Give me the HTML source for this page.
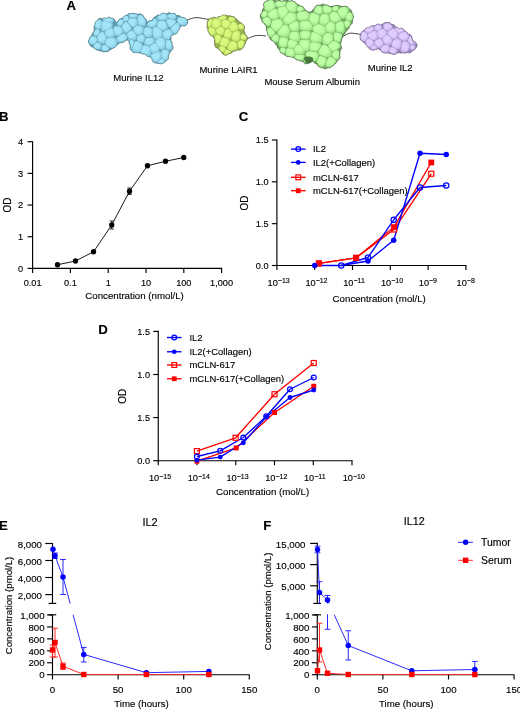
<!DOCTYPE html>
<html><head><meta charset="utf-8"><style>
html,body{margin:0;padding:0;background:#fff;}
body{width:520px;height:710px;overflow:hidden;}
svg{display:block;}
text{font-family:"Liberation Sans", Arial, Helvetica, sans-serif;fill:#000;stroke:#000;stroke-width:0.14px;}
</style></head><body>
<svg width="520" height="710" viewBox="0 0 520 710">
<defs><radialGradient id="gb" cx="0.45" cy="0.42" r="0.62"><stop offset="0" stop-color="#a2e4f8"/><stop offset="0.45" stop-color="#a2e4f8"/><stop offset="1" stop-color="#84c8de"/></radialGradient><radialGradient id="gy" cx="0.45" cy="0.42" r="0.62"><stop offset="0" stop-color="#d8fa7c"/><stop offset="0.45" stop-color="#d8fa7c"/><stop offset="1" stop-color="#bcdc64"/></radialGradient><radialGradient id="gg" cx="0.45" cy="0.42" r="0.62"><stop offset="0" stop-color="#bcffa4"/><stop offset="0.45" stop-color="#bcffa4"/><stop offset="1" stop-color="#9ce288"/></radialGradient><radialGradient id="gp" cx="0.45" cy="0.42" r="0.62"><stop offset="0" stop-color="#dfccff"/><stop offset="0.45" stop-color="#dfccff"/><stop offset="1" stop-color="#c4ade9"/></radialGradient></defs>
<path d="M185,21 C189,19.5 192,17.8 196,17.6 C200,17.4 204,19 209,19.5" fill="none" stroke="#333" stroke-width="0.9"/>
<path d="M244,39.5 C248,39 251,36.8 254,36 C257,35.2 261,35.2 266,36" fill="none" stroke="#333" stroke-width="0.9"/>
<path d="M340,37.5 C344,36.5 347,33.5 350,33.2 C353,33 357,34 362,34.5" fill="none" stroke="#333" stroke-width="0.9"/>
<path d="M107.82,17.40 106.62,18.38 104.91,17.90 103.60,18.16 102.61,18.80 100.92,18.23 99.16,18.61 98.25,19.22 97.55,20.42 96.63,20.85 95.58,21.91 95.01,23.29 94.99,24.66 94.03,26.42 94.03,27.75 94.42,28.75 93.94,29.94 93.99,31.52 92.46,33.19 91.85,34.64 91.78,35.48 91.00,36.55 89.65,37.58 89.22,39.22 88.49,40.69 88.68,42.60 89.71,43.93 89.93,45.14 90.57,46.10 91.54,46.75 93.06,46.94 93.43,47.79 94.25,48.60 95.74,49.09 97.07,50.17 98.75,50.35 100.36,51.09 101.72,51.11 103.19,51.79 107.16,51.58 108.67,50.95 110.62,49.40 112.23,48.82 113.00,48.10 114.96,47.44 116.09,46.31 116.48,45.56 117.81,44.69 118.66,43.42 120.44,42.62 121.47,42.78 122.95,42.49 124.58,41.20 125.78,40.75 126.66,39.79 126.96,39.76 128.54,40.83 129.46,41.08 129.17,41.96 129.17,43.33 130.52,46.01 129.87,47.27 130.02,48.80 130.60,49.66 131.60,50.28 132.04,51.39 132.83,52.19 134.44,52.67 135.22,52.55 136.77,52.87 138.14,52.61 138.97,52.88 140.27,52.90 142.16,53.92 144.33,53.91 144.95,54.50 146.27,54.95 146.90,55.91 147.83,56.54 148.93,56.76 149.73,56.63 150.26,57.30 152.10,58.71 152.31,60.80 153.67,62.45 155.00,63.00 156.63,62.94 160.32,63.93 164.28,62.76 165.09,61.94 165.55,60.76 167.14,60.23 168.03,59.34 168.58,57.54 168.19,56.04 168.92,54.93 169.18,53.18 170.22,52.24 170.68,50.97 171.76,50.22 172.63,48.92 172.94,47.38 172.63,45.85 171.99,44.83 172.15,42.78 171.57,41.37 170.72,40.48 171.00,37.91 170.72,36.47 172.41,35.44 173.67,34.16 175.15,34.24 176.76,33.38 177.44,32.36 177.66,30.98 178.83,30.18 179.70,28.89 180.00,27.36 179.92,26.58 182.28,25.78 184.47,25.97 185.92,25.37 186.53,24.87 187.40,23.56 187.71,22.02 187.40,20.48 187.03,19.79 185.12,18.01 184.41,17.63 182.85,17.32 181.55,17.55 180.95,16.74 179.67,15.89 178.17,15.59 176.30,15.58 175.55,14.27 174.58,13.62 172.85,13.45 171.71,13.95 170.93,13.16 169.39,12.69 168.34,12.90 167.43,13.51 165.57,13.72 164.33,13.23 162.75,13.23 161.29,13.84 160.10,15.09 159.59,15.29 158.40,14.99 157.38,15.20 156.51,15.77 156.01,16.51 155.11,16.76 153.76,17.66 152.85,19.01 152.60,19.91 151.55,20.60 150.00,20.60 148.50,21.22 147.36,22.37 146.90,23.26 146.85,21.27 146.24,19.79 144.62,17.81 143.72,17.16 143.48,16.23 142.63,14.96 140.62,13.88 139.10,13.88 137.68,14.47 136.21,13.64 134.87,13.72 132.95,13.22 130.98,13.75 130.00,13.61 128.45,13.91 127.76,14.29 126.68,15.36 125.14,15.67 124.43,16.04 123.31,17.16 122.88,18.07 119.70,19.05 118.61,20.14 118.05,21.46 116.54,22.18 115.03,20.94 114.53,19.46 113.70,18.62 112.60,18.17 110.99,18.30 110.33,17.65 109.36,17.25Z" fill="#609fb3" stroke="#3a6a78" stroke-width="0.7"/><g fill="url(#gb)"><path d="M173.1,32.9 173.2,33.1 173.4,33.2 173.5,33.4 173.7,33.5 173.9,33.6 174.1,33.7 174.3,33.7 174.5,33.8 174.8,33.8 175.0,33.8 175.2,33.7 175.4,33.7 175.6,33.6 175.8,33.5 176.1,33.4 176.2,33.3 176.4,33.2 176.6,33.0 176.7,32.8 176.8,32.7 176.9,32.6 177.0,32.4 177.1,32.2 177.2,32.0 177.2,31.8 177.3,31.0 177.3,30.9 177.4,30.9 177.4,30.8 177.4,30.8 177.4,30.8 177.4,30.8 177.4,30.7 177.5,30.7 177.5,30.7 178.2,30.2 178.4,30.1 178.6,29.9 178.7,29.8 178.8,29.6 179.1,29.1 179.3,28.9 179.3,28.7 179.4,28.5 179.5,28.3 179.6,27.7 179.6,27.5 179.6,27.2 179.6,27.0 179.6,26.6 179.6,26.6 179.6,26.6 179.6,26.5 179.6,26.5 179.6,26.5 179.6,26.4 179.7,26.3 179.7,26.3 179.7,26.2 179.8,26.0 179.9,25.8 179.9,25.6 179.9,25.4 179.9,25.2 179.9,24.9 179.9,24.7 179.8,24.5 179.7,24.3 179.6,24.1 179.5,24.0 179.3,23.8 179.2,23.6 178.8,23.3 178.6,23.2 178.4,23.1 178.2,23.0 178.0,22.9 177.8,22.8 177.6,22.8 177.4,22.8 177.2,22.8 177.0,22.8 176.8,22.9 176.6,22.9 176.4,23.0 176.2,23.1 176.0,23.2 175.9,23.4 171.4,27.5 171.2,27.7 171.1,27.8 171.0,28.0 170.9,28.2 170.8,28.4 170.7,28.6 170.7,28.8 170.7,29.0 170.7,29.3 170.7,29.5 170.7,29.7 170.8,29.9 170.9,30.1 171.0,30.3 171.1,30.5Z"/><path d="M151.0,55.0 150.9,55.2 150.9,55.4 150.8,55.6 150.8,55.8 150.8,56.1 150.8,56.3 150.8,56.5 150.9,56.7 150.9,56.9 151.0,57.1 151.2,57.3 151.3,57.5 151.4,57.7 151.6,57.8 152.3,58.4 152.4,58.4 152.4,58.4 152.4,58.5 152.5,58.5 152.5,58.5 152.5,58.6 152.5,58.6 152.5,58.7 152.5,58.7 152.7,60.0 152.7,60.2 152.7,60.4 152.8,60.6 152.9,60.8 153.0,61.0 153.1,61.1 153.5,61.6 153.7,61.7 153.8,61.9 154.0,62.0 154.2,62.1 154.4,62.2 154.6,62.3 154.8,62.4 155.0,62.4 155.3,62.4 155.5,62.4 155.7,62.3 155.9,62.3 156.1,62.2 156.3,62.1 156.5,62.0 160.4,59.2 160.5,59.0 160.7,58.9 160.8,58.7 160.9,58.5 161.0,58.3 161.1,58.1 161.2,57.9 161.2,57.7 161.3,57.5 161.3,57.3 161.1,53.4 161.1,53.2 161.0,53.0 161.0,52.8 160.9,52.6 160.8,52.4 160.7,52.2 160.5,52.1 160.4,51.9 160.2,51.8 160.1,51.6 159.9,51.5 159.7,51.5 159.5,51.4 159.3,51.3 159.1,51.3 158.9,51.3 158.6,51.3 158.4,51.4 158.2,51.4 158.0,51.5 152.1,54.0 151.9,54.1 151.7,54.2 151.6,54.3 151.4,54.5 151.3,54.6 151.1,54.8 151.0,55.0Z"/><path d="M156.6,39.6 156.4,39.7 156.3,39.8 156.1,39.9 155.9,40.1 155.8,40.2 155.7,40.4 155.6,40.6 155.5,40.8 155.4,41.0 155.4,41.2 155.4,41.4 155.3,41.7 155.4,41.9 155.4,42.1 155.5,42.3 155.5,42.5 155.6,42.7 155.8,42.9 160.0,48.9 160.2,49.0 160.3,49.2 160.5,49.3 160.6,49.4 160.8,49.5 161.0,49.6 161.2,49.7 161.4,49.7 161.6,49.8 161.8,49.8 162.1,49.8 162.3,49.7 162.5,49.7 163.5,49.4 163.7,49.3 163.9,49.2 164.1,49.1 164.3,48.9 164.5,48.8 164.6,48.6 164.7,48.5 164.8,48.3 164.9,48.1 165.0,47.9 165.0,47.6 165.1,47.4 165.5,40.9 165.5,40.7 165.5,40.5 165.5,40.3 165.4,40.1 165.4,39.9 165.3,39.7 165.1,39.5 165.0,39.4 164.9,39.2 164.7,39.1 163.2,37.9 163.0,37.7 162.8,37.6 162.6,37.5 162.4,37.5 162.2,37.4 162.0,37.4 161.8,37.4 161.6,37.4 161.3,37.5 161.1,37.5 160.9,37.6Z"/><path d="M100.9,29.0 100.9,29.2 100.9,29.4 100.9,29.6 100.9,29.8 101.0,30.1 101.1,30.3 101.2,30.4 101.3,30.6 101.5,30.8 101.6,31.0 101.8,31.1 102.0,31.2 102.2,31.3 102.4,31.4 102.7,31.5 102.9,31.5 103.1,31.6 103.4,31.6 103.6,31.5 103.8,31.5 104.0,31.5 104.2,31.4 104.4,31.3 111.7,27.2 111.9,27.1 112.0,26.9 112.2,26.8 112.3,26.6 112.4,26.5 112.6,26.3 112.6,26.1 112.7,25.9 112.8,25.7 112.8,25.5 112.8,25.2 112.8,25.0 112.7,24.8 112.7,24.6 112.7,24.5 112.6,24.3 112.5,24.1 112.4,23.9 112.2,23.8 112.1,23.6 111.9,23.5 111.7,23.3 111.5,23.2 111.3,23.1 104.8,20.8 104.6,20.7 104.3,20.7 104.1,20.6 103.9,20.6 103.7,20.7 103.5,20.7 103.3,20.8 103.1,20.8 102.9,20.9 102.7,21.1 102.5,21.2 102.4,21.3 102.3,21.5 102.1,21.7 102.0,21.9 101.9,22.1 101.9,22.3 101.8,22.5Z"/><path d="M110.4,47.8 110.6,47.9 110.8,48.0 111.0,48.1 111.3,48.2 111.5,48.2 111.7,48.2 111.9,48.2 112.1,48.1 112.3,48.1 112.5,48.0 112.7,47.9 112.8,47.8 112.9,47.8 112.9,47.8 114.3,47.3 114.5,47.2 114.7,47.2 114.8,47.0 115.0,46.9 115.1,46.8 115.6,46.4 115.7,46.2 115.9,46.0 116.0,45.8 116.2,45.4 116.2,45.4 116.2,45.4 116.2,45.3 116.3,45.3 116.3,45.3 116.5,45.1 116.6,45.0 116.8,44.8 116.9,44.6 117.0,44.4 117.0,44.2 117.1,44.0 117.1,43.7 117.1,43.5 117.1,43.3 117.1,43.1 116.3,39.3 116.2,39.1 116.1,38.9 116.0,38.7 115.9,38.5 115.8,38.3 115.7,38.2 115.5,38.0 115.3,37.9 115.2,37.8 115.0,37.7 114.8,37.6 114.6,37.6 114.4,37.6 114.1,37.5 108.7,37.5 108.5,37.5 108.3,37.5 108.1,37.5 107.9,37.6 107.7,37.7 107.5,37.8 107.3,37.9 107.2,38.1 107.0,38.2 106.9,38.4 106.8,38.6 106.7,38.8 105.2,42.3 105.1,42.5 105.0,42.7 105.0,42.9 105.0,43.1 105.0,43.3 105.0,43.6 105.1,43.8 105.1,44.0 105.2,44.2 105.3,44.4 105.5,44.6 105.6,44.7 105.8,44.9 106.0,45.0Z"/><path d="M159.5,15.6 159.3,15.7 159.1,15.7 158.9,15.7 158.7,15.8 158.5,15.9 158.3,16.0 158.1,16.1 157.9,16.2 157.8,16.4 157.7,16.5 157.5,16.7 157.4,16.9 157.4,17.1 157.3,17.3 157.3,17.5 157.2,17.7 157.2,17.9 157.2,18.1 157.3,18.3 157.3,18.5 157.4,18.7 157.6,19.1 157.7,19.3 157.8,19.5 157.9,19.6 158.1,19.8 158.3,19.9 158.4,20.1 158.6,20.2 158.8,20.3 159.1,20.3 159.3,20.4 159.5,20.4 164.5,20.5 164.7,20.5 164.9,20.5 165.1,20.4 165.3,20.4 165.5,20.3 165.7,20.2 165.9,20.1 166.1,19.9 167.2,18.9 167.3,18.7 167.4,18.6 167.6,18.4 167.6,18.2 167.7,18.0 167.8,17.8 167.8,17.6 167.8,17.4 167.8,17.2 167.8,16.2 167.8,15.9 167.7,15.7 167.7,15.5 167.6,15.3 167.5,15.2 167.4,15.0 167.2,14.8 167.1,14.7 166.9,14.5 166.8,14.4 166.6,14.3 166.4,14.2 166.2,14.2 166.0,14.1 165.8,14.1 165.6,14.1 165.5,14.1 165.5,14.1 165.4,14.1 165.4,14.1 164.6,13.8 164.5,13.7 164.3,13.6 164.0,13.6 163.8,13.6 163.3,13.6 163.0,13.6 162.8,13.6 162.6,13.7 162.4,13.8 161.9,14.0 161.7,14.1 161.5,14.2 161.3,14.3 161.2,14.5 160.4,15.3 160.4,15.3 160.3,15.4 160.3,15.4 160.2,15.4 160.2,15.4 159.8,15.6 159.7,15.6 159.7,15.6 159.6,15.6 159.6,15.7Z"/><path d="M116.9,40.7 116.9,40.9 117.0,41.1 117.1,41.3 117.2,41.5 117.3,41.7 117.5,41.8 117.7,42.0 117.8,42.1 118.0,42.2 118.2,42.3 118.4,42.4 118.6,42.4 118.8,42.4 119.1,42.4 119.3,42.4 119.5,42.4 119.7,42.3 119.9,42.3 120.2,42.1 120.2,42.1 120.3,42.1 120.3,42.1 120.4,42.1 120.4,42.1 120.5,42.1 120.6,42.1 121.1,42.2 121.3,42.2 121.5,42.2 121.6,42.2 121.8,42.1 122.2,42.1 122.4,42.0 122.6,42.0 122.8,41.9 123.0,41.8 123.1,41.6 124.2,40.8 124.2,40.8 124.3,40.7 124.4,40.7 124.4,40.7 125.0,40.5 125.2,40.4 125.3,40.3 125.5,40.2 125.7,40.0 125.8,39.9 126.2,39.4 126.3,39.4 126.3,39.4 126.4,39.3 126.6,39.2 126.7,39.0 126.9,38.8 127.0,38.7 127.1,38.5 127.2,38.3 127.3,38.1 127.3,37.8 127.3,37.6 127.3,37.4 127.3,37.2 127.3,37.0 127.2,36.8 126.5,34.9 126.4,34.7 126.4,34.5 126.2,34.3 126.1,34.2 126.0,34.0 125.8,33.9 125.6,33.8 125.5,33.7 125.3,33.6 125.1,33.5 124.9,33.5 124.7,33.4 124.4,33.4 124.2,33.4 124.0,33.4 123.8,33.4 123.6,33.5 123.3,33.6 123.1,33.7 117.6,37.0 117.4,37.1 117.3,37.2 117.1,37.4 117.0,37.5 116.8,37.7 116.7,37.9 116.7,38.1 116.6,38.3 116.5,38.5 116.5,38.7 116.5,38.9 116.5,39.1 116.6,39.3Z"/><path d="M101.4,48.0 101.4,48.2 101.3,48.5 101.3,48.7 101.3,48.9 101.3,49.1 101.4,49.3 101.4,49.5 101.5,49.7 101.6,49.9 101.7,50.1 101.9,50.3 102.0,50.4 102.2,50.6 102.4,50.7 102.6,50.8 102.8,50.9 103.0,51.0 103.2,51.0 103.4,51.1 103.6,51.1 103.9,51.1 106.6,51.0 106.9,50.9 107.1,50.9 107.4,50.8 107.7,50.7 107.9,50.6 108.1,50.4 108.3,50.3 108.4,50.2 108.6,50.0 108.7,49.8 108.8,49.6 108.9,49.4 109.0,49.2 109.0,49.0 109.1,48.8 109.1,48.6 109.1,48.4 109.0,48.2 109.0,47.9 108.9,47.7 108.8,47.5 108.7,47.4 108.5,47.2 108.4,47.0 108.2,46.9 108.0,46.8 105.4,45.1 105.2,44.9 105.0,44.9 104.8,44.8 104.6,44.7 104.3,44.7 104.1,44.7 103.9,44.7 103.7,44.8 103.5,44.8 103.3,44.9 103.1,45.0 102.9,45.1 102.7,45.3 102.6,45.4 102.4,45.6 102.3,45.8 102.2,45.9 102.1,46.2Z"/><path d="M177.2,19.1 177.1,19.3 177.1,19.5 177.0,19.7 177.0,20.0 177.0,20.2 177.1,20.4 177.3,21.2 177.3,21.4 177.4,21.6 177.5,21.8 177.6,22.0 177.7,22.1 177.8,22.3 178.0,22.4 180.8,24.8 181.0,25.0 181.1,25.1 181.4,25.2 181.6,25.3 181.8,25.3 182.0,25.4 182.2,25.4 182.3,25.4 182.3,25.4 183.9,25.5 184.1,25.5 184.3,25.5 184.5,25.5 184.7,25.4 184.9,25.3 185.4,25.1 185.6,25.0 185.8,24.9 186.0,24.8 186.0,24.8 186.1,24.6 186.3,24.5 186.4,24.3 186.8,23.8 186.9,23.6 187.0,23.4 187.0,23.2 187.1,23.0 187.2,22.5 187.2,22.2 187.2,22.0 187.2,21.8 187.2,21.6 187.1,21.0 187.0,20.7 186.9,20.5 186.8,20.3 186.7,20.1 186.6,19.9 186.4,19.8 185.1,18.6 184.9,18.4 184.8,18.3 184.6,18.2 184.6,18.2 184.4,18.1 184.2,18.0 183.9,18.0 183.3,17.8 183.0,17.8 182.8,17.8 182.6,17.8 182.4,17.8 181.7,18.0 181.6,18.0 181.6,18.0 181.5,18.0 181.5,18.0 181.4,18.0 181.4,17.9 181.4,17.9 181.3,17.9 181.3,17.9 181.3,17.9 181.2,17.8 181.2,17.8 181.1,17.7 180.9,17.5 180.7,17.4 180.6,17.3 180.4,17.2 180.2,17.1 180.0,17.1 179.7,17.0 179.5,17.0 179.3,17.0 179.1,17.1 178.9,17.1 178.7,17.2 178.5,17.3 178.3,17.4 178.1,17.5 178.0,17.7 177.8,17.8 177.7,18.0 177.6,18.2 177.5,18.4Z"/><path d="M161.4,57.1 161.5,57.3 161.5,57.5 161.6,57.7 161.6,57.9 161.7,58.1 161.8,58.3 162.0,58.4 162.1,58.6 162.3,58.7 162.4,58.8 162.6,58.9 162.8,59.0 165.0,59.9 165.2,60.0 165.4,60.0 165.6,60.1 165.8,60.1 166.0,60.1 166.2,60.0 166.4,60.0 166.6,59.9 166.8,59.8 167.0,59.7 167.2,59.6 167.3,59.4 167.5,59.3 167.6,59.1 167.7,58.9 167.8,58.7 167.9,58.5 168.0,58.1 168.1,57.9 168.1,57.7 168.1,57.5 168.1,57.3 168.1,57.1 168.0,56.9 167.8,56.2 167.8,56.1 167.8,56.1 167.8,56.0 167.8,56.0 167.8,56.0 167.8,55.9 167.9,55.9 167.9,55.8 167.9,55.8 168.3,55.2 168.4,55.0 168.5,54.8 168.6,54.6 168.6,54.3 168.8,53.2 168.8,53.1 168.8,53.1 168.8,53.0 168.9,52.9 169.0,52.7 169.0,52.5 169.1,52.3 169.1,52.1 169.1,51.9 169.1,51.6 169.0,51.4 169.0,51.2 168.9,51.0 168.8,50.8 168.6,50.6 168.5,50.5 168.3,50.3 168.2,50.2 168.0,50.1 167.8,50.0 167.6,49.9 165.7,49.3 165.5,49.2 165.3,49.2 165.1,49.2 164.9,49.2 164.6,49.2 164.4,49.3 162.8,49.8 162.6,49.9 162.4,50.0 162.2,50.1 162.0,50.2 161.8,50.4 161.7,50.5 161.6,50.7 161.5,50.9 161.4,51.1 161.3,51.3 161.2,51.5 161.2,51.8 161.2,52.0Z"/><path d="M150.6,45.5 150.5,45.6 150.3,45.7 150.2,45.9 150.1,46.1 150.0,46.3 149.9,46.5 149.8,46.7 149.8,46.9 149.8,47.1 149.8,47.3 149.8,47.5 149.8,47.7 150.7,51.6 150.8,51.8 150.9,52.0 151.0,52.2 151.1,52.4 151.2,52.6 151.3,52.7 151.5,52.9 151.7,53.0 151.9,53.1 152.1,53.2 152.3,53.3 152.5,53.3 152.7,53.3 152.9,53.3 153.1,53.3 153.3,53.3 153.5,53.2 153.7,53.2 158.3,51.2 158.5,51.1 158.7,51.0 158.8,50.9 159.0,50.7 159.1,50.6 159.3,50.4 159.4,50.2 159.5,50.0 159.5,49.8 159.6,49.6 159.6,49.4 159.6,49.1 159.6,48.9 159.6,48.7 159.5,48.5 159.4,48.3 159.3,48.1 159.2,47.9 156.4,44.0 156.3,43.8 156.1,43.6 155.9,43.5 155.8,43.4 155.6,43.3 155.4,43.2 155.1,43.1 154.9,43.1 154.7,43.0 154.5,43.0 154.3,43.1 154.1,43.1 153.9,43.2 153.6,43.2 153.5,43.4 153.3,43.5Z"/><path d="M165.0,39.0 165.2,39.1 165.4,39.2 165.6,39.3 165.8,39.4 166.1,39.4 166.3,39.4 166.5,39.4 166.7,39.4 168.4,39.2 168.6,39.1 168.9,39.1 169.1,39.0 169.3,38.9 169.4,38.8 169.6,38.6 169.8,38.5 169.9,38.3 170.0,38.1 170.1,37.9 170.2,37.7 170.3,37.5 170.3,37.3 170.3,37.0 170.3,36.8 170.3,36.6 170.3,36.6 170.3,36.6 170.3,36.5 170.3,36.4 170.3,36.4 170.3,36.4 170.3,36.3 170.3,36.3 170.3,36.2 170.4,36.2 170.4,36.2 170.4,36.1 170.5,36.1 170.5,36.1 171.6,35.4 171.8,35.3 172.0,35.1 172.1,35.0 172.3,34.8 172.4,34.6 172.5,34.4 172.6,34.2 172.6,34.0 172.7,33.8 172.7,33.6 172.7,33.4 172.7,33.1 172.6,32.9 172.5,32.7 172.5,32.5 172.4,32.3 172.2,32.2 170.6,30.0 170.4,29.8 170.3,29.7 170.1,29.6 169.9,29.4 169.7,29.4 169.5,29.3 169.3,29.2 169.1,29.2 168.9,29.2 168.6,29.2 168.4,29.2 168.2,29.3 168.0,29.3 167.8,29.4 164.0,31.4 163.9,31.5 163.7,31.6 163.5,31.7 163.4,31.9 163.3,32.1 163.1,32.2 163.0,32.4 163.0,32.6 162.9,32.8 162.9,33.0 162.5,35.6 162.5,35.8 162.5,36.0 162.5,36.2 162.5,36.4 162.6,36.6 162.7,36.8 162.8,37.0 162.9,37.2 163.0,37.3 163.2,37.5 163.3,37.6Z"/><path d="M147.0,27.1 146.8,27.1 146.6,27.1 146.3,27.1 146.1,27.1 145.9,27.2 145.7,27.3 145.5,27.4 145.3,27.5 145.1,27.6 145.0,27.8 144.8,27.9 144.7,28.1 144.6,28.3 144.5,28.5 144.4,28.7 143.5,32.4 143.4,32.6 143.4,32.8 143.4,33.0 143.4,33.2 143.4,33.4 143.5,33.6 143.6,33.8 143.7,34.0 143.8,34.2 145.3,36.4 145.5,36.6 145.6,36.8 145.8,36.9 146.0,37.0 146.2,37.1 146.4,37.2 146.6,37.3 146.8,37.3 147.0,37.4 147.3,37.3 150.3,37.2 150.5,37.1 150.7,37.1 150.9,37.0 151.1,37.0 151.3,36.9 151.5,36.7 151.7,36.6 151.8,36.5 151.9,36.3 152.1,36.1 152.2,35.9 152.2,35.7 152.3,35.5 152.4,35.3 152.4,35.1 152.4,34.9 152.2,29.9 152.2,29.7 152.1,29.5 152.1,29.3 152.0,29.1 151.9,28.9 151.8,28.7 151.7,28.6 151.5,28.4 151.4,28.3 151.2,28.2 151.0,28.0 150.8,28.0 150.6,27.9 150.4,27.8Z"/><path d="M129.1,14.3 129.0,14.3 129.0,14.3 128.9,14.4 128.9,14.4 128.8,14.4 128.8,14.5 128.7,14.5 128.7,14.6 128.7,14.6 128.7,14.7 128.6,14.7 128.6,14.8 128.6,14.8 128.6,14.9 128.6,15.0 128.6,15.0 128.6,15.1 129.4,17.4 129.4,17.4 129.4,17.5 129.5,17.6 129.5,17.6 129.5,17.6 129.6,17.7 129.6,17.7 129.7,17.7 129.8,17.8 129.8,17.8 129.9,17.8 129.9,17.8 130.0,17.8 136.5,17.4 136.6,17.4 136.6,17.4 136.7,17.4 136.7,17.4 136.8,17.4 136.8,17.3 136.9,17.3 136.9,17.3 136.9,17.2 137.0,17.2 137.8,15.8 137.9,15.8 137.9,15.7 137.9,15.7 137.9,15.6 137.9,15.6 137.9,15.5 137.9,15.5 137.9,15.4 137.9,15.3 137.9,15.3 137.9,15.2 137.8,15.2 137.8,15.1 137.7,15.1 137.7,15.1 137.7,15.0 137.6,15.0 137.6,15.0 137.5,15.0 137.5,15.0 137.5,14.9 137.4,14.9 137.4,14.9 136.2,14.2 136.2,14.2 136.1,14.2 136.1,14.2 136.0,14.2 136.0,14.2 135.9,14.2 134.9,14.2 134.9,14.2 134.9,14.2 134.8,14.2 134.8,14.2 134.8,14.2 134.7,14.2 133.1,13.8 133.0,13.8 133.0,13.8 132.9,13.8 132.9,13.8 132.8,13.8 131.1,14.2 131.1,14.2 131.1,14.2 131.0,14.3 131.0,14.3 130.9,14.3 130.9,14.3 130.9,14.3 130.1,14.1 130.0,14.1 130.0,14.1 129.9,14.1Z"/><path d="M127.5,22.8 127.3,22.7 127.2,22.5 127.0,22.4 126.8,22.3 126.6,22.2 126.4,22.1 126.2,22.1 126.0,22.1 125.8,22.1 125.5,22.1 125.3,22.1 125.1,22.2 124.9,22.3 124.7,22.4 124.6,22.5 124.4,22.6 124.2,22.8 124.1,22.9 122.3,25.3 122.2,25.5 122.1,25.7 122.0,25.9 121.9,26.1 121.9,26.3 121.9,26.5 121.8,26.7 121.9,26.9 121.9,27.1 121.9,27.3 122.0,27.5 123.8,31.7 123.9,31.9 124.0,32.1 124.1,32.3 124.2,32.4 124.4,32.6 124.6,32.7 124.8,32.8 125.0,32.9 125.2,33.0 125.3,33.0 125.5,33.0 125.7,33.1 125.9,33.1 126.1,33.1 126.4,33.0 126.6,33.0 126.8,32.9 127.0,32.8 127.2,32.7 130.7,30.2 130.9,30.1 131.1,29.9 131.2,29.8 131.3,29.6 131.4,29.4 131.5,29.2 131.6,29.0 131.7,28.8 131.7,28.6 131.7,28.4 131.7,28.1 131.6,27.9 131.6,27.7 131.5,27.5 131.4,27.3 131.3,27.1 131.1,27.0Z"/><path d="M104.0,32.8 103.9,32.6 103.7,32.5 103.6,32.3 103.4,32.2 103.2,32.1 103.0,32.0 102.8,31.9 102.6,31.8 102.4,31.8 102.1,31.8 101.9,31.8 101.7,31.8 101.5,31.9 101.3,32.0 101.1,32.1 100.9,32.2 100.7,32.3 100.6,32.5 100.4,32.6 97.7,36.1 97.6,36.3 97.5,36.5 97.4,36.7 97.3,36.9 97.3,37.1 97.2,37.4 97.2,37.6 97.3,37.8 97.7,40.6 97.8,40.8 97.8,41.0 97.9,41.2 98.0,41.4 98.1,41.5 98.3,41.7 98.4,41.8 98.6,42.0 98.8,42.1 101.5,43.7 101.7,43.8 101.9,43.9 102.1,44.0 102.4,44.0 102.6,44.0 102.8,44.0 103.0,44.0 103.2,44.0 103.4,43.9 103.6,43.8 103.8,43.7 104.0,43.6 104.2,43.4 104.3,43.3 104.5,43.1 104.6,42.9 104.7,42.7 106.5,38.5 106.6,38.3 106.7,38.1 106.7,37.9 106.7,37.7 106.7,37.5 106.7,37.2 106.6,37.0 106.6,36.8 106.5,36.6 106.4,36.4Z"/><path d="M134.1,27.6 134.0,27.7 133.8,27.9 133.6,28.0 133.5,28.2 133.4,28.4 133.3,28.6 133.2,28.8 133.2,29.0 133.2,29.2 133.1,29.4 133.1,29.6 133.2,29.8 133.2,30.0 133.3,30.2 133.4,30.4 133.5,30.6 133.6,30.8 136.3,34.2 136.4,34.4 136.6,34.5 136.8,34.6 137.0,34.8 137.2,34.9 137.4,34.9 137.6,35.0 137.8,35.0 138.0,35.0 138.2,35.0 138.4,35.0 138.7,34.9 138.9,34.9 141.8,33.7 142.0,33.6 142.2,33.5 142.4,33.3 142.5,33.2 142.7,33.0 142.8,32.8 142.9,32.6 143.0,32.4 143.1,32.2 143.8,29.4 143.9,29.2 143.9,28.9 143.9,28.7 143.9,28.5 143.9,28.3 143.8,28.1 143.7,27.9 143.6,27.7 143.5,27.5 143.4,27.4 143.2,27.2 143.1,27.1 142.9,26.9 142.7,26.8 142.5,26.7 139.1,25.4 138.9,25.3 138.7,25.3 138.5,25.3 138.3,25.3 138.1,25.3 137.9,25.3 137.7,25.4 137.5,25.4 137.3,25.5 137.1,25.6Z"/><path d="M133.4,40.1 133.6,40.2 133.8,40.2 134.0,40.2 134.2,40.2 134.4,40.2 134.6,40.2 134.9,40.1 135.0,40.0 135.2,39.9 135.4,39.8 135.6,39.7 135.7,39.6 135.9,39.4 136.0,39.2 136.1,39.0 136.2,38.8 136.3,38.6 136.8,36.8 136.8,36.6 136.8,36.4 136.9,36.2 136.8,36.0 136.8,35.8 136.8,35.6 136.7,35.4 136.6,35.2 136.5,35.0 136.4,34.9 133.6,31.3 133.4,31.2 133.3,31.0 133.1,30.9 132.9,30.8 132.7,30.7 132.5,30.6 132.3,30.5 132.1,30.5 131.9,30.5 131.6,30.5 131.4,30.5 131.2,30.6 131.0,30.7 130.8,30.8 130.6,30.9 127.9,32.7 127.8,32.9 127.6,33.0 127.5,33.2 127.3,33.4 127.2,33.6 127.1,33.8 127.1,34.0 127.0,34.2 127.0,34.4 127.0,34.6 127.0,34.9 127.1,35.1 127.1,35.3 127.8,37.3 127.9,37.5 128.0,37.7 128.1,37.8 128.3,38.0 128.4,38.2 128.6,38.3 128.8,38.4 129.0,38.5 129.2,38.6Z"/><path d="M132.1,48.9 132.0,49.1 132.0,49.4 131.9,49.6 131.9,49.8 132.0,50.0 132.0,50.3 132.1,50.5 132.2,50.7 132.3,50.9 132.4,51.1 132.5,51.3 132.7,51.5 132.8,51.6 133.0,51.7 133.2,51.8 133.4,51.9 133.6,52.0 134.0,52.1 134.2,52.2 134.4,52.2 134.6,52.2 134.8,52.2 135.0,52.2 135.1,52.2 135.2,52.2 135.2,52.2 135.2,52.2 135.3,52.2 135.3,52.2 136.3,52.4 136.6,52.4 136.8,52.4 137.0,52.4 137.2,52.4 138.0,52.2 138.1,52.2 138.1,52.2 138.2,52.2 138.2,52.2 138.4,52.2 138.6,52.2 138.8,52.2 139.0,52.2 139.2,52.1 139.4,52.0 139.6,51.9 139.8,51.8 139.9,51.7 140.1,51.5 140.2,51.4 140.3,51.2 140.4,51.0 142.7,46.4 142.7,46.2 142.8,46.0 142.8,45.8 142.9,45.5 142.9,45.3 142.9,45.1 142.8,44.9 142.8,44.7 142.7,44.5 142.6,44.3 142.5,44.2 142.4,44.0 142.2,43.8 142.1,43.7 141.9,43.6 141.7,43.5 137.5,41.2 137.3,41.1 137.1,41.0 136.9,41.0 136.7,40.9 136.5,40.9 136.3,40.9 136.1,41.0 135.9,41.0 135.7,41.1 135.5,41.2 135.3,41.3 135.1,41.4 135.0,41.5 134.8,41.7 134.7,41.8 134.6,42.0 134.5,42.2 134.4,42.4Z"/><path d="M157.4,61.7 157.4,61.7 157.3,61.7 157.3,61.8 157.3,61.8 157.2,61.9 157.2,61.9 157.2,62.0 157.2,62.1 157.2,62.1 157.2,62.2 157.2,62.2 157.2,62.3 157.2,62.3 157.2,62.4 157.3,62.5 157.3,62.5 157.3,62.5 157.4,62.6 157.4,62.6 157.5,62.7 157.5,62.7 157.6,62.7 157.6,62.7 160.1,63.4 160.2,63.4 160.3,63.4 160.3,63.4 160.4,63.4 160.4,63.4 160.5,63.4 163.9,62.4 163.9,62.4 164.0,62.3 164.1,62.3 164.1,62.3 164.1,62.2 164.6,61.8 164.7,61.7 164.7,61.7 164.7,61.6 164.7,61.6 165.0,60.8 165.0,60.8 165.1,60.7 165.1,60.7 165.1,60.6 165.1,60.5 165.1,60.5 165.0,60.4 165.0,60.4 165.0,60.3 165.0,60.3 164.9,60.2 164.9,60.2 164.8,60.1 164.8,60.1 164.7,60.1 164.7,60.1 161.8,58.8 161.7,58.8 161.7,58.8 161.6,58.8 161.5,58.8 161.5,58.8 161.4,58.8 161.4,58.8 161.3,58.9 161.2,58.9 161.2,58.9Z"/><path d="M118.2,21.9 118.1,22.0 117.9,22.2 117.7,22.3 117.6,22.5 117.5,22.7 117.4,22.8 117.3,23.0 117.2,23.2 117.2,23.4 117.2,23.7 117.2,23.9 117.2,24.1 117.2,24.3 117.3,24.5 117.4,24.7 117.5,24.9 117.6,25.1 117.7,25.2 117.9,25.4 118.0,25.5 118.2,25.6 118.4,25.7 118.6,25.8 118.8,25.9 119.0,25.9 119.2,26.0 119.9,26.0 120.1,26.0 120.3,26.0 120.6,26.0 120.8,25.9 121.0,25.8 121.2,25.7 121.3,25.6 121.5,25.5 121.7,25.3 121.8,25.2 123.2,23.3 123.3,23.1 123.4,22.9 123.5,22.7 123.6,22.5 123.6,22.3 123.6,22.1 123.6,21.9 123.6,21.7 123.6,21.5 123.5,21.3 123.4,21.1 123.3,20.9 123.2,20.7 123.1,20.5 122.7,20.0 122.5,19.9 122.4,19.8 122.2,19.6 122.0,19.5 121.8,19.5 121.6,19.4 121.4,19.3 121.2,19.3 121.0,19.3 120.8,19.3 120.6,19.4 120.4,19.4 120.2,19.5 120.0,19.6 119.8,19.7 119.6,19.8 119.5,20.0 119.3,20.1 119.2,20.3 119.0,20.4 118.9,20.6 118.8,20.8 118.5,21.6 118.5,21.6 118.4,21.7 118.4,21.7 118.4,21.8 118.4,21.8 118.3,21.8Z"/><path d="M140.8,50.4 140.7,50.6 140.6,50.8 140.6,51.0 140.6,51.3 140.6,51.5 140.6,51.7 140.6,51.9 140.7,52.1 140.7,52.3 140.8,52.5 140.9,52.6 141.1,52.8 141.2,53.0 141.4,53.1 141.5,53.2 141.7,53.3 141.7,53.4 141.9,53.5 142.1,53.5 142.4,53.6 142.6,53.6 142.8,53.6 144.3,53.6 144.3,53.6 144.4,53.6 144.4,53.6 144.4,53.6 144.4,53.6 144.5,53.6 144.5,53.7 144.5,53.7 144.6,53.7 144.8,53.9 144.9,54.1 145.1,54.2 145.3,54.3 145.6,54.4 146.3,54.7 146.4,54.7 146.4,54.7 146.4,54.7 146.5,54.7 146.5,54.7 146.5,54.8 146.5,54.8 146.5,54.8 146.9,55.3 147.0,55.5 147.2,55.7 147.3,55.8 147.5,55.9 147.6,56.0 147.8,56.1 148.0,56.2 148.2,56.3 148.4,56.3 148.4,56.3 148.6,56.4 148.8,56.4 149.0,56.4 149.2,56.3 149.4,56.3 149.6,56.2 149.8,56.1 150.0,56.0 150.2,55.9 150.4,55.8 150.5,55.6 150.6,55.4 150.7,55.2 150.9,54.9 151.0,54.7 151.1,54.5 151.1,54.3 151.2,54.1 151.2,53.8 151.2,53.6 151.1,53.4 149.8,47.6 149.7,47.4 149.7,47.2 149.6,47.0 149.4,46.8 149.3,46.7 149.1,46.5 149.0,46.4 148.8,46.2 148.6,46.1 148.4,46.1 148.2,46.0 145.2,45.3 145.0,45.3 144.7,45.2 144.5,45.2 144.3,45.3 144.1,45.3 143.9,45.4 143.7,45.5 143.5,45.6 143.4,45.7 143.2,45.8 143.0,46.0 142.9,46.1 142.8,46.3 142.7,46.5Z"/><path d="M170.2,40.7 170.2,40.6 170.1,40.5 169.9,40.3 169.8,40.2 169.6,40.0 169.4,39.9 169.2,39.8 169.1,39.8 168.9,39.7 168.6,39.7 168.4,39.6 168.2,39.6 168.0,39.7 167.7,39.7 167.5,39.7 167.3,39.8 167.1,39.9 166.9,40.0 166.8,40.1 166.6,40.2 166.4,40.4 166.3,40.5 166.2,40.7 166.1,40.9 166.0,41.1 165.9,41.3 165.9,41.5 165.8,41.7 165.5,47.1 165.5,47.3 165.5,47.5 165.5,47.7 165.6,47.9 165.6,48.1 165.7,48.3 165.8,48.5 166.0,48.7 166.1,48.8 166.3,49.0 166.4,49.1 166.6,49.2 166.8,49.3 167.0,49.4 169.3,50.1 169.5,50.2 169.7,50.2 169.9,50.2 170.1,50.2 170.3,50.2 170.5,50.1 170.8,50.0 171.0,50.0 171.1,49.8 171.3,49.7 171.5,49.6 171.6,49.4 171.8,49.2 171.9,49.1 172.0,48.9 172.1,48.7 172.1,48.5 172.2,48.3 172.3,47.8 172.3,47.6 172.3,47.4 172.3,47.2 172.3,47.0 172.2,46.5 172.1,46.3 172.1,46.1 172.0,45.9 171.9,45.7 171.5,45.1 171.5,45.1 171.5,45.0 171.5,45.0 171.5,44.9 171.4,44.9 171.4,44.8 171.4,44.8 171.6,43.4 171.6,43.2 171.5,43.0 171.5,42.8 171.5,42.6 171.4,42.4 171.3,42.1 171.2,41.9 171.1,41.7 170.9,41.5 170.8,41.4 170.3,40.9 170.3,40.9 170.3,40.8Z"/><path d="M141.4,15.0 141.2,14.9 141.0,14.9 140.8,14.8 140.6,14.8 140.4,14.8 140.1,14.8 139.9,14.8 139.7,14.9 139.5,14.9 139.3,15.0 139.1,15.2 139.0,15.3 138.8,15.4 138.7,15.6 138.5,15.8 137.7,17.0 137.6,17.2 137.5,17.4 137.5,17.6 137.4,17.9 137.4,18.1 137.4,18.3 137.4,18.5 138.1,23.3 138.2,23.5 138.2,23.7 138.3,23.9 138.4,24.1 138.5,24.2 138.7,24.4 138.8,24.6 139.0,24.7 139.1,24.8 139.3,24.9 139.5,25.0 142.9,26.3 143.1,26.4 143.3,26.4 143.5,26.5 143.7,26.5 144.0,26.5 144.2,26.4 144.4,26.4 144.6,26.3 144.8,26.2 145.0,26.1 145.1,26.0 145.3,25.8 145.4,25.6 145.6,25.5 145.7,25.3 145.7,25.1 145.8,24.9 145.9,24.7 145.9,24.5 146.1,21.8 146.1,21.6 146.1,21.4 146.1,21.2 146.0,21.0 146.0,20.8 145.8,20.4 145.7,20.2 145.6,20.0 145.5,19.9 144.4,18.5 144.2,18.4 144.1,18.2 143.9,18.1 143.4,17.7 143.3,17.7 143.3,17.6 143.2,17.6 143.2,17.5 143.2,17.5 143.1,17.4 143.1,17.3 143.1,17.3 143.0,16.8 142.9,16.6 142.8,16.4 142.7,16.2 142.5,15.9 142.4,15.7 142.2,15.6 142.1,15.4 141.9,15.3 141.7,15.2Z"/><path d="M161.0,37.4 161.2,37.3 161.4,37.1 161.6,37.0 161.7,36.8 161.9,36.7 162.0,36.5 162.1,36.3 162.2,36.1 162.3,35.9 162.3,35.7 162.7,33.0 162.7,32.8 162.7,32.6 162.7,32.4 162.6,32.1 162.6,31.9 162.5,31.7 162.4,31.5 162.2,31.4 162.1,31.2 161.9,31.0 157.2,27.0 157.0,26.9 156.8,26.8 156.6,26.7 156.4,26.6 156.2,26.6 156.0,26.5 155.8,26.5 155.6,26.5 155.4,26.6 155.2,26.6 154.9,26.7 154.7,26.8 153.6,27.4 153.4,27.5 153.2,27.6 153.1,27.8 152.9,27.9 152.8,28.1 152.7,28.3 152.6,28.5 152.5,28.7 152.5,29.0 152.4,29.2 152.4,29.4 152.7,36.4 152.7,36.6 152.8,36.8 152.8,37.1 152.9,37.3 153.0,37.5 153.2,37.7 153.3,37.8 154.3,38.9 154.4,39.0 154.6,39.1 154.8,39.2 155.0,39.3 155.2,39.4 155.4,39.5 155.6,39.5 155.8,39.5 156.0,39.5 156.2,39.5 156.4,39.5 156.6,39.4 156.8,39.3Z"/><path d="M147.4,23.6 147.3,23.8 147.2,24.0 147.1,24.2 147.1,24.4 147.0,24.6 147.0,24.8 147.0,25.1 147.1,25.3 147.1,25.5 147.2,25.7 147.3,25.9 147.4,26.1 147.5,26.2 147.7,26.4 147.8,26.5 148.0,26.7 148.2,26.8 148.4,26.9 148.6,26.9 148.8,27.0 151.5,27.5 151.7,27.6 152.0,27.6 152.2,27.6 152.4,27.5 152.6,27.5 152.8,27.4 153.0,27.3 155.1,26.2 155.2,26.1 155.4,26.0 155.6,25.9 155.7,25.7 155.8,25.6 155.9,25.4 156.0,25.2 156.1,25.0 157.5,21.2 157.5,21.0 157.6,20.8 157.6,20.6 157.6,20.4 157.6,20.2 157.5,20.0 157.5,19.8 157.4,19.6 157.4,19.5 157.3,19.4 157.2,19.2 157.0,19.0 156.9,18.8 156.7,18.7 156.5,18.6 156.4,18.5 156.2,18.4 155.9,18.3 155.7,18.3 155.5,18.2 155.3,18.2 155.1,18.3 154.9,18.3 154.7,18.4 154.5,18.4 154.3,18.5 154.1,18.6 153.9,18.8 153.8,18.9 153.6,19.1 153.5,19.3 153.4,19.4 153.3,19.6 153.2,19.9 153.2,20.0 153.2,20.1 153.1,20.2 153.1,20.2 153.1,20.3 153.0,20.3 153.0,20.4 152.9,20.4 152.9,20.4 151.9,21.1 151.9,21.1 151.8,21.1 151.7,21.2 151.7,21.2 151.6,21.2 151.6,21.2 151.5,21.2 150.6,21.2 150.3,21.2 150.1,21.2 149.9,21.3 149.7,21.4 149.2,21.6 149.1,21.7 148.9,21.8 148.7,21.9 148.5,22.0 148.1,22.5 147.9,22.7 147.8,22.8 147.7,23.0 147.4,23.5 147.4,23.5Z"/><path d="M94.0,32.4 93.9,32.6 93.8,32.8 93.6,33.0 93.6,33.2 93.5,33.4 93.5,33.6 93.4,33.8 93.4,34.1 93.5,34.3 93.5,34.5 93.6,34.7 93.7,34.9 93.8,35.1 93.9,35.3 94.0,35.4 94.2,35.6 94.4,35.7 94.6,35.8 94.8,35.9 95.0,36.0 95.2,36.1 95.4,36.1 95.6,36.2 95.8,36.2 96.1,36.2 96.3,36.1 96.5,36.1 96.7,36.0 96.9,35.9 97.1,35.8 97.3,35.7 97.4,35.5 97.6,35.3 99.5,33.0 99.6,32.8 99.7,32.6 99.8,32.4 99.8,32.2 99.9,32.0 99.9,31.7 99.9,31.5 99.9,31.3 99.9,31.1 99.8,30.9 99.7,30.7 99.6,30.5 99.5,30.3 99.3,30.1 99.2,30.0 99.0,29.8 98.8,29.7 98.6,29.6 98.4,29.5 97.5,29.2 97.3,29.2 97.1,29.1 96.9,29.1 96.7,29.1 96.5,29.1 96.3,29.2 96.1,29.2 95.9,29.3 95.7,29.4 95.5,29.5 95.4,29.7 95.2,29.8 95.1,30.0 94.9,30.2 94.8,30.3 94.8,30.5 94.7,30.7 94.7,30.9 94.6,31.2 94.6,31.4 94.6,31.5 94.6,31.5 94.6,31.6 94.6,31.7 94.6,31.7 94.6,31.8 94.6,31.8 94.5,31.9 94.5,32.0 94.4,32.0Z"/><path d="M171.5,14.2 171.3,14.1 171.2,14.0 171.0,13.9 170.8,13.8 170.6,13.8 170.4,13.8 170.1,13.7 169.9,13.8 169.7,13.8 169.5,13.8 169.3,13.9 169.1,14.0 168.9,14.1 168.8,14.2 168.6,14.3 168.4,14.5 168.3,14.7 168.2,14.8 168.1,15.0 168.0,15.2 168.0,15.4 167.9,15.6 167.9,15.9 167.9,16.1 167.9,16.4 167.9,16.6 168.0,16.8 168.1,17.0 168.1,17.2 168.2,17.4 168.3,17.6 168.5,17.8 168.6,17.9 168.8,18.0 169.0,18.2 169.1,18.3 169.3,18.3 169.5,18.4 169.8,18.5 173.8,19.1 174.0,19.2 174.2,19.2 174.4,19.2 174.6,19.1 174.8,19.1 175.0,19.0 175.2,18.9 175.4,18.8 175.6,18.7 175.7,18.5 175.9,18.4 176.0,18.2 176.1,18.0 176.2,17.8 176.3,17.6 176.3,17.4 176.3,17.2 176.3,17.0 176.3,16.8 176.3,16.6 176.3,16.3 176.2,16.1 176.1,16.0 176.0,15.8 176.0,15.8 176.0,15.7 175.6,15.0 175.4,14.8 175.3,14.7 175.2,14.5 175.0,14.4 174.8,14.3 174.7,14.2 174.5,14.1 174.3,14.0 174.1,13.9 173.9,13.9 173.5,13.9 173.3,13.9 173.0,13.9 172.8,13.9 172.6,14.0 172.4,14.1 171.9,14.3 171.9,14.3 171.8,14.3 171.8,14.3 171.7,14.3 171.7,14.3 171.7,14.3 171.6,14.3 171.6,14.3 171.6,14.3 171.5,14.3Z"/><path d="M144.4,42.1 144.3,42.3 144.2,42.5 144.2,42.7 144.2,43.0 144.2,43.2 144.2,43.4 144.3,43.6 144.3,43.8 144.4,44.0 144.5,44.2 144.6,44.3 144.8,44.5 144.9,44.7 145.1,44.8 145.3,44.9 145.5,45.0 145.7,45.1 145.9,45.1 148.4,45.7 148.6,45.8 148.8,45.8 149.1,45.8 149.3,45.8 149.5,45.7 149.7,45.7 149.9,45.6 150.1,45.5 150.2,45.3 153.9,42.6 154.1,42.4 154.3,42.3 154.4,42.1 154.5,41.9 154.6,41.7 154.7,41.5 154.8,41.3 154.8,41.1 154.8,40.9 154.8,40.7 154.8,40.4 154.7,40.2 154.7,40.0 154.6,39.8 154.5,39.6 154.4,39.5 154.2,39.3 153.3,38.3 153.1,38.2 152.9,38.0 152.8,37.9 152.6,37.8 152.4,37.7 152.2,37.7 152.0,37.6 151.8,37.6 151.5,37.6 147.5,37.9 147.3,37.9 147.1,37.9 146.9,38.0 146.7,38.1 146.5,38.2 146.3,38.3 146.1,38.5 146.0,38.6 145.8,38.8 145.7,39.0 145.6,39.2Z"/><path d="M89.6,39.4 89.6,39.4 89.2,40.2 89.1,40.4 89.0,40.6 89.0,40.8 89.0,41.0 89.0,41.2 89.0,41.4 89.0,41.8 89.0,42.0 89.1,42.2 89.2,42.4 89.2,42.6 89.3,42.8 89.5,42.9 90.0,43.7 90.0,43.7 90.0,43.7 90.2,43.9 90.3,44.0 90.5,44.2 90.6,44.3 90.8,44.4 91.0,44.5 91.2,44.6 91.4,44.6 91.6,44.7 91.8,44.7 92.0,44.7 92.2,44.7 92.4,44.6 92.6,44.6 92.8,44.5 93.0,44.4 96.3,42.4 96.5,42.3 96.6,42.2 96.8,42.0 96.9,41.8 97.1,41.7 97.2,41.5 97.2,41.3 97.3,41.1 97.3,40.8 97.4,40.6 97.3,40.4 97.3,40.2 97.0,38.4 97.0,38.2 96.9,37.9 96.8,37.7 96.7,37.6 96.6,37.4 96.4,37.2 96.3,37.1 96.1,36.9 95.9,36.8 95.7,36.7 95.5,36.6 95.3,36.6 93.4,36.2 93.2,36.1 93.0,36.1 92.8,36.1 92.6,36.1 92.3,36.2 92.1,36.3 92.0,36.3 91.8,36.4 91.6,36.6 91.4,36.7 91.3,36.8 91.2,36.9 91.2,36.9 90.6,37.4 90.5,37.5 90.3,37.6 90.2,37.8 90.1,38.0 90.0,38.2 89.9,38.4 89.8,38.6 89.6,39.3 89.6,39.3Z"/><path d="M115.8,26.1 115.6,26.1 115.4,26.1 115.2,26.1 115.0,26.2 114.8,26.3 114.6,26.4 114.4,26.5 114.2,26.6 114.1,26.8 113.9,26.9 113.8,27.1 113.7,27.3 113.6,27.5 113.5,27.7 113.5,27.9 113.4,28.1 113.4,28.3 113.4,28.5 113.5,28.7 113.5,28.9 115.2,34.7 115.2,34.9 115.3,35.1 115.4,35.2 115.6,35.4 115.7,35.6 115.8,35.7 116.0,35.8 116.2,36.0 116.4,36.1 116.6,36.1 116.8,36.2 117.0,36.2 117.2,36.3 117.4,36.2 117.6,36.2 117.8,36.2 118.0,36.1 118.2,36.0 118.4,35.9 122.0,33.8 122.2,33.7 122.4,33.6 122.5,33.4 122.6,33.2 122.8,33.1 122.9,32.9 123.0,32.7 123.0,32.5 123.1,32.3 123.1,32.1 123.1,31.9 123.1,31.7 123.1,31.5 123.0,31.3 122.9,31.1 121.6,27.7 121.5,27.5 121.3,27.4 121.2,27.2 121.1,27.0 120.9,26.9 120.7,26.7 120.5,26.6 120.3,26.5 120.1,26.5 119.9,26.4 119.7,26.4Z"/><path d="M95.1,25.3 95.0,25.4 94.9,25.6 94.8,25.8 94.8,26.1 94.8,26.3 94.8,26.5 94.8,26.7 94.9,26.9 94.9,27.1 95.0,27.3 95.1,27.5 95.2,27.7 95.4,27.8 95.5,28.0 95.7,28.1 95.9,28.2 96.1,28.3 96.3,28.4 98.2,29.0 98.4,29.1 98.6,29.1 98.8,29.1 99.0,29.1 99.2,29.1 99.4,29.1 99.6,29.0 99.8,28.9 100.0,28.8 100.2,28.7 100.4,28.6 100.5,28.4 100.6,28.3 100.8,28.1 100.9,27.9 100.9,27.7 101.0,27.5 101.0,27.3 101.8,22.2 101.8,22.0 101.8,21.8 101.8,21.6 101.7,21.4 101.7,21.1 101.6,20.9 101.5,20.8 101.4,20.6 101.2,20.4 101.1,20.3 100.9,20.1 100.7,20.0 100.5,19.9 100.3,19.8 100.1,19.8 99.9,19.7 99.7,19.7 99.5,19.7 99.3,19.7 99.1,19.8 98.9,19.8 98.7,19.9 98.5,20.0 98.3,20.1 98.1,20.3 98.0,20.4 97.8,20.6 97.8,20.6 97.8,20.7 97.8,20.7 97.7,20.7 97.7,20.7 97.7,20.7 97.2,21.0 97.0,21.1 96.8,21.2 96.7,21.3 96.6,21.4 96.2,21.8 96.0,21.9 95.9,22.1 95.8,22.3 95.7,22.5 95.5,23.0 95.4,23.2 95.4,23.4 95.3,23.6 95.3,23.8 95.3,24.6 95.3,24.7 95.3,24.7 95.3,24.7 95.3,24.8 95.3,24.8 95.3,24.8Z"/><path d="M128.8,38.9 128.8,38.9 128.7,38.9 128.7,38.9 128.6,38.9 128.5,38.9 128.5,38.9 128.4,38.9 128.4,39.0 128.3,39.0 128.3,39.0 128.2,39.1 128.2,39.1 128.1,39.1 128.1,39.2 128.1,39.3 128.1,39.3 128.0,39.4 128.0,39.4 128.0,39.5 128.0,39.5 128.0,39.6 128.1,39.7 128.1,39.7 128.1,39.8 128.1,39.8 128.2,39.9 128.2,39.9 128.2,40.0 128.3,40.0 128.7,40.3 128.7,40.3 128.8,40.3 128.9,40.3 129.6,40.5 129.6,40.6 129.6,40.6 129.7,40.6 129.7,40.6 129.8,40.6 129.8,40.7 129.9,40.7 129.9,40.7 129.9,40.8 130.0,40.8 130.0,40.9 130.0,40.9 130.0,41.0 130.0,41.0 130.0,41.1 130.0,41.1 130.0,41.2 130.0,41.2 130.0,41.2 130.0,41.3 129.8,42.0 129.7,42.0 129.7,42.1 129.7,42.1 129.7,43.1 129.7,43.1 129.7,43.2 129.8,43.2 129.8,43.3 129.8,43.3 131.0,45.8 131.0,45.8 131.0,45.8 131.0,45.8 131.1,45.9 131.1,45.9 131.1,46.0 131.1,46.0 131.1,46.1 131.1,46.1 131.0,46.2 131.0,46.2 131.0,46.2 131.0,46.3 130.5,47.2 130.5,47.3 130.5,47.3 130.5,47.4 130.5,47.4 130.5,47.5 130.5,47.6 130.5,48.5 130.6,48.5 130.6,48.6 130.6,48.6 130.6,48.7 130.6,48.7 130.7,48.8 130.7,48.9 130.8,48.9 130.8,49.0 130.9,49.0 130.9,49.0 131.0,49.1 131.0,49.1 131.1,49.1 131.1,49.1 131.2,49.1 131.3,49.1 131.3,49.1 131.4,49.1 131.4,49.1 131.5,49.0 131.5,49.0 131.6,49.0 131.6,48.9 131.7,48.9 131.7,48.9 131.7,48.8 131.8,48.8 131.8,48.7 134.3,41.5 134.3,41.5 134.4,41.4 134.4,41.4 134.4,41.3 134.4,41.2 134.3,41.2 134.3,41.1 134.3,41.1 134.3,41.0 134.2,41.0 134.2,40.9 134.2,40.9 134.1,40.8 134.1,40.8 134.0,40.8 134.0,40.8Z"/><path d="M166.7,29.5 166.9,29.4 167.1,29.2 167.2,29.1 167.4,28.9 167.5,28.8 167.6,28.6 167.7,28.4 167.8,28.2 167.8,28.0 167.9,27.7 167.9,27.5 167.9,27.3 167.8,27.1 167.8,26.9 167.7,26.7 165.8,22.2 165.7,22.0 165.6,21.8 165.5,21.7 165.3,21.5 165.2,21.4 165.0,21.2 164.8,21.1 164.6,21.0 164.4,21.0 164.2,20.9 164.0,20.9 163.8,20.9 159.9,20.7 159.7,20.8 159.5,20.8 159.3,20.8 159.0,20.9 158.9,21.0 158.7,21.1 158.5,21.2 158.3,21.3 158.2,21.5 158.0,21.6 157.9,21.8 157.8,22.0 157.7,22.2 156.9,24.5 156.9,24.7 156.8,24.9 156.8,25.2 156.8,25.4 156.8,25.6 156.9,25.8 156.9,26.0 157.0,26.2 157.1,26.4 157.3,26.6 157.4,26.8 157.6,26.9 161.8,30.5 162.0,30.6 162.2,30.7 162.4,30.8 162.6,30.9 162.8,31.0 163.0,31.0 163.2,31.0 163.4,31.0 163.6,31.0 163.8,30.9 164.0,30.9 164.2,30.8Z"/><path d="M137.1,19.8 137.0,19.6 137.0,19.4 136.9,19.2 136.8,19.0 136.6,18.8 136.5,18.7 136.4,18.5 136.2,18.4 136.0,18.3 135.8,18.2 135.6,18.1 135.4,18.0 135.2,18.0 135.0,18.0 134.8,18.0 130.5,18.2 130.3,18.2 130.1,18.3 129.9,18.3 129.7,18.4 129.5,18.5 129.3,18.6 129.2,18.8 129.0,18.9 128.9,19.1 128.1,20.1 128.0,20.2 127.9,20.4 127.8,20.6 127.7,20.8 127.7,21.0 127.7,21.3 127.7,21.5 127.7,21.7 127.7,21.9 127.8,22.1 127.9,22.3 128.0,22.5 128.1,22.7 128.2,22.8 131.5,26.6 131.6,26.7 131.8,26.9 132.0,27.0 132.1,27.1 132.3,27.2 132.5,27.2 132.7,27.3 133.0,27.3 133.2,27.3 133.4,27.3 133.6,27.3 133.8,27.2 134.0,27.2 134.2,27.1 134.4,27.0 136.6,25.5 136.8,25.3 137.0,25.2 137.1,25.0 137.2,24.9 137.3,24.7 137.4,24.5 137.5,24.3 137.6,24.1 137.6,23.9 137.6,23.7 137.6,23.5 137.6,23.3Z"/><path d="M94.6,44.0 94.4,44.1 94.2,44.2 94.1,44.4 93.9,44.6 93.8,44.7 93.7,44.9 93.6,45.1 93.6,45.3 93.5,45.5 93.5,45.7 93.5,45.9 93.5,46.2 93.5,46.4 93.6,46.6 93.7,46.8 93.8,47.0 93.9,47.2 94.0,47.4 94.1,47.5 94.3,47.7 94.4,47.8 94.6,47.9 94.7,48.1 94.9,48.1 95.1,48.2 95.9,48.5 95.9,48.5 96.0,48.5 96.1,48.5 96.1,48.6 96.2,48.6 96.8,49.1 97.0,49.3 97.2,49.4 97.4,49.5 97.6,49.5 97.8,49.6 98.0,49.6 98.3,49.7 98.5,49.7 98.7,49.7 98.9,49.6 99.1,49.6 99.3,49.5 99.5,49.4 99.7,49.3 99.9,49.2 100.1,49.1 100.2,48.9 100.3,48.8 100.4,48.6 100.5,48.4 100.6,48.2 101.3,46.3 101.4,46.1 101.4,45.9 101.4,45.7 101.4,45.5 101.4,45.3 101.4,45.0 101.3,44.8 101.2,44.6 101.1,44.4 101.0,44.3 100.9,44.1 100.7,43.9 100.6,43.8 100.4,43.7 98.8,42.8 98.6,42.7 98.4,42.6 98.2,42.5 98.0,42.5 97.8,42.5 97.6,42.5 97.4,42.5 97.2,42.5 97.0,42.6 96.8,42.7 96.6,42.8Z"/><path d="M112.7,37.4 112.9,37.4 113.2,37.4 113.4,37.3 113.6,37.3 113.8,37.2 114.0,37.1 114.1,36.9 114.3,36.8 114.4,36.6 114.6,36.5 114.7,36.3 114.8,36.1 114.9,35.9 114.9,35.7 114.9,35.5 115.0,35.3 115.0,35.0 114.9,34.8 114.9,34.6 113.4,29.5 113.3,29.3 113.2,29.1 113.1,28.9 113.0,28.7 112.8,28.5 112.7,28.4 112.5,28.2 112.3,28.1 112.1,28.0 111.9,28.0 111.7,27.9 111.5,27.9 111.3,27.9 111.0,27.9 110.8,27.9 110.6,28.0 110.4,28.1 110.2,28.2 105.7,30.7 105.6,30.8 105.4,30.9 105.2,31.1 105.1,31.2 105.0,31.4 104.9,31.6 104.8,31.8 104.7,32.0 104.7,32.2 104.6,32.4 104.6,32.6 104.6,32.8 104.7,33.0 104.7,33.2 104.8,33.4 104.9,33.6 105.0,33.8 106.6,36.4 106.8,36.5 106.9,36.7 107.1,36.9 107.2,37.0 107.4,37.1 107.6,37.2 107.8,37.3 108.0,37.3 108.2,37.4 108.5,37.4Z"/><path d="M103.1,19.0 103.0,19.0 103.0,19.0 102.9,19.1 102.9,19.1 102.9,19.2 102.9,19.2 102.8,19.3 102.8,19.3 102.8,19.4 102.8,19.4 102.8,19.5 102.8,19.6 102.8,19.6 102.8,19.7 102.9,19.7 102.9,19.8 102.9,19.8 103.0,19.9 103.0,19.9 103.0,20.0 103.1,20.0 103.1,20.0 103.2,20.0 111.8,23.1 111.8,23.2 111.9,23.2 111.9,23.2 112.0,23.2 112.1,23.2 112.1,23.2 112.2,23.1 112.2,23.1 112.3,23.1 112.3,23.1 112.4,23.0 112.4,23.0 112.4,22.9 112.5,22.9 112.5,22.8 112.5,22.8 113.7,19.7 113.7,19.6 113.7,19.5 113.7,19.5 113.7,19.4 113.7,19.4 113.7,19.3 113.7,19.3 113.7,19.2 113.6,19.2 113.6,19.1 113.6,19.1 113.5,19.0 113.5,19.0 113.4,19.0 113.4,18.9 113.3,18.9 112.7,18.6 112.6,18.6 112.6,18.6 112.5,18.6 112.4,18.6 112.4,18.6 111.0,18.7 111.0,18.7 111.0,18.7 111.0,18.7 110.9,18.7 110.9,18.7 110.9,18.7 110.8,18.6 110.8,18.6 110.8,18.6 110.7,18.6 110.7,18.6 110.7,18.6 110.2,18.1 110.1,18.0 110.1,18.0 110.1,18.0 110.0,17.9 109.4,17.7 109.4,17.7 109.3,17.7 109.3,17.7 109.2,17.7 109.2,17.7 108.2,17.8 108.1,17.8 108.0,17.8 108.0,17.8 107.9,17.8 107.9,17.9 107.8,17.9 106.9,18.7 106.9,18.7 106.9,18.7 106.8,18.7 106.8,18.7 106.8,18.7 106.7,18.8 106.7,18.8 106.6,18.8 106.6,18.8 106.6,18.8 106.5,18.8 106.5,18.8 106.5,18.7 105.0,18.3 105.0,18.3 104.9,18.3 104.9,18.3 104.8,18.3 104.8,18.3 103.9,18.5 103.8,18.5 103.8,18.5 103.7,18.6 103.7,18.6Z"/><path d="M168.1,26.1 168.2,26.3 168.3,26.5 168.5,26.7 168.6,26.8 168.8,27.0 169.0,27.1 169.1,27.2 169.3,27.3 169.6,27.4 169.8,27.4 170.0,27.4 170.2,27.4 170.4,27.4 170.7,27.4 170.9,27.3 171.1,27.2 171.3,27.1 171.4,27.0 171.6,26.9 175.4,23.4 175.6,23.2 175.7,23.1 175.8,22.9 175.9,22.7 176.0,22.5 176.1,22.3 176.1,22.1 176.1,21.9 176.1,21.7 176.1,21.4 176.1,21.2 176.0,21.0 175.9,20.8 175.8,20.6 175.7,20.5 175.6,20.3 175.4,20.1 175.3,20.0 175.1,19.9 174.9,19.8 174.7,19.7 174.5,19.6 174.3,19.6 169.1,18.7 168.9,18.7 168.7,18.7 168.5,18.7 168.2,18.7 168.0,18.8 167.8,18.9 167.6,19.0 167.4,19.1 167.3,19.3 166.9,19.6 166.7,19.8 166.6,20.0 166.5,20.2 166.4,20.4 166.3,20.6 166.2,20.8 166.2,21.0 166.2,21.2 166.2,21.4 166.2,21.7 166.3,21.9 166.4,22.1Z"/><path d="M145.1,38.8 145.2,38.6 145.2,38.4 145.3,38.2 145.3,37.9 145.3,37.7 145.2,37.5 145.2,37.3 145.1,37.1 145.0,36.9 144.9,36.7 143.8,35.2 143.7,35.0 143.6,34.9 143.4,34.8 143.2,34.6 143.1,34.5 142.9,34.4 142.7,34.4 142.5,34.3 142.2,34.3 142.0,34.3 141.8,34.3 141.6,34.3 141.4,34.4 141.2,34.4 138.5,35.6 138.3,35.6 138.1,35.8 137.9,35.9 137.8,36.0 137.6,36.2 137.5,36.4 137.4,36.6 137.3,36.8 137.2,37.0 136.8,38.4 136.8,38.6 136.7,38.8 136.7,39.0 136.7,39.3 136.8,39.5 136.8,39.7 136.9,39.9 137.0,40.1 137.1,40.2 137.2,40.4 137.4,40.6 137.5,40.7 137.7,40.8 137.9,41.0 140.9,42.6 141.1,42.7 141.3,42.7 141.5,42.8 141.7,42.8 141.9,42.8 142.1,42.8 142.3,42.8 142.5,42.7 142.7,42.7 142.9,42.6 143.1,42.5 143.3,42.3 143.5,42.2 143.6,42.0 143.7,41.9 143.9,41.7 143.9,41.5Z"/><path d="M123.2,18.2 123.1,18.4 123.0,18.6 123.0,18.8 123.0,19.0 122.9,19.3 123.0,19.5 123.0,19.7 123.1,19.9 123.1,20.1 123.2,20.3 123.4,20.5 123.5,20.7 123.7,20.9 123.9,21.1 124.1,21.2 124.2,21.3 124.4,21.4 124.6,21.5 124.8,21.6 125.1,21.6 125.3,21.7 125.5,21.7 125.7,21.6 125.9,21.6 126.1,21.6 126.3,21.5 126.5,21.4 126.6,21.3 126.8,21.2 127.0,21.1 127.1,20.9 127.3,20.8 128.4,19.3 128.5,19.1 128.6,18.9 128.7,18.7 128.8,18.5 128.8,18.3 128.8,18.1 128.8,17.9 128.8,17.7 128.8,17.5 128.7,17.3 128.7,17.1 128.6,16.9 128.4,16.7 128.3,16.5 128.2,16.4 128.0,16.2 127.8,16.1 127.7,16.0 127.5,15.9 127.3,15.8 127.1,15.8 126.8,15.8 126.6,15.8 126.4,15.8 126.2,15.8 125.6,15.9 125.4,16.0 125.2,16.1 125.0,16.1 124.9,16.2 124.7,16.3 124.6,16.4 124.4,16.5 123.9,17.1 123.7,17.3 123.6,17.5 123.4,17.7 123.2,18.2Z"/></g>
<path d="M217.69,17.04 216.39,18.20 215.36,17.41 214.35,17.21 213.33,17.41 212.50,17.97 211.00,17.96 209.62,18.53 208.21,20.25 207.41,22.10 207.10,23.69 207.36,25.10 206.94,26.10 206.94,27.15 207.34,28.12 207.94,28.74 207.86,30.56 208.45,31.98 208.96,32.60 209.22,33.73 210.57,35.38 211.89,35.93 213.04,35.96 213.27,36.97 214.09,38.16 214.78,39.77 214.41,41.27 214.87,42.94 214.47,44.57 215.09,46.62 216.11,47.63 217.89,48.23 218.76,49.52 220.28,50.64 221.02,51.84 221.67,52.32 222.67,54.01 224.02,54.91 224.79,55.14 225.60,55.22 227.18,54.91 228.96,53.48 230.89,53.24 232.13,52.41 232.99,51.05 235.10,51.05 236.55,50.45 237.32,49.76 238.98,50.11 241.07,49.48 243.67,47.20 244.11,46.14 244.13,45.10 245.40,43.42 245.74,41.45 246.61,40.56 247.15,39.25 247.35,37.42 247.12,36.24 245.98,34.85 244.76,34.38 244.77,32.41 244.48,31.43 243.57,30.13 244.27,29.04 244.57,27.52 244.49,26.75 243.90,25.32 242.81,24.23 241.68,23.73 240.57,22.30 239.51,21.86 238.41,21.85 238.17,20.74 237.27,19.45 236.41,18.88 235.49,18.65 234.78,17.38 233.90,16.79 232.85,16.58 232.12,16.69 230.28,15.76 228.06,15.97 224.30,14.90 222.70,15.22 220.42,16.78 219.24,16.57Z" fill="#98b24e" stroke="#52602a" stroke-width="0.7"/><g fill="url(#gy)"><path d="M238.2,46.7 238.2,46.9 238.3,47.1 238.4,47.3 238.5,47.5 238.6,47.7 238.7,47.9 238.9,48.0 239.0,48.2 239.2,48.3 239.4,48.4 239.6,48.5 239.8,48.5 240.0,48.6 240.2,48.6 240.4,48.6 240.6,48.6 240.8,48.5 241.1,48.5 241.2,48.4 241.4,48.3 241.6,48.2 241.8,48.0 242.8,47.2 242.9,47.1 243.0,46.9 243.2,46.7 243.3,46.6 243.4,46.4 243.4,46.2 243.5,46.0 243.5,45.8 243.5,45.6 243.5,45.1 243.5,45.1 243.5,45.0 243.5,45.0 243.6,44.9 243.6,44.9 243.6,44.8 243.6,44.7 243.7,44.7 244.2,44.0 244.3,43.8 244.4,43.6 244.5,43.4 244.6,43.2 244.6,43.0 244.7,42.8 244.7,42.6 244.6,42.4 244.6,42.2 244.6,42.0 244.5,41.8 244.4,41.6 244.3,41.4 244.1,41.2 244.0,41.1 243.8,40.9 243.7,40.8 243.5,40.7 243.3,40.6 243.1,40.5 242.9,40.5 242.7,40.5 241.0,40.3 240.8,40.3 240.6,40.3 240.4,40.3 240.2,40.4 240.0,40.5 239.8,40.6 239.6,40.7 238.6,41.4 238.4,41.5 238.2,41.7 238.1,41.9 238.0,42.0 237.9,42.2 237.8,42.4 237.7,42.7 237.7,42.9 237.6,43.1 237.6,43.3 237.7,43.5Z"/><path d="M230.4,24.3 230.5,24.1 230.6,23.9 230.6,23.7 230.6,23.5 230.6,23.3 230.6,23.1 230.6,22.8 230.5,22.6 230.5,22.4 230.4,22.3 230.2,22.1 230.1,21.9 230.0,21.8 229.8,21.6 229.6,21.5 226.8,19.8 226.6,19.7 226.4,19.6 226.2,19.5 226.0,19.5 225.8,19.4 225.5,19.4 225.3,19.5 225.1,19.5 224.9,19.6 222.8,20.4 222.6,20.5 222.4,20.6 222.2,20.7 222.0,20.9 221.9,21.0 221.8,21.2 221.6,21.4 221.5,21.6 221.5,21.8 221.4,22.0 221.4,22.2 221.4,22.4 221.3,24.4 221.3,24.6 221.3,24.8 221.4,25.0 221.4,25.2 221.5,25.4 221.6,25.6 221.7,25.8 221.8,25.9 222.0,26.1 222.1,26.2 224.9,28.3 225.1,28.5 225.3,28.6 225.5,28.6 225.6,28.7 225.9,28.8 226.1,28.8 226.3,28.8 226.5,28.8 226.7,28.7 227.4,28.6 227.6,28.5 227.8,28.5 228.0,28.4 228.2,28.2 228.4,28.1 228.6,28.0 228.7,27.8 228.8,27.6 228.9,27.4Z"/><path d="M231.5,31.2 231.6,31.3 231.8,31.4 232.0,31.6 232.2,31.6 232.4,31.7 232.6,31.8 232.9,31.8 233.1,31.8 233.3,31.8 233.5,31.7 233.7,31.7 237.1,30.5 237.3,30.4 237.5,30.3 237.7,30.2 237.9,30.0 238.0,29.9 238.2,29.7 238.3,29.5 238.4,29.4 238.5,29.2 238.5,28.9 238.6,28.7 238.6,28.5 238.6,28.3 238.6,28.1 238.6,27.9 238.5,27.7 238.4,27.5 236.3,23.0 236.2,22.9 236.1,22.7 236.0,22.5 235.8,22.4 235.7,22.2 235.5,22.1 235.3,22.0 235.1,21.9 234.9,21.9 234.7,21.8 234.5,21.8 234.3,21.8 234.1,21.8 233.9,21.8 233.7,21.9 232.4,22.3 232.2,22.3 232.0,22.4 231.8,22.6 231.6,22.7 231.5,22.9 231.3,23.0 231.2,23.2 231.1,23.4 229.3,27.0 229.3,27.2 229.2,27.4 229.1,27.6 229.1,27.9 229.1,28.1 229.1,28.3 229.2,28.5 229.2,28.7 229.3,28.9 229.4,29.1 229.5,29.3 229.7,29.4 229.8,29.6Z"/><path d="M209.3,32.3 209.3,32.4 209.3,32.4 209.4,32.4 209.4,32.5 209.4,32.5 209.5,33.0 209.6,33.2 209.6,33.4 209.7,33.6 209.8,33.8 209.9,33.9 210.5,34.6 210.6,34.8 210.8,34.9 211.0,35.0 211.1,35.1 211.3,35.2 211.6,35.3 211.8,35.4 212.0,35.5 212.2,35.5 212.4,35.5 213.0,35.5 213.1,35.5 213.1,35.5 213.1,35.5 213.2,35.5 213.4,35.5 213.7,35.5 213.9,35.5 214.1,35.4 214.3,35.3 214.5,35.2 214.7,35.0 214.8,34.9 215.4,34.3 215.5,34.2 215.6,34.0 215.7,33.8 215.8,33.6 215.9,33.4 216.0,33.2 216.0,33.0 216.0,32.7 216.0,32.5 215.9,32.3 215.5,30.3 215.4,30.1 215.4,29.9 215.3,29.7 215.2,29.6 215.0,29.4 214.9,29.2 214.8,29.1 214.6,29.0 214.4,28.9 211.8,27.4 211.6,27.3 211.4,27.2 211.2,27.2 211.0,27.1 210.8,27.1 210.6,27.1 210.4,27.1 210.2,27.2 210.0,27.2 209.8,27.3 209.6,27.4 209.4,27.5 209.2,27.6 209.1,27.7 208.9,27.9 208.8,28.0 208.7,28.2 208.6,28.4 208.5,28.6 208.4,28.8 208.4,29.0 208.3,29.3 208.3,30.0 208.3,30.2 208.3,30.5 208.4,30.7 208.5,30.9 208.7,31.4 208.8,31.6 208.9,31.8 209.0,32.0 209.3,32.3Z"/><path d="M207.5,26.6 207.5,26.7 207.6,26.7 207.6,26.8 207.6,26.9 207.6,26.9 207.6,27.0 207.7,27.0 207.7,27.0 207.8,27.1 207.8,27.1 207.9,27.2 207.9,27.2 208.0,27.2 208.0,27.2 208.1,27.2 208.2,27.2 208.2,27.2 208.3,27.2 210.5,26.7 210.5,26.7 210.6,26.6 210.7,26.6 210.7,26.6 210.7,26.5 210.8,26.5 210.8,26.5 210.9,26.4 210.9,26.4 210.9,26.3 210.9,26.3 212.9,19.3 212.9,19.3 212.9,19.2 212.9,19.2 212.9,19.1 212.9,19.0 212.9,19.0 212.9,18.9 212.8,18.9 212.8,18.8 212.8,18.8 212.7,18.7 212.7,18.7 212.6,18.7 212.6,18.6 212.5,18.6 212.5,18.6 212.4,18.6 212.4,18.6 212.3,18.6 211.2,18.6 211.2,18.6 211.1,18.6 211.1,18.6 211.0,18.6 210.1,19.0 210.1,19.0 210.0,19.0 210.0,19.1 209.9,19.1 209.9,19.2 208.8,20.5 208.7,20.5 208.7,20.6 208.7,20.6 208.0,22.2 208.0,22.3 208.0,22.3 207.7,23.6 207.7,23.6 207.7,23.7 207.7,23.7 207.7,23.8 208.0,25.0 208.0,25.0 208.0,25.0 208.0,25.1 208.0,25.1 208.0,25.2 207.9,25.3 207.9,25.3 207.9,25.3 207.9,25.3 207.6,26.1 207.6,26.2 207.6,26.2 207.5,26.3 207.5,26.3Z"/><path d="M223.7,53.4 223.7,53.5 223.7,53.5 223.7,53.6 223.7,53.6 223.7,53.7 223.7,53.8 223.7,53.8 223.7,53.9 223.7,53.9 223.7,54.0 223.7,54.0 223.8,54.1 223.8,54.1 223.8,54.2 223.9,54.2 223.9,54.2 224.2,54.4 224.2,54.4 224.3,54.5 224.3,54.5 224.8,54.6 224.9,54.6 224.9,54.7 225.5,54.7 225.5,54.7 225.6,54.7 225.7,54.7 226.8,54.5 226.9,54.5 226.9,54.4 227.0,54.4 227.0,54.4 227.1,54.3 228.6,53.1 228.7,53.1 228.7,53.1 228.7,53.1 228.7,53.0 228.8,53.0 228.8,53.0 228.9,53.0 228.9,53.0 228.9,53.0 230.5,52.8 230.6,52.8 230.6,52.8 230.7,52.7 230.7,52.7 230.8,52.7 230.8,52.6 230.9,52.6 230.9,52.6 230.9,52.5 231.0,52.5 231.0,52.4 231.0,52.3 231.0,52.3 231.0,52.2 231.0,52.2 231.0,52.1 231.0,52.1 231.0,52.0 231.0,51.9 231.0,51.9 230.9,51.8 230.9,51.8 230.8,51.8 230.8,51.7 230.8,51.7 227.0,49.3 227.0,49.3 226.9,49.3 226.9,49.3 226.8,49.2 226.8,49.2 226.7,49.2 226.6,49.2 226.6,49.2 226.5,49.3 226.5,49.3 226.4,49.3 226.4,49.3 226.3,49.4 226.3,49.4 226.2,49.5 226.2,49.5Z"/><path d="M214.7,37.9 214.7,37.9 214.7,37.9 214.7,37.9 215.4,39.5 215.4,39.5 215.4,39.6 215.4,39.7 215.4,39.7 215.4,39.8 215.4,39.8 215.4,39.9 215.4,39.9 215.2,40.7 215.2,40.9 215.2,41.2 215.2,41.4 215.2,41.6 215.2,41.8 215.3,41.9 215.3,42.1 215.4,42.3 215.5,42.5 215.6,42.7 215.8,42.9 215.9,43.0 216.1,43.1 216.3,43.3 216.5,43.3 216.7,43.4 216.9,43.5 217.1,43.5 217.3,43.6 217.5,43.6 217.7,43.5 217.9,43.5 218.1,43.4 218.3,43.4 218.5,43.3 218.7,43.1 218.8,43.0 219.0,42.9 219.1,42.7 219.3,42.5 219.4,42.3 221.2,38.7 221.3,38.5 221.3,38.3 221.4,38.0 221.4,37.8 221.4,37.6 221.4,37.4 221.3,37.2 221.3,37.0 221.2,36.8 221.1,36.6 221.0,36.4 220.8,36.2 220.7,36.1 220.5,35.9 220.3,35.8 220.1,35.7 217.8,34.6 217.6,34.5 217.4,34.5 217.2,34.4 217.0,34.4 216.8,34.4 216.6,34.4 216.4,34.4 216.2,34.5 216.0,34.6 215.8,34.7 215.6,34.8 215.5,34.9 215.3,35.1 215.0,35.3 214.9,35.5 214.8,35.7 214.7,35.9 214.6,36.1 214.5,36.3 214.5,36.5 214.4,36.7 214.4,36.9 214.4,37.1 214.5,37.3 214.5,37.5 214.6,37.7Z"/><path d="M227.5,46.4 227.4,46.6 227.3,46.8 227.2,47.0 227.2,47.2 227.2,47.5 227.2,47.7 227.2,47.9 227.2,48.1 227.3,48.3 227.4,48.5 227.5,48.7 227.6,48.9 227.7,49.0 227.9,49.2 228.0,49.3 228.2,49.5 230.1,50.7 230.3,50.8 230.5,50.9 230.7,50.9 230.9,51.0 231.1,51.0 231.3,51.0 231.5,51.0 231.8,51.0 232.0,50.9 232.2,50.8 232.4,50.7 232.5,50.6 232.7,50.5 232.7,50.5 232.8,50.5 232.8,50.5 232.9,50.4 233.0,50.4 233.0,50.4 234.5,50.4 234.8,50.4 235.0,50.4 235.2,50.3 235.4,50.3 235.9,50.1 236.1,50.0 236.3,49.8 236.5,49.7 236.9,49.3 236.9,49.3 237.1,49.2 237.2,49.0 237.3,48.8 237.4,48.6 237.5,48.4 237.6,48.2 237.6,48.0 237.7,47.8 237.7,47.5 237.6,47.3 237.0,43.6 237.0,43.4 236.9,43.2 236.8,43.0 236.7,42.8 236.6,42.6 236.5,42.4 236.3,42.3 236.1,42.1 236.0,42.0 235.8,41.9 235.6,41.9 232.9,41.0 232.7,40.9 232.4,40.9 232.2,40.9 232.0,40.9 231.8,40.9 231.6,40.9 231.4,41.0 231.2,41.1 231.0,41.2 230.9,41.3 230.7,41.4 230.5,41.6 230.4,41.7 230.3,41.9Z"/><path d="M211.6,25.1 211.6,25.4 211.5,25.6 211.5,25.8 211.5,26.0 211.6,26.2 211.6,26.4 211.7,26.6 211.8,26.8 211.9,27.0 212.0,27.1 212.2,27.3 212.3,27.4 212.5,27.6 212.7,27.7 214.2,28.5 214.4,28.6 214.6,28.7 214.8,28.8 215.0,28.8 215.3,28.8 215.5,28.8 215.7,28.8 215.9,28.7 216.1,28.7 216.3,28.6 216.5,28.5 220.1,26.2 220.3,26.1 220.4,25.9 220.6,25.8 220.7,25.6 220.8,25.4 220.9,25.2 221.0,25.0 221.0,24.8 221.1,24.6 221.1,24.4 221.2,22.0 221.2,21.8 221.1,21.6 221.1,21.4 221.0,21.2 221.0,21.0 220.9,20.8 220.7,20.6 220.6,20.5 220.5,20.3 220.3,20.2 218.6,18.9 218.4,18.7 218.2,18.6 218.0,18.6 217.8,18.5 217.6,18.4 217.4,18.4 217.1,18.4 216.9,18.4 216.7,18.5 216.5,18.5 216.5,18.5 216.5,18.6 216.4,18.6 216.4,18.6 216.4,18.6 216.3,18.5 216.3,18.5 216.2,18.5 216.2,18.5 216.0,18.4 215.8,18.4 215.6,18.3 215.4,18.3 215.2,18.3 214.9,18.3 214.7,18.3 214.5,18.4 214.3,18.5 214.1,18.6 214.0,18.7 213.8,18.8 213.6,19.0 213.5,19.1 213.4,19.3 213.3,19.5 213.2,19.7 213.1,19.9Z"/><path d="M227.0,29.1 226.8,29.1 226.6,29.2 226.4,29.3 226.2,29.4 226.1,29.6 225.9,29.7 225.8,29.9 225.6,30.0 225.5,30.2 225.4,30.4 223.9,34.3 223.8,34.5 223.7,34.8 223.7,35.0 223.7,35.2 223.7,35.4 223.7,35.6 223.8,35.8 223.9,36.0 224.0,36.2 224.1,36.4 224.2,36.5 224.3,36.7 224.5,36.9 224.7,37.0 224.8,37.1 225.0,37.2 228.3,38.6 228.5,38.7 228.7,38.7 228.9,38.8 229.1,38.8 229.3,38.8 229.6,38.8 229.8,38.7 230.0,38.7 230.2,38.6 230.3,38.5 230.5,38.4 230.7,38.2 230.8,38.1 231.0,37.9 231.1,37.7 231.2,37.6 231.3,37.4 231.3,37.2 231.4,37.0 231.9,33.4 232.0,33.2 232.0,33.0 232.0,32.8 231.9,32.6 231.9,32.4 231.8,32.2 231.7,32.0 231.6,31.8 231.4,31.6 231.3,31.5 229.3,29.6 229.1,29.4 229.0,29.3 228.8,29.2 228.6,29.1 228.4,29.1 228.2,29.0 228.0,29.0 227.8,29.0 227.6,29.0 227.4,29.0Z"/><path d="M231.5,17.0 231.3,16.9 231.1,16.9 230.9,16.8 230.7,16.8 230.5,16.8 230.2,16.8 230.0,16.8 229.8,16.9 229.6,17.0 229.4,17.1 229.2,17.2 229.1,17.3 228.9,17.5 228.8,17.6 228.7,17.8 228.5,18.0 228.5,18.2 228.4,18.4 228.3,18.6 228.3,18.8 228.3,19.0 228.3,19.3 228.4,19.5 228.4,19.7 228.5,19.9 228.6,20.1 228.7,20.3 228.9,20.4 229.0,20.6 229.2,20.7 229.3,20.9 230.6,21.7 230.8,21.8 231.0,21.8 231.2,21.9 231.4,22.0 231.6,22.0 231.8,22.0 232.0,22.0 232.2,22.0 232.4,21.9 233.4,21.6 233.6,21.5 233.8,21.4 234.0,21.3 234.2,21.2 234.4,21.1 234.5,20.9 234.6,20.7 234.7,20.5 234.8,20.3 234.9,20.1 235.0,19.9 235.0,19.7 235.0,19.5 235.0,19.3 234.9,19.0 234.9,18.8 234.8,18.6 234.7,18.4 234.7,18.3 234.5,18.1 234.4,18.0 234.2,17.8 234.1,17.7 233.9,17.5 233.7,17.4 233.5,17.3 233.3,17.3 233.1,17.2 232.8,17.2 232.6,17.2 232.4,17.2 232.2,17.3 232.2,17.3 232.1,17.3 232.1,17.3 232.0,17.2 231.9,17.2 231.9,17.2 231.8,17.2Z"/><path d="M231.7,38.1 231.7,38.3 231.7,38.5 231.7,38.7 231.7,38.9 231.8,39.2 231.9,39.4 232.0,39.6 232.1,39.7 232.3,39.9 232.4,40.1 232.6,40.2 232.8,40.3 233.0,40.4 233.2,40.5 236.0,41.4 236.2,41.5 236.5,41.5 236.7,41.6 236.9,41.5 237.1,41.5 237.4,41.5 237.6,41.4 237.8,41.3 238.0,41.2 239.0,40.4 239.2,40.3 239.3,40.2 239.5,40.0 239.6,39.8 239.7,39.7 239.8,39.5 239.9,39.3 239.9,39.1 239.9,38.9 240.0,38.7 240.1,32.9 240.1,32.7 240.1,32.5 240.0,32.3 240.0,32.1 239.9,31.9 239.8,31.7 239.6,31.5 239.5,31.4 239.4,31.2 239.2,31.1 239.0,31.0 238.8,30.9 238.6,30.8 238.4,30.7 238.2,30.7 238.0,30.7 237.8,30.7 237.6,30.7 237.4,30.7 237.2,30.8 233.9,31.9 233.7,32.0 233.5,32.1 233.3,32.2 233.1,32.3 233.0,32.5 232.8,32.7 232.7,32.8 232.6,33.0 232.5,33.2 232.5,33.4 232.4,33.6Z"/><path d="M224.7,37.5 224.4,37.4 224.2,37.4 224.0,37.3 223.8,37.3 223.6,37.3 223.3,37.4 223.1,37.4 222.9,37.5 222.7,37.6 222.5,37.7 222.4,37.8 222.2,38.0 222.0,38.2 221.9,38.3 221.8,38.5 219.9,42.5 219.8,42.7 219.7,42.9 219.7,43.1 219.6,43.3 219.6,43.5 219.6,43.7 219.7,43.9 219.7,44.1 219.8,44.3 219.9,44.5 220.0,44.7 220.1,44.8 220.3,45.0 220.4,45.1 220.6,45.3 220.8,45.4 221.0,45.5 224.4,47.0 224.6,47.0 224.8,47.1 225.0,47.1 225.2,47.1 225.4,47.1 225.7,47.1 225.9,47.1 226.1,47.0 226.3,46.9 226.4,46.8 226.6,46.7 226.8,46.6 226.9,46.4 227.1,46.3 227.2,46.1 229.5,42.3 229.6,42.1 229.7,41.9 229.7,41.7 229.8,41.5 229.8,41.3 229.8,41.1 229.8,40.8 229.7,40.6 229.7,40.4 229.6,40.2 229.5,40.0 229.3,39.8 229.2,39.7 229.0,39.5 228.9,39.4 228.7,39.3 228.5,39.2Z"/><path d="M220.5,50.3 220.5,50.4 220.6,50.4 220.6,50.5 220.6,50.5 221.1,51.2 221.2,51.4 221.3,51.6 221.5,51.7 221.6,51.8 221.6,51.8 221.8,52.0 222.0,52.1 222.2,52.1 222.4,52.2 222.6,52.2 222.8,52.3 223.0,52.3 223.2,52.3 223.4,52.2 223.7,52.2 223.9,52.1 224.0,52.0 224.2,51.9 224.4,51.7 224.5,51.6 224.7,51.4 224.8,51.2 225.4,50.4 225.5,50.2 225.5,50.0 225.6,49.8 225.7,49.6 225.7,49.4 225.7,49.2 225.7,49.0 225.6,48.7 225.6,48.5 225.5,48.3 225.4,48.2 225.3,48.0 225.2,47.8 225.1,47.6 224.9,47.5 224.7,47.4 224.6,47.3 224.4,47.2 222.3,46.3 222.1,46.2 221.9,46.2 221.7,46.1 221.5,46.1 221.3,46.1 221.1,46.2 220.9,46.2 220.6,46.3 220.5,46.4 220.3,46.5 220.1,46.6 219.9,46.7 219.8,46.9 219.7,47.0 219.5,47.2 219.4,47.4 219.4,47.6 219.3,47.8 219.3,48.0 219.2,48.2 219.3,48.5 219.3,48.7 219.3,48.9 219.4,49.1 219.5,49.3 219.6,49.5 219.7,49.6 219.8,49.8 220.0,50.0 220.1,50.1 220.5,50.3Z"/><path d="M244.3,34.7 244.2,34.6 244.0,34.5 243.8,34.4 243.6,34.3 243.4,34.2 243.2,34.1 243.0,34.1 242.8,34.1 242.6,34.1 242.4,34.1 242.1,34.1 241.9,34.2 241.7,34.3 241.6,34.4 241.4,34.5 241.2,34.7 241.1,34.8 240.9,35.0 240.8,35.2 240.7,35.4 240.6,35.6 240.6,35.8 240.5,36.0 240.5,36.2 240.5,37.6 240.5,37.8 240.5,38.1 240.6,38.3 240.6,38.5 240.7,38.7 240.8,38.9 241.0,39.0 241.1,39.2 241.3,39.4 241.5,39.5 241.6,39.6 241.8,39.7 242.1,39.8 242.3,39.8 242.5,39.9 244.3,40.0 244.5,40.0 244.7,40.0 244.9,40.0 245.2,39.9 245.4,39.9 245.5,39.8 245.7,39.7 245.9,39.5 246.1,39.4 246.2,39.2 246.3,39.1 246.4,38.9 246.5,38.7 246.6,38.5 246.7,38.3 246.7,38.1 246.7,37.8 246.7,37.6 246.7,37.3 246.7,37.1 246.7,37.0 246.6,36.8 246.6,36.6 246.5,36.4 246.4,36.2 246.2,36.1 246.0,35.8 245.8,35.6 245.7,35.5 245.5,35.3 245.3,35.2 245.1,35.1 244.6,34.9 244.5,34.9 244.5,34.9 244.4,34.8 244.4,34.8 244.3,34.7Z"/><path d="M241.5,24.1 241.3,24.0 241.1,23.9 240.9,23.9 240.7,23.8 240.5,23.8 240.2,23.8 240.0,23.9 239.8,23.9 239.6,24.0 239.4,24.0 239.2,24.2 239.1,24.3 238.9,24.4 238.7,24.6 238.6,24.7 238.5,24.9 238.4,25.1 238.3,25.3 238.3,25.5 238.2,25.7 238.2,25.9 238.2,26.1 238.2,26.3 238.3,26.6 238.3,26.8 238.4,27.0 239.1,28.5 239.2,28.7 239.3,28.9 239.5,29.0 239.6,29.2 239.8,29.3 240.0,29.4 240.2,29.5 240.4,29.6 240.6,29.7 240.8,29.7 241.0,29.8 241.2,29.8 241.4,29.7 241.6,29.7 242.4,29.5 242.6,29.5 242.8,29.4 243.0,29.3 243.2,29.2 243.3,29.0 243.5,28.9 243.6,28.7 243.7,28.6 243.9,28.4 243.9,28.2 244.0,28.0 244.1,27.8 244.1,27.6 244.1,27.4 244.1,27.1 244.1,26.9 244.0,26.7 243.9,26.5 243.7,26.0 243.6,25.8 243.5,25.6 243.4,25.4 243.2,25.3 242.8,24.9 242.7,24.7 242.5,24.6 242.4,24.5 242.2,24.4 241.5,24.1 241.5,24.1Z"/><path d="M217.0,28.6 216.8,28.7 216.6,28.8 216.5,29.0 216.3,29.2 216.2,29.4 216.1,29.6 216.0,29.8 216.0,30.0 215.9,30.2 215.9,30.4 216.0,30.7 216.0,30.9 216.3,32.3 216.4,32.5 216.4,32.7 216.5,32.9 216.7,33.1 216.8,33.3 217.0,33.4 217.1,33.6 217.3,33.7 217.5,33.8 220.4,35.2 220.6,35.3 220.8,35.3 221.0,35.4 221.3,35.4 221.5,35.4 221.7,35.4 221.9,35.3 222.1,35.3 222.3,35.2 222.5,35.1 222.7,35.0 222.8,34.9 223.0,34.7 223.1,34.6 223.2,34.4 223.3,34.2 223.4,34.0 224.8,30.7 224.8,30.5 224.9,30.3 224.9,30.1 224.9,29.9 224.9,29.6 224.9,29.4 224.8,29.2 224.7,29.0 224.6,28.8 224.5,28.6 224.4,28.4 224.2,28.3 224.0,28.1 222.3,26.8 222.1,26.7 221.9,26.6 221.7,26.5 221.5,26.4 221.3,26.4 221.1,26.4 220.9,26.4 220.6,26.4 220.4,26.5 220.2,26.5 220.0,26.6 219.8,26.7Z"/><path d="M218.2,17.3 218.2,17.3 218.1,17.3 218.1,17.3 218.0,17.4 218.0,17.4 217.9,17.5 217.9,17.5 217.9,17.6 217.9,17.6 217.8,17.7 217.8,17.7 217.8,17.8 217.8,17.8 217.8,17.9 217.8,18.0 217.8,18.0 217.9,18.1 217.9,18.1 217.9,18.2 218.0,18.2 218.0,18.3 218.1,18.3 221.0,20.6 221.1,20.6 221.1,20.6 221.2,20.7 221.2,20.7 221.3,20.7 221.4,20.7 221.4,20.7 221.5,20.7 221.5,20.7 221.6,20.6 225.6,19.1 225.6,19.1 225.7,19.1 225.7,19.0 225.8,19.0 225.8,18.9 225.8,18.9 225.9,18.8 225.9,18.8 225.9,18.7 225.9,18.7 226.4,16.5 226.4,16.4 226.4,16.3 226.4,16.3 226.4,16.2 226.4,16.2 226.4,16.1 226.3,16.1 226.3,16.0 226.3,16.0 226.2,15.9 226.2,15.9 226.1,15.8 226.1,15.8 226.0,15.8 226.0,15.8 224.4,15.3 224.4,15.3 224.3,15.3 224.3,15.3 224.2,15.3 224.1,15.3 223.0,15.5 222.9,15.6 222.9,15.6 222.8,15.6 222.7,15.6 220.6,17.1 220.6,17.1 220.6,17.1 220.6,17.1 220.5,17.1 220.5,17.1 220.5,17.1 220.4,17.1 220.4,17.1 220.4,17.1 220.4,17.1 220.3,17.1 219.4,17.0 219.3,17.0 219.3,17.0 219.2,17.0 219.2,17.0 219.1,17.0Z"/></g>
<path d="M278.45,0.35 277.01,1.15 275.73,0.58 274.13,0.67 273.50,0.15 272.02,-0.46 270.43,-0.46 268.95,0.15 268.19,0.82 266.06,1.07 264.75,1.95 263.88,3.26 263.65,4.01 263.65,5.59 264.02,6.60 263.87,7.61 262.92,8.92 262.32,10.82 262.32,12.15 261.68,12.65 260.89,13.82 260.23,16.68 260.81,18.59 261.81,19.57 261.85,20.68 262.40,22.00 263.41,23.02 264.38,23.46 264.97,24.85 266.40,26.13 266.65,27.08 266.30,28.06 266.30,29.62 267.21,31.45 268.08,35.34 268.86,36.51 269.75,37.14 269.78,38.14 270.29,39.37 271.23,40.31 272.82,40.85 273.71,41.75 274.74,42.19 275.34,44.03 276.35,45.04 277.12,45.42 277.16,46.64 277.76,48.10 278.88,49.22 279.72,49.63 279.97,51.42 280.78,52.63 282.00,53.45 283.11,53.70 283.80,54.30 285.05,54.83 285.61,55.63 286.60,56.29 287.77,56.53 288.80,56.34 289.97,56.78 291.05,56.83 292.23,57.40 293.30,57.40 294.08,57.10 294.62,58.34 295.72,59.44 297.16,60.04 298.92,59.98 299.70,60.72 300.99,61.25 302.89,61.10 304.01,62.95 305.59,63.80 307.38,63.62 308.42,62.91 309.90,62.35 310.96,61.21 311.65,61.03 313.46,61.31 313.94,62.42 314.90,63.38 316.15,63.90 317.32,63.92 317.92,65.81 318.91,66.81 320.22,67.35 321.66,67.34 324.52,68.72 326.65,68.52 327.96,67.58 329.23,67.81 330.66,67.53 332.34,66.14 333.72,65.41 334.38,64.25 335.70,63.42 336.62,61.82 337.27,61.34 337.97,60.21 339.40,59.00 339.93,57.72 339.93,56.33 339.67,55.57 340.06,54.09 339.68,52.62 340.20,51.43 340.22,50.35 341.22,48.96 341.51,47.50 341.22,46.03 340.61,45.06 340.77,44.09 340.57,42.97 341.38,41.43 341.29,39.93 342.72,36.98 342.72,35.43 344.16,34.52 345.03,33.22 345.28,32.20 346.48,31.18 346.93,30.01 347.77,29.62 348.72,28.67 349.24,27.42 349.29,26.63 350.13,25.75 350.61,24.68 351.62,24.04 352.25,23.10 352.47,21.99 352.30,21.06 353.55,16.49 352.89,14.33 351.75,13.22 351.88,11.67 351.12,10.24 350.20,9.63 349.16,9.42 348.93,8.54 348.09,7.29 346.11,6.23 344.60,6.23 343.51,6.64 342.04,6.26 340.81,6.52 339.19,5.67 336.32,5.38 334.76,5.69 333.83,6.25 332.20,6.24 331.14,6.62 329.55,6.47 328.76,5.74 327.35,5.15 325.70,5.19 324.60,4.49 323.05,4.18 321.50,4.49 320.51,5.10 319.73,5.27 318.45,5.05 316.91,5.35 316.21,5.73 315.10,6.84 314.45,8.77 313.42,9.17 312.70,9.90 312.26,11.28 311.02,11.54 309.80,12.13 307.78,11.89 306.83,10.86 305.61,10.39 304.35,8.97 303.82,7.66 302.84,6.69 300.85,6.09 299.71,5.22 298.30,5.03 297.48,4.18 296.76,3.85 296.40,3.16 295.37,2.13 293.34,1.50 292.36,0.79 290.78,0.64 289.38,1.40 288.18,0.50 286.95,0.26 285.45,0.65 284.59,0.55 282.56,0.88 281.23,1.49 280.02,0.50Z" fill="#74ae62" stroke="#3a5c30" stroke-width="0.7"/><g fill="url(#gg)"><path d="M277.8,31.5 277.7,31.7 277.6,31.9 277.5,32.0 277.4,32.2 277.3,32.4 277.3,32.6 277.3,32.8 277.3,33.1 277.3,33.3 277.3,33.5 277.4,33.7 277.5,33.9 277.6,34.0 277.7,34.2 277.8,34.4 278.8,35.6 279.0,35.7 279.1,35.8 279.3,36.0 279.5,36.1 279.7,36.2 279.9,36.2 280.0,36.3 280.3,36.3 286.5,37.0 286.8,37.0 287.0,37.0 287.2,37.0 287.4,36.9 287.6,36.8 287.8,36.8 288.0,36.6 288.1,36.5 288.3,36.4 288.4,36.2 288.6,36.1 288.7,35.9 288.8,35.7 290.1,32.6 290.2,32.4 290.3,32.2 290.3,32.0 290.3,31.8 290.3,31.6 290.3,31.4 290.3,31.2 290.2,31.0 290.1,30.8 287.9,26.1 287.8,25.9 287.6,25.7 287.5,25.5 287.4,25.4 287.2,25.2 287.0,25.1 286.8,25.0 286.7,24.9 285.6,24.6 285.4,24.5 285.2,24.4 285.0,24.4 284.8,24.4 284.5,24.4 284.3,24.5 284.1,24.6 283.9,24.6 283.7,24.8 283.5,24.9 283.3,25.0 283.2,25.2Z"/><path d="M317.0,60.7 316.9,60.9 316.8,61.1 316.8,61.4 316.8,61.6 316.8,61.8 316.8,62.0 316.9,62.2 317.0,62.4 317.0,62.6 317.2,62.8 317.3,63.0 317.4,63.2 317.6,63.3 317.6,63.4 317.7,63.4 317.8,63.5 317.8,63.5 317.9,63.6 317.9,63.6 317.9,63.7 317.9,63.8 318.3,65.0 318.4,65.2 318.5,65.3 318.6,65.5 318.7,65.7 318.9,65.9 319.0,66.0 319.1,66.1 319.3,66.2 319.5,66.3 319.7,66.4 319.9,66.5 320.1,66.6 320.3,66.7 320.6,66.7 320.8,66.7 321.6,66.7 321.7,66.7 321.7,66.7 321.8,66.7 321.9,66.8 322.1,66.8 322.3,66.8 322.6,66.8 322.8,66.8 323.0,66.8 323.2,66.7 323.4,66.6 323.6,66.6 323.8,66.4 323.9,66.3 324.1,66.2 324.2,66.0 324.3,65.8 324.5,65.7 324.5,65.5 326.7,60.2 326.7,60.0 326.8,59.8 326.8,59.6 326.8,59.4 326.8,59.2 326.8,59.0 326.7,58.7 326.6,58.5 326.6,58.3 326.4,58.2 326.3,58.0 326.2,57.8 326.0,57.7 325.8,57.6 325.6,57.5 325.4,57.4 325.2,57.3 321.1,56.1 320.9,56.0 320.7,56.0 320.5,56.0 320.3,56.0 320.1,56.0 319.9,56.1 319.7,56.2 319.5,56.3 319.3,56.4 319.2,56.5 319.0,56.6 318.9,56.8 318.7,56.9 318.6,57.1 318.5,57.3Z"/><path d="M334.9,41.1 334.7,41.0 334.4,41.0 334.2,40.9 334.0,40.9 333.8,40.9 333.6,40.9 333.3,41.0 333.1,41.0 332.9,41.1 332.7,41.2 332.5,41.4 328.9,44.1 328.7,44.3 328.6,44.4 328.4,44.6 328.3,44.8 328.2,45.0 328.1,45.2 328.1,45.4 328.0,45.6 328.0,45.8 328.0,46.0 328.1,46.3 328.1,46.5 328.2,46.7 328.3,46.9 328.4,47.1 330.8,50.8 330.9,51.0 331.1,51.1 331.2,51.3 331.4,51.4 331.6,51.5 331.8,51.6 332.0,51.7 332.2,51.8 332.4,51.8 332.6,51.8 332.8,51.8 333.1,51.8 333.3,51.7 333.5,51.6 333.7,51.5 333.9,51.4 339.4,47.7 339.6,47.5 339.8,47.4 339.9,47.2 340.0,47.0 340.1,46.9 340.2,46.7 340.3,46.5 340.4,46.2 340.4,46.0 340.4,45.8 340.4,45.6 340.3,45.4 340.3,45.3 340.3,45.3 340.3,45.1 340.3,45.0 340.3,44.9 340.2,44.7 340.2,44.5 340.1,44.3 340.0,44.1 339.9,44.0 339.7,43.8 339.6,43.7 339.4,43.5 339.3,43.4 339.1,43.3Z"/><path d="M322.5,41.9 322.5,42.1 322.5,42.3 322.5,42.5 322.6,42.7 322.7,42.9 322.7,43.1 322.9,43.2 323.0,43.4 323.1,43.6 323.3,43.7 323.5,43.8 323.6,43.9 323.8,44.0 324.0,44.1 326.1,44.7 326.3,44.8 326.5,44.8 326.7,44.8 326.9,44.8 327.1,44.8 327.3,44.7 327.5,44.7 327.7,44.6 327.9,44.5 328.1,44.3 332.4,41.1 332.5,40.9 332.7,40.8 332.8,40.6 332.9,40.4 333.0,40.2 333.1,40.0 333.2,39.8 333.2,39.6 333.2,39.4 333.2,39.1 332.9,35.2 332.9,35.0 332.9,34.8 332.8,34.6 332.7,34.4 332.6,34.2 332.5,34.0 332.4,33.9 332.2,33.7 332.0,33.6 331.9,33.5 331.7,33.4 331.5,33.3 331.3,33.2 331.1,33.2 328.0,32.7 327.8,32.7 327.6,32.7 327.4,32.7 327.2,32.7 327.0,32.8 326.8,32.9 326.6,32.9 326.4,33.1 326.3,33.2 326.1,33.3 323.3,36.1 323.2,36.2 323.1,36.4 322.9,36.6 322.9,36.8 322.8,37.0 322.7,37.2 322.7,37.4 322.7,37.6Z"/><path d="M264.3,7.6 264.2,7.8 264.2,8.0 264.3,8.2 264.3,8.4 264.4,8.6 264.4,8.8 264.5,9.0 264.6,9.1 264.8,9.3 264.9,9.5 266.7,11.2 266.9,11.4 267.1,11.5 267.3,11.6 267.5,11.7 267.7,11.8 267.9,11.8 268.1,11.8 268.4,11.8 268.6,11.8 268.8,11.8 269.0,11.7 269.2,11.6 269.4,11.5 274.5,8.3 274.7,8.2 274.9,8.1 275.0,7.9 275.1,7.8 275.3,7.6 275.4,7.4 275.4,7.2 275.5,7.0 275.5,6.8 275.6,6.6 275.6,6.4 275.6,6.2 275.5,6.0 275.5,5.7 275.4,5.6 273.4,1.2 273.3,1.0 273.2,0.9 273.1,0.7 273.0,0.5 272.8,0.4 272.6,0.3 272.4,0.2 272.2,0.1 272.0,0.0 271.8,-0.0 271.6,-0.1 271.4,-0.1 270.9,-0.1 270.7,-0.1 270.5,-0.0 270.3,0.0 270.1,0.1 269.5,0.3 269.3,0.4 269.1,0.6 268.9,0.7 268.5,1.1 268.4,1.1 268.4,1.1 268.4,1.2 268.3,1.2 268.3,1.2 268.2,1.2 268.2,1.2 266.7,1.4 266.5,1.4 266.3,1.5 266.1,1.5 265.9,1.6 265.8,1.7 265.4,2.0 265.2,2.1 265.1,2.3 264.9,2.4 264.8,2.6 264.4,3.1 264.3,3.3 264.2,3.5 264.1,3.7 264.1,3.8 264.1,4.0 264.0,4.2 264.0,4.4 264.0,5.1 264.0,5.3 264.1,5.5 264.1,5.7 264.2,5.9 264.4,6.4 264.4,6.5 264.4,6.5 264.4,6.6 264.4,6.6 264.4,6.7 264.4,6.7Z"/><path d="M343.1,7.0 342.9,7.0 342.7,6.9 342.4,6.9 342.2,7.0 342.0,7.0 341.8,7.1 341.6,7.2 341.4,7.3 341.2,7.4 341.0,7.5 338.2,10.2 338.0,10.4 337.9,10.6 337.8,10.8 337.7,10.9 337.6,11.1 337.5,11.4 337.5,11.6 337.5,11.8 337.5,12.0 337.5,12.2 337.6,12.4 337.6,12.6 337.7,12.8 337.8,13.0 337.9,13.2 341.5,17.9 341.6,18.0 341.8,18.2 342.0,18.3 342.1,18.4 342.3,18.5 342.5,18.6 342.7,18.7 342.9,18.7 343.1,18.7 343.4,18.7 343.6,18.7 343.8,18.7 344.0,18.6 344.2,18.5 344.4,18.4 344.5,18.3 344.7,18.2 344.9,18.0 345.0,17.9 345.1,17.7 345.2,17.5 348.5,10.9 348.6,10.7 348.7,10.5 348.7,10.3 348.7,10.0 348.7,9.8 348.7,9.6 348.7,9.4 348.6,9.1 348.5,8.9 348.4,8.6 348.3,8.4 348.1,8.1 347.9,7.9 347.8,7.8 347.6,7.6 347.5,7.5 347.3,7.4 346.5,7.0 346.3,6.9 346.1,6.8 345.9,6.7 345.7,6.7 345.4,6.7 345.1,6.7 344.9,6.7 344.7,6.7 344.5,6.8 344.3,6.8 343.7,7.1 343.7,7.1 343.6,7.1 343.6,7.1 343.5,7.1 343.5,7.1 343.4,7.1 343.4,7.1Z"/><path d="M325.5,5.6 325.3,5.6 325.1,5.5 324.8,5.5 324.6,5.5 324.4,5.5 324.2,5.6 324.0,5.6 323.8,5.7 323.6,5.8 323.4,5.9 323.2,6.0 323.1,6.2 322.9,6.4 322.8,6.5 322.7,6.7 322.6,6.9 322.5,7.1 322.5,7.4 322.5,7.6 322.5,7.8 322.5,8.0 322.5,8.2 323.4,11.6 323.4,11.8 323.5,12.0 323.6,12.2 323.7,12.4 323.8,12.5 324.0,12.7 324.1,12.8 324.3,12.9 324.5,13.1 324.7,13.1 324.9,13.2 325.1,13.3 327.5,13.7 327.7,13.8 327.9,13.8 328.1,13.8 328.4,13.8 328.6,13.7 328.8,13.6 329.0,13.5 329.1,13.4 329.3,13.3 331.2,11.8 331.3,11.7 331.5,11.5 331.6,11.3 331.7,11.1 331.8,10.9 331.9,10.7 332.0,10.5 332.0,10.3 332.0,10.1 332.0,9.8 331.9,8.9 331.8,8.7 331.8,8.5 331.7,8.3 331.6,8.1 331.5,7.9 331.4,7.8 331.2,7.6 331.0,7.5 330.9,7.4 330.7,7.3 330.5,7.2 330.3,7.1 330.1,7.0 329.9,7.0 329.5,7.0 329.5,7.0 329.4,7.0 329.4,7.0 329.3,6.9 329.3,6.9 329.3,6.9 329.2,6.8 329.2,6.8 328.8,6.4 328.6,6.3 328.5,6.2 328.3,6.1 328.1,6.0 327.7,5.8 327.5,5.8 327.2,5.7 327.0,5.7 326.8,5.7 325.7,5.7 325.7,5.7 325.6,5.7 325.6,5.7 325.5,5.7Z"/><path d="M325.7,64.1 325.6,64.3 325.6,64.5 325.5,64.7 325.5,64.9 325.6,65.1 325.6,65.3 325.6,65.5 325.7,65.7 325.8,65.9 325.9,66.1 326.1,66.3 326.2,66.5 326.4,66.6 326.5,66.7 326.7,66.8 326.9,66.9 327.1,67.0 327.3,67.0 327.6,67.1 327.8,67.1 327.9,67.1 328.0,67.1 328.0,67.1 328.1,67.1 328.8,67.2 329.0,67.2 329.2,67.3 329.4,67.2 329.6,67.2 329.9,67.2 330.1,67.1 330.3,67.0 330.5,66.9 330.7,66.8 330.9,66.7 332.0,65.8 332.0,65.7 332.1,65.7 332.1,65.7 332.8,65.3 333.0,65.2 333.1,65.1 333.3,65.0 333.4,64.8 333.6,64.7 333.7,64.5 333.9,64.0 333.9,64.0 334.0,63.9 334.0,63.9 334.1,63.9 334.1,63.8 334.1,63.8 334.9,63.3 335.0,63.2 335.2,63.1 335.4,62.9 335.5,62.8 335.6,62.6 335.8,62.3 335.9,62.1 335.9,61.9 336.0,61.7 336.0,61.5 336.1,61.2 336.1,61.0 336.0,60.8 336.0,60.6 335.9,60.4 335.8,60.2 335.7,60.0 335.6,59.8 335.4,59.7 335.3,59.5 332.7,57.3 332.5,57.2 332.3,57.0 332.1,56.9 331.9,56.9 331.7,56.8 331.4,56.8 331.2,56.8 331.0,56.8 330.8,56.8 330.6,56.9 330.4,57.0 329.0,57.6 328.8,57.6 328.6,57.8 328.5,57.9 328.3,58.0 328.2,58.2 328.0,58.4 327.9,58.5 327.8,58.7Z"/><path d="M263.7,18.2 263.5,18.3 263.4,18.4 263.2,18.6 263.0,18.8 262.9,18.9 262.8,19.1 262.7,19.3 262.6,19.5 262.5,19.7 262.5,20.0 262.5,20.2 262.5,20.4 262.5,20.6 262.6,20.8 262.7,21.0 262.7,21.2 262.8,21.4 263.0,21.6 263.1,21.8 263.2,22.0 263.5,22.2 263.6,22.4 263.8,22.5 264.0,22.6 264.1,22.7 264.6,22.9 264.6,22.9 264.7,22.9 264.8,23.0 264.8,23.0 264.8,23.0 264.9,23.1 264.9,23.1 264.9,23.2 265.0,23.2 265.3,24.0 265.4,24.2 265.5,24.5 265.7,24.6 265.8,24.8 266.8,25.7 266.8,25.7 267.0,25.8 267.2,26.0 267.4,26.1 267.6,26.1 267.8,26.2 268.0,26.3 268.2,26.3 268.4,26.3 268.6,26.3 268.9,26.2 269.1,26.2 269.3,26.1 269.5,26.0 269.6,25.8 269.8,25.7 270.0,25.6 270.1,25.4 270.2,25.2 270.3,25.0 270.4,24.8 270.5,24.6 271.2,21.5 271.2,21.3 271.3,21.1 271.3,20.9 271.2,20.7 271.2,20.4 271.1,20.2 271.0,20.0 270.9,19.8 270.8,19.7 270.7,19.5 268.7,17.5 268.6,17.3 268.4,17.2 268.2,17.1 268.0,17.0 267.8,16.9 267.6,16.9 267.4,16.8 267.2,16.8 267.0,16.8 266.8,16.8 266.6,16.9 266.4,16.9 266.2,17.0Z"/><path d="M310.0,59.9 310.1,60.1 310.3,60.2 310.5,60.3 310.7,60.4 310.9,60.5 311.2,60.5 311.4,60.5 311.6,60.5 311.6,60.5 311.7,60.6 311.7,60.6 313.5,60.8 313.5,60.8 313.6,60.9 313.7,60.9 313.8,60.9 313.8,61.0 314.0,61.0 314.2,61.1 314.4,61.2 314.7,61.2 314.9,61.2 315.1,61.2 315.3,61.1 315.5,61.1 315.7,61.0 315.9,60.9 316.1,60.7 316.3,60.6 316.4,60.4 316.6,60.3 316.7,60.1 316.8,59.9 318.5,56.0 318.6,55.8 318.7,55.6 318.7,55.4 318.7,55.1 318.7,54.9 318.7,54.7 318.6,54.5 318.5,54.3 318.2,53.5 318.1,53.3 318.0,53.1 317.9,52.9 317.7,52.7 317.5,52.6 317.3,52.5 317.2,52.3 316.9,52.3 316.7,52.2 316.5,52.2 309.3,51.1 309.1,51.1 308.8,51.1 308.6,51.1 308.4,51.1 308.2,51.2 308.0,51.3 307.8,51.4 307.0,51.9 306.8,52.0 306.6,52.2 306.4,52.3 306.3,52.5 306.2,52.7 306.1,52.8 305.8,53.4 305.7,53.6 305.7,53.8 305.6,54.0 305.6,54.2 305.6,54.4 305.6,54.6 305.7,55.0 305.7,55.3 305.8,55.5 305.8,55.6 305.9,55.8 306.0,56.0 306.2,56.2 306.3,56.3Z"/><path d="M280.7,18.7 280.9,18.8 281.1,18.9 281.3,18.9 281.5,19.0 281.8,19.0 282.0,18.9 282.2,18.9 282.4,18.8 282.6,18.8 282.8,18.7 283.0,18.5 283.2,18.4 283.3,18.2 288.1,13.0 288.3,12.8 288.4,12.6 288.5,12.4 288.6,12.2 288.6,12.0 288.7,11.8 288.7,11.6 288.7,11.4 288.7,11.2 288.6,11.0 288.5,10.7 288.5,10.5 288.4,10.3 286.4,7.1 286.2,7.0 286.1,6.8 285.9,6.6 285.7,6.5 285.6,6.4 285.4,6.3 285.1,6.2 284.9,6.1 284.7,6.1 284.5,6.1 284.3,6.1 284.0,6.1 279.2,7.2 279.0,7.2 278.8,7.3 278.6,7.4 278.4,7.5 278.2,7.6 278.1,7.8 277.9,7.9 277.8,8.1 277.7,8.3 277.6,8.5 277.5,8.7 277.5,8.9 277.4,9.1 277.4,9.3 277.4,9.5 277.4,9.7 277.5,9.9 279.5,17.3 279.6,17.5 279.7,17.7 279.8,17.9 279.9,18.1 280.1,18.3 280.2,18.4 280.4,18.6 280.6,18.7Z"/><path d="M284.2,47.5 284.4,47.5 284.6,47.5 284.9,47.5 285.1,47.5 285.3,47.5 285.5,47.4 285.7,47.3 285.9,47.2 286.0,47.1 286.2,46.9 286.3,46.8 286.5,46.6 286.6,46.4 286.7,46.3 286.8,46.1 286.8,45.8 288.2,40.2 288.2,39.9 288.3,39.7 288.2,39.5 288.2,39.3 288.2,39.1 288.1,38.9 288.0,38.7 287.9,38.5 287.8,38.3 287.6,38.1 287.5,38.0 287.3,37.8 287.1,37.7 286.9,37.6 286.7,37.6 286.5,37.5 286.3,37.5 281.8,37.0 281.6,37.0 281.3,37.0 281.1,37.0 280.9,37.0 280.7,37.1 280.5,37.2 280.3,37.3 280.2,37.4 280.0,37.6 279.9,37.7 279.7,37.9 279.6,38.1 279.5,38.3 279.4,38.5 279.4,38.7 279.4,38.9 278.8,44.3 278.7,44.5 278.7,44.7 278.8,44.9 278.8,45.1 278.9,45.3 279.0,45.5 279.1,45.7 279.2,45.9 279.4,46.0 279.5,46.2 279.7,46.3 279.9,46.4 280.1,46.5 280.3,46.6 280.5,46.7Z"/><path d="M331.7,21.5 331.5,21.4 331.3,21.4 331.1,21.3 330.9,21.3 330.7,21.3 330.5,21.3 330.3,21.3 330.1,21.4 329.9,21.4 329.7,21.5 329.5,21.6 329.4,21.7 329.2,21.9 325.8,25.2 325.6,25.3 325.5,25.5 325.4,25.7 325.3,25.8 325.2,26.0 325.2,26.2 325.1,26.4 325.1,26.7 325.1,26.9 325.1,27.1 325.2,27.3 325.2,27.5 326.4,30.9 326.5,31.1 326.6,31.3 326.7,31.5 326.9,31.7 327.0,31.8 327.2,32.0 327.3,32.1 327.5,32.2 327.7,32.3 327.9,32.3 328.2,32.4 332.2,33.0 332.4,33.0 332.6,33.0 332.8,33.0 333.0,33.0 333.2,32.9 333.4,32.9 333.6,32.8 333.8,32.7 334.2,32.4 334.4,32.2 334.5,32.1 334.7,31.9 334.8,31.7 334.9,31.5 335.0,31.3 335.1,31.1 335.1,30.9 335.1,30.7 335.4,24.8 335.4,24.6 335.4,24.4 335.4,24.2 335.3,24.0 335.2,23.8 335.1,23.6 335.0,23.4 334.9,23.3 334.7,23.1 334.6,23.0 334.4,22.9 334.2,22.8Z"/><path d="M299.1,22.7 299.1,22.4 299.0,22.2 298.9,22.0 298.8,21.8 298.7,21.6 298.6,21.5 298.5,21.3 298.3,21.2 298.1,21.0 297.9,20.9 297.7,20.8 297.5,20.7 297.3,20.7 297.1,20.7 296.9,20.7 296.7,20.7 296.5,20.7 296.2,20.8 296.0,20.8 295.8,20.9 289.8,24.2 289.6,24.4 289.5,24.5 289.3,24.6 289.2,24.8 289.0,25.0 288.9,25.2 288.8,25.4 288.8,25.6 288.7,25.8 288.7,26.0 288.7,26.3 288.7,26.5 288.7,26.7 288.8,26.9 288.9,27.1 290.3,30.1 290.4,30.3 290.5,30.5 290.7,30.6 290.8,30.8 291.0,30.9 291.2,31.0 291.3,31.1 291.5,31.2 291.7,31.3 292.0,31.3 292.2,31.3 292.4,31.4 297.5,31.2 297.8,31.1 298.0,31.1 298.2,31.1 298.4,31.0 298.5,30.9 298.7,30.8 298.9,30.6 299.0,30.5 299.2,30.3 299.3,30.2 299.4,30.0 299.5,29.8 299.6,29.6 299.6,29.4 299.7,29.2 299.7,29.0 299.7,28.8Z"/><path d="M267.5,31.3 267.5,31.4 267.6,31.4 268.3,34.8 268.4,35.0 268.4,35.2 268.5,35.4 268.6,35.5 268.9,35.9 269.0,36.1 269.1,36.2 269.3,36.4 269.4,36.5 269.5,36.6 269.7,36.7 269.9,36.8 270.1,36.9 270.4,36.9 270.6,37.0 270.8,37.0 271.0,37.0 271.2,36.9 271.5,36.9 271.7,36.8 271.9,36.7 272.1,36.6 272.2,36.4 274.4,34.6 274.5,34.5 274.7,34.3 274.8,34.2 274.9,34.0 275.0,33.8 275.1,33.6 275.1,33.4 275.1,33.2 275.1,33.0 275.1,32.8 275.1,32.5 275.1,32.3 275.0,32.1 274.9,31.9 274.8,31.8 274.7,31.6 274.5,31.4 274.4,31.3 270.8,28.3 270.7,28.1 270.5,28.0 270.3,27.9 270.1,27.8 269.9,27.8 269.7,27.7 269.5,27.7 269.3,27.7 269.0,27.8 268.9,27.8 268.7,27.8 268.5,27.9 268.3,28.0 268.1,28.1 268.0,28.2 267.8,28.3 267.7,28.5 267.5,28.7 267.4,28.9 267.3,29.0 267.2,29.2 267.2,29.5 267.1,29.7 267.1,29.9 267.1,30.1 267.1,30.3 267.2,30.5 267.3,30.7 267.3,30.9 267.5,31.3Z"/><path d="M318.9,54.0 319.0,54.2 319.1,54.4 319.2,54.6 319.4,54.7 319.5,54.9 319.7,55.0 319.9,55.1 320.1,55.2 320.3,55.3 327.2,57.3 327.4,57.4 327.7,57.4 327.9,57.4 328.1,57.4 328.3,57.3 328.5,57.3 328.7,57.2 330.3,56.5 330.5,56.4 330.6,56.3 330.8,56.2 331.0,56.1 331.1,55.9 331.2,55.7 331.3,55.5 331.4,55.4 331.5,55.2 331.5,55.0 331.6,54.7 331.7,53.6 331.7,53.3 331.7,53.1 331.7,52.9 331.6,52.7 331.5,52.5 331.5,52.3 331.4,52.1 327.5,46.2 327.4,46.0 327.3,45.9 327.1,45.7 326.9,45.6 326.7,45.5 326.5,45.4 326.3,45.3 324.2,44.7 324.0,44.6 323.7,44.6 323.5,44.6 323.3,44.6 323.1,44.6 322.9,44.7 322.7,44.7 322.5,44.8 322.3,44.9 322.1,45.1 322.0,45.2 321.8,45.4 321.7,45.5 321.6,45.7 318.6,51.2 318.5,51.4 318.4,51.6 318.4,51.9 318.3,52.1 318.3,52.3 318.3,52.5 318.4,52.7 318.4,52.9 318.5,53.1Z"/><path d="M299.3,41.2 299.2,41.4 299.1,41.6 299.0,41.8 298.9,42.0 298.9,42.2 298.8,42.4 298.8,42.6 298.9,42.8 298.9,43.0 299.0,43.2 299.0,43.4 299.1,43.6 299.2,43.8 299.4,44.0 304.9,50.5 305.1,50.7 305.2,50.8 305.4,51.0 305.6,51.1 305.8,51.2 306.0,51.2 306.2,51.3 306.4,51.3 306.7,51.3 306.9,51.3 307.1,51.2 307.3,51.2 307.5,51.1 307.7,51.0 307.9,50.9 308.1,50.7 308.2,50.6 308.4,50.4 308.5,50.2 308.6,50.1 308.7,49.8 308.7,49.6 310.6,42.3 310.6,42.1 310.6,41.9 310.6,41.7 310.6,41.5 310.6,41.3 310.5,41.0 310.4,40.8 310.3,40.7 310.2,40.5 310.0,40.3 309.9,40.2 309.7,40.0 309.5,39.9 309.4,39.8 309.2,39.7 308.9,39.7 308.7,39.6 308.5,39.6 308.3,39.6 301.2,40.0 301.0,40.0 300.7,40.1 300.5,40.1 300.3,40.2 300.2,40.3 300.0,40.4 299.8,40.6 299.7,40.7 299.5,40.9Z"/><path d="M296.9,54.6 296.7,54.6 296.5,54.7 296.2,54.7 296.1,54.8 295.9,54.9 295.7,55.0 295.5,55.1 295.4,55.3 295.2,55.5 295.1,55.6 295.0,55.8 294.9,56.0 294.9,56.2 294.8,56.4 294.8,56.6 294.8,56.8 294.8,57.0 294.8,57.3 294.9,57.5 294.9,57.7 295.0,57.8 295.1,58.0 295.3,58.2 295.4,58.4 295.7,58.7 295.9,58.8 296.1,58.9 296.2,59.0 296.4,59.1 296.8,59.3 297.0,59.4 297.3,59.4 297.5,59.5 297.7,59.5 298.9,59.4 298.9,59.4 299.0,59.4 299.0,59.4 299.1,59.5 299.1,59.5 299.2,59.5 299.2,59.5 299.3,59.6 299.3,59.6 299.7,60.0 299.9,60.1 300.0,60.2 300.2,60.3 300.4,60.4 300.5,60.4 300.7,60.5 300.9,60.6 301.1,60.6 301.3,60.6 301.5,60.6 301.7,60.6 301.9,60.5 302.1,60.5 302.3,60.4 302.5,60.3 302.7,60.1 302.8,60.0 303.0,59.8 303.1,59.7 303.2,59.5 304.3,57.6 304.4,57.5 304.5,57.3 304.5,57.1 304.6,56.8 304.6,56.6 304.6,56.4 304.6,56.2 304.5,56.0 304.4,55.8 304.4,55.6 304.3,55.4 304.1,55.2 304.0,55.1 303.9,54.9 303.7,54.8 303.5,54.7 303.3,54.6 303.1,54.5 302.9,54.4 302.7,54.4 302.5,54.4 302.3,54.4Z"/><path d="M309.0,19.2 308.9,19.4 308.9,19.6 308.9,19.8 308.9,20.1 309.0,20.3 309.1,20.5 309.2,20.7 309.3,20.9 309.4,21.1 312.3,24.6 312.4,24.8 312.6,24.9 312.8,25.0 312.9,25.1 313.2,25.2 313.4,25.3 313.6,25.4 313.8,25.4 314.0,25.4 314.3,25.4 314.5,25.3 314.7,25.3 314.9,25.2 317.3,24.1 317.5,24.0 317.7,23.8 317.9,23.7 318.0,23.5 318.1,23.4 318.3,23.2 318.4,23.0 318.5,22.8 318.5,22.6 319.8,17.1 319.8,16.9 319.9,16.7 319.8,16.5 319.8,16.2 319.8,16.0 319.7,15.8 319.6,15.6 319.5,15.4 319.4,15.2 319.2,15.1 319.1,14.9 318.9,14.8 318.7,14.7 318.5,14.6 318.3,14.5 312.9,12.8 312.7,12.7 312.5,12.7 312.3,12.7 312.1,12.7 311.9,12.7 311.6,12.8 311.4,12.8 311.3,12.9 311.1,13.0 310.9,13.2 310.7,13.3 310.6,13.4 310.5,13.6 310.3,13.8 310.2,14.0 310.2,14.2 310.1,14.4Z"/><path d="M277.2,1.5 277.2,1.6 277.1,1.6 277.1,1.6 277.0,1.6 276.8,1.6 276.6,1.7 276.4,1.8 276.2,1.9 276.0,2.0 275.8,2.1 275.7,2.2 275.5,2.4 275.4,2.6 275.3,2.8 275.2,3.0 275.1,3.2 275.1,3.4 275.1,3.6 275.1,3.8 275.1,4.1 275.1,4.3 275.2,4.5 275.2,4.7 275.8,5.9 275.9,6.1 276.0,6.2 276.1,6.4 276.3,6.6 276.4,6.7 276.6,6.8 276.8,6.9 277.0,7.0 277.2,7.1 277.4,7.1 277.6,7.2 277.8,7.2 278.0,7.2 278.2,7.1 284.3,5.8 284.5,5.8 284.7,5.7 284.9,5.6 285.1,5.5 285.3,5.4 285.4,5.2 285.6,5.1 285.7,4.9 285.8,4.7 285.9,4.5 286.1,4.2 286.1,4.0 286.2,3.8 286.2,3.5 286.2,3.3 286.2,3.1 286.2,2.9 286.1,2.7 286.1,2.5 286.0,2.3 285.9,2.1 285.8,2.0 285.6,1.8 285.5,1.7 285.3,1.5 285.1,1.4 284.9,1.3 284.7,1.2 284.5,1.2 284.3,1.1 284.1,1.1 283.9,1.1 283.7,1.2 283.0,1.3 282.8,1.3 282.6,1.4 282.4,1.4 281.4,1.9 281.4,1.9 281.3,1.9 281.3,1.9 281.3,1.9 281.2,1.9 281.2,1.9 281.1,1.9 281.1,1.9 281.0,1.9 281.0,1.9 280.9,1.8 280.9,1.8 280.4,1.4 280.2,1.2 280.0,1.1 279.8,1.0 279.6,1.0 279.4,0.9 279.2,0.9 279.0,0.9 278.7,0.9 278.5,0.9 278.3,1.0 278.1,1.1 277.9,1.2 277.3,1.5Z"/><path d="M309.2,21.4 309.0,21.2 308.8,21.1 308.7,20.9 308.5,20.8 308.3,20.7 308.1,20.7 307.9,20.6 307.6,20.6 307.4,20.6 307.2,20.6 301.6,21.2 301.4,21.2 301.2,21.3 301.0,21.3 300.8,21.4 300.6,21.5 300.4,21.7 300.3,21.8 300.1,22.0 300.0,22.2 299.9,22.3 299.8,22.5 299.7,22.7 299.7,22.9 299.7,23.1 299.6,23.4 299.6,23.6 300.1,28.6 300.1,28.8 300.2,29.0 300.3,29.2 300.3,29.4 300.5,29.6 300.6,29.7 300.7,29.9 300.9,30.1 301.1,30.2 301.2,30.3 301.4,30.4 301.6,30.5 301.8,30.5 302.1,30.6 302.3,30.6 310.2,30.7 310.4,30.6 310.6,30.6 310.8,30.6 311.0,30.5 311.2,30.4 311.4,30.3 311.6,30.1 311.8,30.0 311.9,29.8 312.1,29.6 312.2,29.4 312.3,29.2 312.3,29.0 312.8,27.3 312.8,27.1 312.9,26.9 312.9,26.7 312.9,26.5 312.8,26.3 312.8,26.1 312.7,25.9 312.6,25.7 312.5,25.5 312.4,25.3Z"/><path d="M273.3,20.1 273.1,20.2 272.9,20.3 272.7,20.4 272.5,20.5 272.4,20.6 272.2,20.8 272.1,21.0 272.0,21.2 271.9,21.3 271.8,21.5 271.7,21.8 270.7,26.1 270.6,26.4 270.6,26.6 270.6,26.8 270.6,27.0 270.7,27.2 270.7,27.4 270.8,27.6 270.9,27.8 271.1,28.0 271.2,28.2 271.4,28.3 274.7,31.2 274.8,31.3 275.0,31.4 275.2,31.5 275.4,31.6 275.6,31.6 275.8,31.7 276.0,31.7 276.3,31.7 276.5,31.7 276.7,31.6 276.9,31.5 277.1,31.4 277.3,31.3 277.4,31.2 277.6,31.1 277.8,30.9 283.0,24.8 283.1,24.7 283.2,24.5 283.3,24.3 283.4,24.1 283.4,23.9 283.5,23.7 283.5,23.5 283.5,23.3 283.5,23.1 283.4,22.9 283.4,22.7 283.3,22.5 282.3,20.5 282.2,20.3 282.1,20.1 282.0,19.9 281.9,19.8 281.7,19.6 281.5,19.5 281.4,19.4 280.4,18.9 280.2,18.8 280.0,18.8 279.8,18.7 279.5,18.7 279.3,18.7 279.1,18.7 278.9,18.7Z"/><path d="M288.5,48.1 288.3,48.1 288.1,48.1 287.9,48.1 287.7,48.1 287.5,48.2 287.3,48.2 287.1,48.3 286.9,48.4 286.7,48.5 286.6,48.7 286.4,48.8 286.3,49.0 286.2,49.2 286.1,49.4 286.0,49.6 285.9,49.8 285.9,50.0 285.9,50.2 285.7,53.9 285.7,54.1 285.7,54.3 285.8,54.5 285.8,54.7 285.9,54.9 286.0,55.1 286.2,55.3 286.3,55.5 286.5,55.6 286.6,55.8 286.8,55.9 287.0,56.0 287.2,56.0 287.4,56.1 287.7,56.1 287.9,56.2 288.1,56.1 288.3,56.1 288.7,56.0 288.7,56.0 288.8,56.0 288.8,56.0 288.8,56.0 288.9,56.0 288.9,56.1 288.9,56.1 289.7,56.4 289.9,56.4 290.2,56.5 290.4,56.5 291.0,56.5 291.1,56.5 291.1,56.5 291.1,56.5 291.2,56.6 291.2,56.6 291.6,56.8 291.8,56.9 292.0,56.9 292.2,57.0 292.5,57.0 292.7,57.0 292.9,57.0 293.1,56.9 293.3,56.9 293.5,56.8 293.7,56.7 293.9,56.6 294.0,56.5 294.2,56.3 294.3,56.2 294.4,56.0 294.9,55.4 295.0,55.2 295.0,55.0 295.1,54.8 295.2,54.6 295.2,54.4 295.2,54.2 295.2,54.0 295.2,53.8 295.1,53.6 295.1,53.4 293.8,50.2 293.7,50.0 293.6,49.8 293.5,49.6 293.4,49.5 293.2,49.3 293.0,49.2 292.8,49.1 292.6,49.0 292.4,48.9 292.2,48.8Z"/><path d="M335.5,29.7 335.5,29.9 335.5,30.1 335.5,30.3 335.6,30.5 335.7,30.7 335.8,30.9 335.9,31.0 336.0,31.2 336.2,31.4 336.3,31.5 336.5,31.6 336.7,31.7 336.9,31.8 337.1,31.9 337.3,31.9 342.2,32.8 342.4,32.9 342.6,32.9 342.8,32.8 343.0,32.8 343.3,32.8 343.5,32.7 343.7,32.6 343.8,32.5 344.0,32.3 344.2,32.2 344.3,32.0 344.4,31.8 344.5,31.6 344.6,31.4 344.7,31.2 344.7,31.0 344.8,30.8 344.8,30.6 344.8,30.4 343.7,22.8 343.7,22.6 343.6,22.4 343.5,22.2 343.4,22.0 343.3,21.8 343.2,21.7 343.0,21.5 342.9,21.4 342.7,21.2 342.5,21.1 342.3,21.1 342.1,21.0 341.8,21.0 341.6,20.9 341.4,20.9 341.2,21.0 341.0,21.0 340.8,21.1 340.6,21.2 336.9,23.0 336.7,23.1 336.6,23.2 336.4,23.3 336.3,23.5 336.1,23.6 336.0,23.8 335.9,24.0 335.8,24.2 335.8,24.4 335.7,24.6 335.7,24.8Z"/><path d="M298.3,12.6 298.1,12.7 297.9,12.8 297.7,12.9 297.5,13.0 297.4,13.1 297.2,13.3 297.1,13.4 296.9,13.6 296.8,13.8 296.8,14.0 296.7,14.2 296.6,14.4 296.6,14.6 296.6,14.8 296.6,15.0 296.6,15.2 297.4,18.9 297.4,19.1 297.5,19.3 297.6,19.5 297.7,19.7 297.9,19.8 298.0,20.0 298.2,20.1 298.6,20.5 298.8,20.6 299.0,20.7 299.2,20.8 299.4,20.9 299.6,21.0 299.8,21.0 300.0,21.0 300.2,21.0 306.8,20.3 307.0,20.3 307.2,20.2 307.4,20.1 307.6,20.0 307.7,19.9 307.9,19.8 308.1,19.7 308.2,19.5 308.3,19.4 308.5,19.2 308.5,19.0 308.6,18.8 308.7,18.6 309.5,15.1 309.6,14.8 309.6,14.6 309.6,14.4 309.6,14.2 309.5,14.0 309.5,13.8 309.4,13.6 309.3,13.4 309.1,13.2 309.0,13.1 308.9,12.9 308.7,12.8 308.5,12.7 308.3,12.6 308.1,12.5 307.9,12.4 307.7,12.4 307.6,12.4 307.6,12.3 307.6,12.3 307.5,12.3 307.5,12.3 307.4,12.2 307.4,12.2 306.9,11.7 306.8,11.5 306.6,11.4 306.4,11.3 306.2,11.2 306.0,11.1 305.8,11.0 305.6,11.0 305.4,11.0 305.2,11.0 305.0,11.0 304.8,11.0Z"/><path d="M316.3,51.8 316.5,51.8 316.7,51.8 316.9,51.8 317.1,51.7 317.4,51.6 317.6,51.6 317.8,51.4 317.9,51.3 318.1,51.2 318.3,51.0 318.4,50.8 318.5,50.6 320.9,46.3 321.0,46.1 321.0,45.9 321.1,45.7 321.1,45.4 321.1,45.2 321.1,45.0 321.1,44.8 321.0,44.6 321.0,44.4 320.9,44.2 320.8,44.0 320.6,43.8 320.5,43.7 320.3,43.5 320.1,43.4 320.0,43.3 319.8,43.2 319.6,43.1 319.3,43.1 313.0,41.9 312.8,41.8 312.6,41.8 312.3,41.8 312.1,41.9 311.9,41.9 311.7,42.0 311.5,42.1 311.3,42.2 311.1,42.4 311.0,42.5 310.8,42.7 310.7,42.9 310.6,43.1 310.5,43.3 310.5,43.5 309.3,48.3 309.2,48.5 309.2,48.7 309.2,49.0 309.2,49.2 309.3,49.4 309.3,49.6 309.4,49.8 309.5,50.0 309.6,50.2 309.8,50.3 309.9,50.5 310.1,50.6 310.3,50.7 310.5,50.8 310.7,50.9 310.9,51.0 311.1,51.0Z"/><path d="M314.5,32.0 314.3,31.9 314.1,31.8 313.9,31.8 313.7,31.7 313.5,31.7 313.3,31.7 313.0,31.7 312.8,31.8 312.6,31.9 312.4,31.9 312.2,32.1 312.1,32.2 311.9,32.3 311.7,32.5 311.6,32.7 311.5,32.8 311.4,33.0 311.3,33.2 311.3,33.4 310.1,38.6 310.1,38.9 310.1,39.1 310.1,39.3 310.1,39.6 310.2,39.8 310.3,40.0 310.4,40.2 310.4,40.3 310.5,40.5 310.7,40.6 310.8,40.8 311.0,40.9 311.1,41.1 311.3,41.2 311.5,41.2 311.7,41.3 311.9,41.4 319.5,42.8 319.7,42.9 319.9,42.9 320.2,42.8 320.4,42.8 320.6,42.8 320.8,42.7 321.0,42.6 321.2,42.5 321.4,42.3 321.5,42.2 321.7,42.0 321.8,41.8 321.9,41.6 322.0,41.4 322.0,41.2 322.1,41.0 322.1,40.8 322.2,38.0 322.2,37.7 322.2,37.5 322.2,37.3 322.1,37.1 322.0,36.9 321.9,36.7 321.8,36.5 321.7,36.4 321.5,36.2 321.4,36.1 321.2,36.0Z"/><path d="M347.1,20.6 346.8,20.5 346.6,20.5 346.4,20.5 346.2,20.5 346.0,20.5 345.8,20.6 345.5,20.7 345.4,20.8 345.2,20.9 345.0,21.0 344.8,21.2 344.7,21.3 344.6,21.5 344.5,21.7 344.4,21.9 344.3,22.1 344.2,22.3 344.2,22.6 344.2,22.8 344.2,23.0 344.6,25.8 344.7,26.0 344.7,26.2 344.8,26.4 344.9,26.6 345.0,26.8 345.2,26.9 345.3,27.1 345.5,27.2 345.6,27.4 345.8,27.5 346.0,27.5 346.2,27.6 346.4,27.7 346.7,27.7 346.9,27.7 347.1,27.7 347.3,27.6 347.5,27.6 347.7,27.5 347.9,27.4 348.1,27.3 348.2,27.1 348.4,27.0 348.5,26.8 348.7,26.7 348.8,26.5 348.8,26.4 348.8,26.3 348.9,26.3 348.9,26.2 349.4,25.7 349.6,25.5 349.7,25.3 349.8,25.1 350.1,24.5 350.1,24.5 350.2,24.3 350.3,24.2 350.4,23.9 350.4,23.7 350.5,23.5 350.5,23.3 350.5,23.1 350.4,22.9 350.4,22.6 350.3,22.4 350.2,22.2 350.1,22.1 350.0,21.9 349.8,21.7 349.7,21.6 349.5,21.4 349.3,21.3 349.1,21.2 348.9,21.1Z"/><path d="M324.4,13.6 324.2,13.6 324.0,13.6 323.8,13.6 323.6,13.6 323.4,13.6 323.2,13.7 323.0,13.8 322.8,13.9 321.5,14.7 321.4,14.8 321.2,14.9 321.0,15.1 320.9,15.3 320.8,15.4 320.7,15.6 320.6,15.8 320.5,16.0 319.2,21.7 319.2,21.9 319.1,22.1 319.1,22.4 319.2,22.6 319.2,22.8 319.3,23.0 319.4,23.2 319.5,23.4 319.6,23.5 319.7,23.7 319.8,23.8 320.0,24.0 320.2,24.1 320.4,24.2 320.6,24.3 323.3,25.3 323.6,25.4 323.8,25.5 324.0,25.5 324.2,25.5 324.4,25.5 324.7,25.4 324.9,25.3 325.1,25.3 325.3,25.2 325.5,25.0 325.6,24.9 329.1,21.6 329.2,21.4 329.4,21.3 329.5,21.1 329.6,20.9 329.7,20.7 329.7,20.5 329.8,20.3 329.8,20.1 329.8,19.8 329.7,19.6 329.7,19.4 328.7,15.7 328.6,15.5 328.6,15.3 328.5,15.1 328.3,14.9 328.2,14.8 328.0,14.6 327.8,14.5 327.6,14.4 327.4,14.3 327.2,14.2 327.0,14.1Z"/><path d="M312.6,28.8 312.6,29.0 312.5,29.3 312.5,29.5 312.6,29.7 312.6,29.9 312.7,30.1 312.7,30.3 312.8,30.5 313.0,30.7 313.1,30.9 313.3,31.0 313.4,31.2 313.6,31.3 321.0,35.6 321.1,35.7 321.4,35.8 321.6,35.9 321.8,35.9 322.0,35.9 322.2,35.9 322.5,35.9 322.7,35.9 322.9,35.8 323.1,35.7 323.3,35.6 323.5,35.4 323.6,35.3 325.8,33.2 325.9,33.0 326.0,32.8 326.2,32.6 326.3,32.4 326.3,32.2 326.4,32.0 326.4,31.8 326.4,31.6 326.4,31.3 326.4,31.1 326.3,30.9 325.0,27.1 324.9,26.9 324.8,26.8 324.7,26.6 324.6,26.4 324.4,26.3 324.2,26.1 324.1,26.0 323.9,25.9 323.7,25.8 319.3,24.2 319.1,24.1 318.9,24.0 318.7,24.0 318.5,24.0 318.3,24.0 318.0,24.1 317.8,24.1 317.6,24.2 314.3,25.8 314.1,25.9 313.9,26.0 313.7,26.1 313.6,26.3 313.4,26.5 313.3,26.6 313.2,26.8 313.1,27.0 313.1,27.2Z"/><path d="M289.0,36.0 288.9,36.2 288.9,36.4 288.8,36.6 288.8,36.8 288.8,37.0 288.8,37.2 288.9,37.4 288.9,37.6 289.0,37.8 289.1,38.0 289.3,38.2 289.4,38.4 289.5,38.5 289.7,38.6 289.9,38.8 290.1,38.9 290.3,38.9 297.0,41.3 297.2,41.4 297.5,41.4 297.7,41.4 297.9,41.4 298.1,41.4 298.3,41.3 298.5,41.3 298.7,41.2 298.9,41.1 299.1,41.0 299.3,40.8 299.4,40.7 299.5,40.5 299.7,40.3 299.8,40.1 299.8,39.9 299.9,39.7 299.9,39.5 300.0,39.3 300.0,39.1 299.6,33.7 299.6,33.4 299.5,33.2 299.5,33.0 299.4,32.8 299.3,32.7 299.2,32.5 299.0,32.3 298.9,32.2 298.7,32.0 298.5,31.9 298.4,31.8 298.2,31.7 298.0,31.7 297.7,31.6 297.5,31.6 297.3,31.6 292.2,31.8 292.0,31.8 291.8,31.8 291.5,31.9 291.3,32.0 291.1,32.1 291.0,32.2 290.8,32.4 290.6,32.5 290.5,32.7 290.4,32.9 290.3,33.1Z"/><path d="M289.2,1.8 289.0,1.8 288.8,1.8 288.6,1.8 288.4,1.8 288.2,1.9 288.0,2.0 287.8,2.1 287.6,2.2 287.4,2.3 287.3,2.4 287.1,2.6 287.0,2.8 286.9,3.0 286.8,3.1 286.2,4.7 286.1,4.9 286.0,5.1 286.0,5.3 286.0,5.5 286.0,5.7 286.0,5.9 286.1,6.1 286.1,6.3 286.2,6.5 286.3,6.7 288.9,10.9 289.1,11.0 289.2,11.2 289.4,11.4 289.5,11.5 289.7,11.6 289.9,11.7 290.1,11.8 290.3,11.8 293.8,12.6 294.0,12.6 294.2,12.6 294.4,12.6 294.7,12.6 294.9,12.6 295.1,12.5 295.3,12.4 295.4,12.3 295.6,12.2 295.8,12.0 295.9,11.9 296.1,11.7 296.2,11.5 296.3,11.3 296.4,11.1 296.4,10.9 296.4,10.7 297.1,6.0 297.1,5.7 297.1,5.5 297.0,5.3 297.0,5.1 296.9,4.9 296.8,4.7 296.7,4.5 296.6,4.3 296.5,4.2 296.4,4.1 296.4,4.1 296.4,4.1 296.4,4.0 296.2,3.7 296.1,3.5 296.0,3.3 295.8,3.2 295.5,2.9 295.4,2.8 295.2,2.6 295.0,2.5 294.8,2.4 294.6,2.4 293.2,1.9 293.2,1.9 293.1,1.9 293.1,1.9 293.1,1.8 292.7,1.6 292.5,1.4 292.3,1.3 292.1,1.3 291.8,1.2 291.6,1.2 291.5,1.2 291.3,1.1 291.1,1.2 290.9,1.2 290.7,1.2 290.5,1.3 290.3,1.4 289.6,1.8 289.6,1.8 289.5,1.8 289.5,1.8 289.4,1.8 289.4,1.8 289.4,1.8 289.3,1.8Z"/><path d="M336.1,32.3 335.9,32.3 335.7,32.3 335.5,32.3 335.3,32.3 335.1,32.4 334.9,32.4 334.7,32.5 334.5,32.6 334.3,32.8 334.2,32.9 334.0,33.1 333.9,33.2 333.8,33.4 333.7,33.6 333.6,33.8 333.6,34.0 333.5,34.2 333.5,34.4 333.5,34.6 333.9,39.0 333.9,39.2 333.9,39.5 334.0,39.7 334.1,39.9 334.2,40.1 334.4,40.2 334.5,40.4 334.7,40.6 334.9,40.7 335.1,40.8 337.4,42.0 337.6,42.1 337.8,42.2 338.1,42.2 338.3,42.3 338.5,42.3 338.7,42.2 338.9,42.2 339.1,42.1 339.3,42.1 339.5,42.0 339.7,41.9 339.9,41.7 340.0,41.6 340.2,41.4 340.3,41.2 340.4,41.0 340.5,40.8 340.6,40.6 340.6,40.4 340.6,40.2 340.6,40.0 340.6,40.0 340.6,39.9 340.7,39.8 340.7,39.7 340.7,39.7 340.7,39.6 341.8,37.3 341.9,37.1 342.0,36.9 342.0,36.7 342.1,36.5 342.1,36.3 342.1,35.5 342.1,35.4 342.1,35.4 342.1,35.4 342.1,35.2 342.1,35.0 342.0,34.8 342.0,34.6 341.9,34.4 341.8,34.2 341.7,34.0 341.6,33.8 341.4,33.7 341.3,33.5 341.1,33.4 340.9,33.3 340.7,33.2 340.5,33.1 340.3,33.1Z"/><path d="M296.9,9.5 296.9,9.7 296.9,9.9 297.0,10.1 297.0,10.3 297.1,10.5 297.2,10.7 297.3,10.9 297.4,11.1 297.5,11.3 297.7,11.4 297.8,11.5 298.0,11.7 298.2,11.8 298.4,11.8 298.6,11.9 298.8,11.9 299.0,12.0 299.2,12.0 299.4,11.9 299.7,11.9 302.0,11.3 302.2,11.2 302.4,11.2 302.6,11.1 302.8,11.0 303.0,10.8 303.1,10.7 303.3,10.5 303.4,10.3 303.5,10.2 303.6,10.0 303.6,9.8 303.7,9.6 303.7,9.3 303.7,9.1 303.7,8.9 303.7,8.7 303.6,8.5 303.5,8.3 303.4,8.1 303.3,7.9 303.2,7.8 303.1,7.6 303.0,7.5 302.8,7.4 302.6,7.2 302.4,7.1 302.3,7.0 302.0,7.0 300.7,6.6 300.7,6.6 300.6,6.5 300.6,6.5 300.5,6.5 300.5,6.5 300.4,6.4 300.2,6.3 300.0,6.2 299.8,6.2 299.6,6.1 299.4,6.1 299.1,6.1 298.9,6.2 298.7,6.2 298.5,6.3 298.3,6.4 298.1,6.5 298.0,6.6 297.8,6.7 297.6,6.9 297.5,7.0 297.4,7.2 297.3,7.4 297.2,7.6 297.2,7.8 297.1,8.0Z"/><path d="M283.9,22.9 284.0,23.1 284.1,23.2 284.2,23.4 284.4,23.6 284.5,23.7 284.7,23.8 284.9,23.9 285.1,24.0 286.7,24.6 286.9,24.7 287.1,24.7 287.3,24.7 287.5,24.7 287.7,24.7 287.9,24.7 288.1,24.6 288.3,24.5 288.5,24.5 295.8,20.4 296.0,20.3 296.1,20.2 296.3,20.1 296.4,19.9 296.6,19.7 296.7,19.5 296.8,19.3 296.8,19.1 296.9,18.9 296.9,18.7 296.9,18.5 296.9,18.3 296.9,18.1 296.2,14.8 296.2,14.6 296.1,14.4 296.0,14.2 295.9,14.0 295.8,13.8 295.6,13.7 295.5,13.5 295.3,13.4 295.1,13.3 294.9,13.2 294.7,13.1 294.5,13.1 290.6,12.2 290.4,12.2 290.2,12.2 290.0,12.2 289.8,12.2 289.6,12.2 289.4,12.3 289.2,12.4 289.0,12.5 288.9,12.6 288.7,12.7 288.5,12.9 283.4,18.5 283.2,18.7 283.1,18.9 283.0,19.1 282.9,19.3 282.9,19.5 282.8,19.7 282.8,19.9 282.8,20.1 282.8,20.3 282.9,20.5 282.9,20.8 283.0,21.0Z"/><path d="M351.4,13.5 351.4,13.5 351.3,13.4 351.3,13.3 351.2,13.1 351.0,13.0 350.9,12.8 350.7,12.7 350.5,12.6 350.3,12.5 350.1,12.4 349.9,12.4 349.7,12.4 349.4,12.4 349.2,12.4 349.0,12.4 348.8,12.5 348.6,12.5 348.4,12.6 348.2,12.8 348.0,12.9 347.9,13.0 347.7,13.2 347.6,13.4 347.5,13.6 345.7,17.1 345.7,17.3 345.6,17.5 345.5,17.7 345.5,17.9 345.5,18.2 345.5,18.4 345.6,18.6 345.6,18.8 345.7,19.0 345.8,19.2 345.9,19.3 346.0,19.5 346.2,19.7 346.3,19.8 346.5,19.9 346.7,20.0 346.9,20.1 347.1,20.2 349.5,20.9 349.8,21.0 350.0,21.0 350.2,21.0 350.4,21.0 350.6,21.0 350.8,20.9 351.0,20.9 351.2,20.8 351.4,20.7 351.6,20.5 351.8,20.4 351.9,20.2 352.0,20.0 352.1,19.8 352.2,19.6 352.3,19.4 352.9,17.1 353.0,16.9 353.0,16.7 353.0,16.5 353.0,16.3 353.0,16.1 352.9,15.9 352.7,15.1 352.6,14.9 352.5,14.7 352.4,14.5 352.3,14.3 352.1,14.2 351.5,13.5Z"/><path d="M272.4,36.7 272.2,36.8 272.1,37.0 271.9,37.2 271.8,37.3 271.7,37.5 271.7,37.8 271.6,38.0 271.6,38.2 271.6,38.4 271.6,38.6 271.6,38.8 271.7,39.0 271.8,39.2 271.9,39.4 272.0,39.6 272.1,39.8 272.3,40.0 272.4,40.1 272.6,40.2 272.8,40.3 272.9,40.4 272.9,40.4 273.0,40.4 273.1,40.4 273.1,40.5 273.2,40.5 273.2,40.5 273.7,41.0 273.8,41.2 274.0,41.3 274.2,41.4 274.4,41.5 274.9,41.7 274.9,41.7 275.0,41.8 275.0,41.8 275.1,41.8 275.3,42.0 275.4,42.1 275.6,42.2 275.8,42.2 276.0,42.3 276.3,42.3 276.5,42.3 276.7,42.3 276.9,42.3 277.1,42.3 277.3,42.2 277.5,42.1 277.7,42.0 277.9,41.9 278.0,41.7 278.2,41.6 278.3,41.4 278.4,41.2 278.5,41.0 278.6,40.8 278.6,40.6 278.7,40.4 279.0,37.4 279.0,37.2 279.0,36.9 279.0,36.7 278.9,36.5 278.8,36.3 278.7,36.1 278.6,35.9 278.5,35.7 277.8,34.9 277.6,34.8 277.5,34.6 277.3,34.5 277.1,34.4 276.9,34.3 276.7,34.2 276.5,34.2 276.3,34.2 276.1,34.2 275.9,34.2 275.6,34.2 275.4,34.3 275.2,34.3 275.0,34.4 274.9,34.5 274.7,34.7Z"/><path d="M291.2,39.5 291.0,39.4 290.8,39.4 290.6,39.4 290.4,39.4 290.2,39.4 290.0,39.4 289.8,39.5 289.6,39.6 289.4,39.7 289.2,39.8 289.0,39.9 288.9,40.1 288.7,40.3 288.6,40.4 288.5,40.6 288.4,40.8 288.4,41.0 287.3,45.5 287.3,45.7 287.3,45.9 287.3,46.1 287.3,46.4 287.3,46.6 287.4,46.8 287.5,47.0 287.6,47.2 287.7,47.4 287.9,47.5 288.0,47.7 288.2,47.8 288.4,47.9 288.6,48.0 288.8,48.1 289.0,48.2 292.1,48.8 292.4,48.8 292.6,48.8 292.8,48.8 293.0,48.8 293.3,48.7 293.5,48.6 293.7,48.5 293.9,48.4 294.0,48.2 294.2,48.1 297.2,44.8 297.3,44.6 297.5,44.4 297.6,44.2 297.6,44.0 297.7,43.8 297.7,43.6 297.8,43.4 297.8,43.2 297.7,43.0 297.7,42.8 297.6,42.6 297.6,42.4 297.4,42.2 297.3,42.0 297.2,41.8 297.0,41.7 296.9,41.5 296.7,41.4 296.5,41.3 296.3,41.2Z"/><path d="M332.0,54.9 332.0,55.1 332.0,55.3 332.0,55.5 332.1,55.8 332.2,56.0 332.3,56.1 332.4,56.3 332.5,56.5 332.6,56.7 332.8,56.8 335.5,59.1 335.7,59.3 335.9,59.4 336.1,59.5 336.3,59.6 336.5,59.6 336.8,59.7 337.0,59.7 337.2,59.7 337.4,59.6 337.6,59.6 337.8,59.5 338.0,59.4 338.2,59.3 338.4,59.1 338.5,59.0 338.7,58.9 338.8,58.7 339.0,58.5 339.1,58.4 339.1,58.2 339.2,58.0 339.3,57.8 339.3,57.6 339.4,57.4 339.4,57.2 339.4,56.8 339.4,56.5 339.3,56.3 339.3,56.1 339.2,55.8 339.2,55.7 339.1,55.7 339.1,55.6 339.1,55.6 339.1,55.5 339.2,55.4 339.2,55.4 339.4,54.6 339.4,54.4 339.4,54.2 339.4,54.0 339.4,53.8 339.4,53.5 339.2,52.8 339.2,52.7 339.1,52.7 339.1,52.6 339.1,52.5 339.2,52.4 339.2,52.2 339.1,52.0 339.1,51.7 339.0,51.5 338.9,51.3 338.8,51.1 338.7,51.0 338.5,50.8 338.4,50.6 338.2,50.5 338.0,50.4 337.8,50.3 337.6,50.2 337.4,50.2 337.2,50.1 337.0,50.1 336.7,50.1 336.5,50.2 336.3,50.2 336.1,50.3 335.9,50.4 335.7,50.5 333.1,52.3 332.9,52.4 332.7,52.6 332.6,52.7 332.5,52.9 332.4,53.1 332.3,53.3 332.2,53.5 332.1,53.7 332.1,53.9Z"/><path d="M314.8,9.2 314.6,9.4 314.5,9.5 314.3,9.7 314.2,9.9 314.1,10.1 314.0,10.3 314.0,10.5 314.0,10.7 313.9,10.9 313.9,11.2 314.0,11.4 314.0,11.6 314.1,11.8 314.2,12.0 314.3,12.2 314.4,12.4 314.6,12.5 314.7,12.7 314.9,12.8 315.1,12.9 315.3,13.0 315.5,13.1 319.5,14.4 319.7,14.4 319.9,14.5 320.1,14.5 320.4,14.5 320.6,14.4 320.8,14.4 321.0,14.3 321.2,14.3 321.3,14.2 321.8,13.9 322.0,13.7 322.2,13.6 322.3,13.5 322.4,13.3 322.6,13.1 322.7,12.9 322.7,12.7 322.8,12.5 322.8,12.3 322.9,12.1 322.9,11.9 322.9,11.7 322.8,11.5 321.9,7.5 321.8,7.3 321.7,7.1 321.6,6.9 321.5,6.8 321.4,6.6 321.2,6.4 321.1,6.3 320.9,6.2 320.7,6.1 320.5,6.0 320.3,5.9 320.1,5.9 319.9,5.9 319.7,5.9 319.6,5.8 319.6,5.8 318.9,5.7 318.7,5.7 318.5,5.7 318.3,5.7 318.1,5.7 317.4,5.8 317.2,5.9 317.0,6.0 316.8,6.1 316.7,6.2 316.5,6.3 316.3,6.4 316.0,6.8 315.8,6.9 315.7,7.1 315.6,7.3 315.5,7.5 315.4,7.6 315.0,8.9 315.0,9.0 315.0,9.0 314.9,9.1 314.9,9.1 314.9,9.2 314.8,9.2Z"/><path d="M330.3,19.6 330.4,19.8 330.5,20.0 330.6,20.1 330.7,20.3 330.8,20.5 331.0,20.6 331.1,20.8 331.3,20.9 331.5,21.0 334.6,22.5 334.8,22.6 335.0,22.7 335.2,22.7 335.4,22.8 335.6,22.8 335.9,22.7 336.1,22.7 336.3,22.6 336.5,22.5 339.9,20.9 340.1,20.8 340.3,20.6 340.4,20.5 340.6,20.3 340.7,20.2 340.8,20.0 340.9,19.8 341.0,19.6 341.1,19.4 341.1,19.2 341.1,19.0 341.1,18.8 341.1,18.5 341.0,18.3 341.0,18.1 340.9,17.9 340.8,17.7 340.7,17.6 336.9,12.6 336.8,12.5 336.6,12.3 336.4,12.2 336.2,12.1 336.0,12.0 335.8,11.9 335.6,11.8 335.4,11.8 333.3,11.6 333.1,11.6 332.9,11.6 332.7,11.6 332.5,11.7 332.3,11.7 332.1,11.8 331.9,11.9 331.7,12.0 330.1,13.4 329.9,13.5 329.8,13.7 329.6,13.9 329.5,14.0 329.4,14.2 329.3,14.4 329.3,14.6 329.2,14.8 329.2,15.1 329.2,15.3 329.3,15.5 329.3,15.7Z"/><path d="M277.3,10.2 277.2,10.0 277.1,9.8 277.0,9.7 276.9,9.5 276.8,9.3 276.6,9.2 276.5,9.0 276.3,8.9 276.1,8.8 275.9,8.7 275.7,8.7 275.5,8.6 275.2,8.6 275.0,8.6 274.8,8.7 274.6,8.7 274.4,8.8 274.2,8.9 274.0,9.0 269.1,12.0 268.9,12.1 268.8,12.3 268.6,12.4 268.5,12.6 268.4,12.7 268.3,12.9 268.2,13.1 268.1,13.3 268.1,13.5 268.0,13.7 268.0,14.9 268.0,15.1 268.0,15.3 268.0,15.5 268.1,15.7 268.1,15.9 268.2,16.1 268.3,16.3 268.4,16.4 268.6,16.6 271.0,19.1 271.2,19.3 271.3,19.4 271.5,19.5 271.7,19.6 271.9,19.7 272.1,19.8 272.3,19.8 272.5,19.8 272.7,19.8 272.9,19.8 273.1,19.7 277.3,18.7 277.5,18.6 277.7,18.6 277.9,18.5 278.1,18.3 278.2,18.2 278.4,18.0 278.5,17.9 278.6,17.7 278.7,17.5 278.8,17.3 278.9,17.1 278.9,16.9 278.9,16.6 278.9,16.4 278.9,16.2 278.9,16.0Z"/><path d="M302.2,31.0 302.0,31.1 301.8,31.1 301.6,31.1 301.4,31.2 301.2,31.3 301.0,31.4 300.9,31.5 300.7,31.7 300.5,31.8 300.4,32.0 300.3,32.2 300.2,32.4 300.1,32.6 300.1,32.8 300.0,33.0 300.0,33.2 300.0,33.4 300.3,37.5 300.3,37.8 300.4,38.0 300.4,38.2 300.5,38.4 300.6,38.6 300.7,38.7 300.9,38.9 301.0,39.0 301.2,39.2 301.4,39.3 301.6,39.4 301.8,39.5 302.0,39.5 302.2,39.6 302.4,39.6 302.6,39.6 307.9,39.3 308.1,39.3 308.3,39.2 308.5,39.1 308.7,39.1 308.9,38.9 309.1,38.8 309.3,38.7 309.4,38.5 309.6,38.4 309.7,38.2 309.8,38.0 309.9,37.8 309.9,37.6 310.7,33.8 310.8,33.6 310.8,33.4 310.8,33.1 310.8,32.9 310.7,32.7 310.6,32.5 310.5,32.3 310.4,32.1 310.3,32.0 310.2,31.8 310.0,31.6 309.8,31.5 309.7,31.4 309.5,31.3 309.3,31.2 309.0,31.2 308.8,31.1 308.6,31.1Z"/><path d="M333.9,6.7 333.7,6.8 333.5,6.9 333.3,7.0 333.1,7.1 333.0,7.2 332.8,7.4 332.7,7.5 332.6,7.7 332.5,7.9 332.4,8.1 332.3,8.3 332.3,8.5 332.3,8.7 332.3,8.9 332.3,9.1 332.3,9.3 332.3,9.5 332.4,9.7 332.5,9.9 332.6,10.1 332.7,10.2 332.8,10.4 332.9,10.6 333.1,10.7 333.3,10.8 333.5,10.9 333.6,11.0 333.8,11.1 334.0,11.1 334.3,11.2 335.4,11.3 335.7,11.3 335.9,11.3 336.1,11.3 336.3,11.2 336.5,11.2 336.7,11.1 336.9,11.0 337.0,10.8 337.2,10.7 338.2,9.7 338.4,9.6 338.5,9.4 338.6,9.2 338.7,9.0 338.8,8.8 338.9,8.6 338.9,8.4 338.9,8.2 338.9,7.9 338.9,7.7 338.8,7.5 338.8,7.3 338.7,7.1 338.6,6.9 338.4,6.7 338.3,6.6 338.1,6.4 338.0,6.3 337.8,6.2 337.6,6.1 337.4,6.0 337.2,6.0 336.9,5.9 336.7,5.9 336.4,5.9 336.2,5.9 336.0,5.9 335.3,6.1 335.1,6.1 334.9,6.2 334.8,6.3 334.6,6.3 334.1,6.6 334.1,6.7 334.0,6.7 334.0,6.7Z"/><path d="M282.8,47.5 282.6,47.5 282.3,47.5 282.1,47.5 281.9,47.5 281.7,47.6 281.5,47.6 281.3,47.7 281.1,47.8 281.0,47.9 280.8,48.1 280.7,48.2 280.5,48.4 280.4,48.6 280.3,48.7 280.2,48.9 280.2,49.1 280.1,49.4 280.1,49.6 280.1,49.8 280.1,50.0 280.2,50.8 280.3,51.0 280.3,51.2 280.4,51.4 280.5,51.5 280.6,51.7 280.8,52.0 280.9,52.2 281.1,52.4 281.2,52.5 281.4,52.6 281.8,52.9 282.0,53.0 282.1,53.1 282.3,53.2 282.5,53.2 283.1,53.4 283.3,53.4 283.5,53.4 283.7,53.4 284.0,53.4 284.2,53.3 284.4,53.3 284.6,53.2 284.8,53.1 284.9,53.0 285.1,52.8 285.2,52.7 285.4,52.5 285.5,52.3 285.6,52.1 285.7,51.9 285.7,51.7 285.8,51.5 285.8,51.3 285.9,50.1 285.9,49.9 285.8,49.6 285.8,49.4 285.7,49.2 285.6,49.0 285.5,48.8 285.4,48.6 285.3,48.5 285.1,48.3 284.9,48.2 284.7,48.1 284.5,48.0 284.3,47.9 284.1,47.8Z"/><path d="M261.2,14.9 261.1,15.1 261.1,15.3 261.1,15.5 261.2,15.7 261.2,15.9 261.3,16.1 261.4,16.3 261.5,16.5 261.6,16.7 261.7,16.9 261.9,17.0 262.0,17.2 262.2,17.3 262.4,17.4 262.6,17.5 262.8,17.5 263.0,17.6 263.2,17.6 263.5,17.6 263.7,17.5 263.9,17.5 264.1,17.4 264.3,17.4 266.3,16.4 266.5,16.3 266.7,16.1 266.9,16.0 267.0,15.9 267.1,15.7 267.3,15.5 267.4,15.3 267.4,15.2 267.5,15.0 267.6,14.7 267.6,14.5 267.6,13.6 267.6,13.4 267.6,13.2 267.6,13.0 267.5,12.8 267.5,12.6 267.4,12.4 267.3,12.2 267.1,12.0 267.0,11.9 266.4,11.4 266.3,11.2 266.1,11.1 265.9,11.0 265.7,10.9 265.5,10.8 265.3,10.8 265.1,10.8 264.9,10.7 264.7,10.8 264.5,10.8 264.3,10.8 264.1,10.9 263.9,11.0 263.7,11.1 263.5,11.2 263.4,11.4 263.2,11.5 263.1,11.7 263.0,11.9 262.9,12.1 262.8,12.3 262.8,12.3 262.8,12.4 262.8,12.4 262.7,12.5 262.7,12.5 262.6,12.6 262.6,12.6 262.3,12.8 262.2,12.9 262.0,13.1 261.9,13.3 261.6,13.7 261.5,13.9 261.4,14.0 261.3,14.2 261.3,14.4Z"/><path d="M303.9,59.4 303.8,59.6 303.7,59.8 303.7,60.0 303.6,60.2 303.6,60.4 303.6,60.7 303.6,60.9 303.7,61.1 303.7,61.3 303.8,61.5 303.9,61.7 304.1,62.0 304.2,62.2 304.4,62.4 304.6,62.5 304.8,62.7 305.0,62.8 305.1,62.9 305.3,63.0 305.5,63.0 305.7,63.1 305.9,63.1 306.2,63.1 306.4,63.1 306.6,63.1 306.8,63.1 307.0,63.0 307.2,62.9 307.4,62.8 307.6,62.7 308.1,62.4 308.3,62.3 308.4,62.1 308.6,62.0 308.7,61.8 308.8,61.6 308.9,61.4 308.9,61.2 309.0,61.0 309.0,60.8 309.0,60.6 309.0,60.4 309.0,60.2 308.9,60.0 308.9,59.8 308.8,59.6 308.7,59.4 308.5,59.2 308.4,59.0 307.7,58.4 307.5,58.2 307.4,58.1 307.2,58.0 307.0,57.9 306.8,57.8 306.6,57.8 306.4,57.7 306.2,57.7 306.0,57.7 305.7,57.8 305.5,57.8 305.3,57.9 305.1,58.0 305.0,58.1 304.8,58.2 304.6,58.3 304.5,58.5 304.4,58.7 304.2,58.8Z"/><path d="M303.0,54.0 303.2,53.9 303.4,53.9 303.6,53.8 303.8,53.8 304.0,53.7 304.2,53.5 304.4,53.4 304.5,53.3 304.7,53.1 304.8,52.9 304.9,52.7 305.0,52.5 305.0,52.3 305.1,52.1 305.1,51.9 305.1,51.7 305.1,51.5 305.1,51.3 305.0,51.1 304.9,50.9 304.8,50.7 304.7,50.5 304.6,50.3 300.3,45.3 300.2,45.1 300.0,45.0 299.8,44.9 299.6,44.8 299.4,44.7 299.2,44.6 299.0,44.5 298.8,44.5 298.6,44.5 298.4,44.5 298.1,44.6 297.9,44.6 297.7,44.7 297.5,44.8 297.3,44.9 297.2,45.1 297.0,45.2 294.4,48.1 294.3,48.3 294.2,48.5 294.1,48.6 294.0,48.9 293.9,49.1 293.9,49.3 293.9,49.5 293.9,49.7 293.9,49.9 293.9,50.2 294.0,50.4 295.0,52.8 295.0,53.0 295.2,53.2 295.3,53.4 295.4,53.5 295.6,53.7 295.7,53.8 295.9,53.9 296.1,54.0 296.3,54.1 296.5,54.2 296.7,54.2 296.9,54.2 297.1,54.2Z"/></g>
<path d="M304,58 C306,56 311,56 313,58 C314,61 311,64 307,63.5 C305,62.5 304,60 304,58 Z" fill="#3d6b35" opacity="0.9"/>
<path d="M379.83,24.57 378.70,24.10 377.48,24.10 376.35,24.57 375.46,25.48 374.54,25.49 373.42,26.02 372.27,25.83 370.79,26.12 369.54,26.96 368.82,28.00 367.56,27.72 366.39,27.95 365.01,29.08 364.54,30.30 362.73,30.95 361.58,32.10 361.19,32.82 360.88,34.52 360.03,36.07 360.03,37.24 360.52,39.51 361.71,40.96 363.03,41.46 363.41,42.34 364.16,43.09 365.80,43.53 366.11,45.06 366.49,45.76 369.18,48.61 371.66,49.88 372.99,50.14 374.31,49.88 375.18,49.33 375.91,49.44 377.01,49.22 377.92,48.62 379.30,49.31 380.44,49.58 380.65,50.43 381.39,51.54 382.50,52.28 384.29,52.95 386.34,53.15 387.91,52.39 389.06,53.28 390.16,53.50 391.03,53.35 392.27,54.17 393.76,54.47 395.26,54.17 396.78,53.01 397.91,53.04 399.14,52.42 400.41,53.02 401.60,53.02 402.66,52.58 404.56,53.18 405.84,52.92 406.86,52.25 408.96,52.83 410.56,52.51 411.92,51.60 412.84,50.22 413.83,50.00 414.89,49.29 416.38,47.27 416.99,45.26 416.71,43.88 415.93,42.71 414.15,41.74 413.54,40.85 412.74,40.29 412.53,39.35 411.98,38.49 411.95,37.24 411.35,35.78 410.23,34.67 408.27,34.01 407.59,33.56 407.17,32.69 406.12,31.64 404.31,31.03 403.82,29.48 403.00,28.66 401.34,28.16 400.20,28.38 399.38,28.91 397.00,27.29 395.52,26.98 395.06,25.96 394.07,24.97 392.78,24.43 391.29,24.46 390.60,23.36 389.03,22.52 387.83,22.52 387.02,22.82 385.81,22.59 384.54,22.84 383.19,23.89 381.32,24.42 380.51,25.22Z" fill="#9886bc" stroke="#5c4e74" stroke-width="0.7"/><g fill="url(#gp)"><path d="M361.2,34.7 361.2,34.7 360.7,35.7 360.6,35.9 360.5,36.1 360.5,36.3 360.4,36.5 360.4,36.7 360.4,37.0 360.4,37.2 360.5,37.4 360.8,38.8 360.8,39.0 360.9,39.2 361.0,39.4 361.1,39.6 361.2,39.7 361.6,40.2 361.7,40.3 361.9,40.5 362.1,40.6 362.3,40.7 362.5,40.8 363.1,41.1 363.2,41.1 363.2,41.1 363.4,41.2 363.6,41.2 363.8,41.3 364.0,41.3 364.2,41.3 364.4,41.3 364.6,41.3 364.8,41.2 365.0,41.2 365.2,41.1 365.4,41.0 365.5,40.8 365.7,40.7 365.8,40.5 367.5,38.6 367.6,38.4 367.7,38.2 367.8,38.0 367.9,37.8 368.0,37.6 368.0,37.4 368.0,37.2 368.0,36.9 367.9,36.7 367.4,34.4 367.4,34.2 367.3,34.0 367.2,33.8 367.0,33.6 366.9,33.4 366.7,33.2 366.6,33.1 364.9,31.9 364.7,31.8 364.5,31.7 364.3,31.7 364.1,31.6 363.9,31.6 363.7,31.5 363.5,31.6 363.3,31.6 363.0,31.6 362.8,31.7 362.6,31.8 362.4,31.9 362.3,32.0 362.1,32.2 362.0,32.4 361.8,32.5 361.7,32.7 361.6,32.9 361.5,33.1 361.5,33.4 361.3,34.6 361.3,34.6 361.3,34.6Z"/><path d="M399.7,33.7 399.5,33.8 399.3,33.9 399.2,34.1 399.0,34.2 398.9,34.4 398.8,34.6 398.7,34.8 398.6,35.0 398.6,35.2 398.3,36.5 398.3,36.7 398.3,36.9 398.3,37.2 398.4,37.4 398.4,37.6 398.5,37.8 398.6,38.0 398.7,38.1 398.9,38.3 399.0,38.5 399.2,38.6 401.6,40.5 401.8,40.6 401.9,40.7 402.1,40.8 402.3,40.8 402.5,40.9 402.7,40.9 402.9,40.9 403.1,40.9 405.7,40.7 405.9,40.6 406.2,40.6 406.4,40.5 406.5,40.4 406.7,40.3 406.9,40.2 407.1,40.1 407.2,39.9 407.3,39.7 407.5,39.6 408.7,37.3 408.8,37.1 408.9,36.9 409.0,36.7 409.0,36.5 409.0,36.3 409.0,36.1 409.0,35.8 408.9,35.6 408.8,35.4 408.8,35.2 408.6,35.0 408.5,34.9 408.4,34.7 408.2,34.6 408.0,34.4 407.3,34.0 407.3,34.0 407.3,33.9 407.2,33.9 407.2,33.8 407.2,33.8 407.1,33.7 406.9,33.3 406.8,33.1 406.7,32.9 406.5,32.7 406.2,32.4 406.1,32.3 405.9,32.2 405.7,32.1 405.6,32.0 405.4,31.9 404.9,31.7 404.6,31.7 404.4,31.6 404.2,31.6 404.0,31.6 403.8,31.6 403.5,31.7 403.3,31.8 403.1,31.9Z"/><path d="M377.0,39.0 377.1,38.9 377.3,38.7 377.4,38.6 377.6,38.4 377.7,38.2 377.8,38.1 377.8,37.9 377.9,37.7 377.9,37.5 377.9,37.3 377.9,37.0 377.9,36.8 377.9,36.6 376.8,32.5 376.7,32.3 376.6,32.1 376.5,31.9 376.4,31.7 376.2,31.6 376.1,31.4 375.9,31.3 375.7,31.2 375.6,31.1 375.4,31.0 375.2,30.9 375.0,30.8 374.8,30.8 374.6,30.8 374.3,30.8 374.1,30.8 373.9,30.8 373.7,30.9 373.5,31.0 369.2,32.9 369.0,33.0 368.8,33.1 368.7,33.3 368.5,33.4 368.4,33.6 368.2,33.7 368.1,33.9 368.0,34.1 368.0,34.3 367.9,34.5 367.9,34.8 367.9,35.0 367.9,35.2 367.9,35.4 368.2,36.8 368.3,37.0 368.4,37.2 368.5,37.4 368.6,37.6 368.7,37.7 368.9,37.9 369.1,38.0 369.2,38.2 372.8,40.3 372.9,40.4 373.1,40.5 373.3,40.6 373.5,40.6 373.8,40.6 374.0,40.6 374.2,40.6 374.4,40.6 374.6,40.5 374.8,40.5 375.0,40.4 375.2,40.3Z"/><path d="M410.9,36.4 410.9,36.3 410.9,36.3 410.8,36.2 410.8,36.2 410.8,36.1 410.7,36.1 410.7,36.1 410.6,36.1 410.6,36.0 410.5,36.0 410.4,36.0 410.4,36.0 410.3,36.0 410.3,36.0 410.2,36.0 410.2,36.0 410.1,36.1 410.1,36.1 410.0,36.1 410.0,36.2 409.9,36.2 409.9,36.3 409.9,36.3 407.5,40.4 407.5,40.4 407.5,40.5 407.5,40.5 407.5,40.6 407.5,40.7 407.5,40.7 407.5,40.8 407.5,40.8 407.5,40.9 407.5,40.9 407.6,41.0 407.6,41.0 410.2,44.6 410.3,44.7 410.3,44.7 410.4,44.8 410.4,44.8 410.5,44.8 410.5,44.9 410.6,44.9 410.6,44.9 410.7,44.9 410.7,44.9 410.8,44.9 415.2,44.3 415.3,44.2 415.3,44.2 415.4,44.2 415.4,44.2 415.5,44.1 415.5,44.1 415.5,44.1 415.6,44.0 415.6,44.0 415.6,43.9 415.7,43.9 415.7,43.8 415.7,43.8 415.7,43.7 415.7,43.7 415.7,43.6 415.7,43.5 415.7,43.5 415.7,43.4 415.6,43.4 415.6,43.3 415.6,43.3 415.6,43.2 415.5,43.2 415.5,43.2 415.4,43.1 415.4,43.1 413.9,42.3 413.8,42.3 413.8,42.3 413.8,42.2 413.7,42.2 413.7,42.2 413.7,42.1 413.7,42.1 413.6,42.1 413.2,41.4 413.1,41.3 413.1,41.3 413.1,41.3 413.0,41.2 412.4,40.8 412.4,40.8 412.4,40.8 412.3,40.7 412.3,40.7 412.2,40.6 412.2,40.6 412.2,40.5 412.2,40.5 412.2,40.4 412.1,40.4 412.0,39.7 412.0,39.6 411.9,39.6 411.9,39.5 411.9,39.5 411.5,38.8 411.5,38.8 411.5,38.8 411.4,38.7 411.4,38.7 411.4,38.6 411.4,38.6 411.4,38.5 411.4,38.5 411.4,38.5 411.3,37.5 411.3,37.4 411.3,37.4 411.3,37.3 411.3,37.3Z"/><path d="M400.6,49.3 400.5,49.5 400.5,49.7 400.5,49.9 400.5,50.1 400.6,50.4 400.6,50.6 400.7,50.8 400.8,51.0 401.0,51.1 401.1,51.3 401.3,51.5 401.4,51.6 401.6,51.7 401.8,51.8 402.0,51.9 402.2,51.9 402.5,52.0 402.7,52.0 402.7,52.0 402.7,52.0 402.8,52.0 402.9,52.0 404.1,52.4 404.3,52.5 404.5,52.5 404.7,52.5 404.9,52.5 405.1,52.5 405.2,52.4 405.4,52.4 405.6,52.3 405.8,52.2 406.0,52.1 406.5,51.8 406.5,51.8 406.6,51.7 406.7,51.7 406.7,51.7 406.9,51.6 406.9,51.6 407.0,51.6 407.2,51.5 407.4,51.5 407.6,51.3 407.8,51.2 408.0,51.1 408.1,50.9 408.3,50.7 408.4,50.5 408.5,50.3 408.5,50.1 409.7,46.4 409.7,46.2 409.8,45.9 409.8,45.7 409.8,45.5 409.7,45.3 409.7,45.0 409.6,44.8 409.5,44.6 409.3,44.4 407.6,42.0 407.4,41.9 407.3,41.7 407.1,41.6 406.9,41.4 406.7,41.3 406.5,41.3 406.3,41.2 406.1,41.2 405.8,41.2 405.6,41.2 404.0,41.3 403.8,41.3 403.6,41.4 403.4,41.5 403.2,41.5 403.0,41.6 402.9,41.8 402.7,41.9 402.6,42.1 402.4,42.2 402.3,42.4 402.2,42.6 402.1,42.8 402.1,43.0Z"/><path d="M384.2,23.8 384.0,24.0 383.9,24.1 383.8,24.3 383.6,24.5 383.5,24.7 383.5,24.9 383.4,25.1 383.4,25.3 383.4,25.5 383.4,25.7 383.5,27.4 383.5,27.6 383.6,27.8 383.7,28.0 383.8,28.2 383.9,28.4 384.0,28.5 384.1,28.7 384.3,28.9 385.9,30.2 386.1,30.4 386.3,30.5 386.5,30.6 386.7,30.7 386.9,30.7 387.1,30.8 387.4,30.8 387.6,30.8 387.8,30.7 388.0,30.7 388.2,30.6 388.4,30.5 391.2,28.9 391.4,28.8 391.6,28.6 391.7,28.5 391.9,28.3 392.0,28.2 392.1,28.0 392.2,27.8 392.3,27.6 392.3,27.4 392.3,27.2 392.4,26.9 392.3,26.7 392.3,26.5 392.3,26.3 392.2,26.1 392.1,25.9 392.0,25.7 391.8,25.6 391.7,25.4 391.5,25.3 391.4,25.1 391.2,25.0 391.1,25.0 391.0,24.9 391.0,24.9 390.9,24.9 390.9,24.8 390.8,24.8 390.8,24.7 390.5,24.3 390.4,24.1 390.2,23.9 390.1,23.8 389.9,23.6 389.7,23.5 389.4,23.3 389.2,23.3 389.0,23.2 388.8,23.1 388.5,23.1 388.3,23.1 388.3,23.1 388.1,23.1 387.9,23.1 387.7,23.2 387.6,23.2 387.2,23.3 387.2,23.4 387.1,23.4 387.1,23.4 387.0,23.4 387.0,23.4 386.9,23.4 386.9,23.4 386.2,23.2 386.0,23.2 385.8,23.2 385.6,23.2 385.4,23.2 385.3,23.3 385.1,23.3 384.9,23.4 384.7,23.5 384.5,23.6 384.4,23.7Z"/><path d="M374.3,43.2 374.3,43.4 374.4,43.6 374.4,43.8 374.5,44.0 374.6,44.2 374.7,44.4 374.8,44.6 375.0,44.7 375.1,44.9 378.0,47.3 378.1,47.4 378.3,47.6 378.5,47.7 378.7,47.7 379.0,47.8 379.2,47.8 379.4,47.8 379.6,47.8 379.8,47.8 380.1,47.7 380.3,47.7 380.5,47.6 380.7,47.4 380.8,47.3 382.9,45.5 383.1,45.3 383.2,45.2 383.3,45.0 383.5,44.8 383.5,44.6 383.6,44.4 383.7,44.2 383.7,44.0 383.7,43.8 383.7,43.6 383.6,43.4 383.6,43.2 383.5,43.0 383.4,42.8 381.9,40.1 381.8,39.9 381.7,39.7 381.6,39.5 381.4,39.4 381.2,39.3 381.1,39.2 380.9,39.1 380.7,39.0 380.5,38.9 379.5,38.7 379.3,38.7 379.0,38.7 378.8,38.7 378.6,38.7 378.4,38.8 378.2,38.9 378.0,39.0 377.8,39.1 375.3,40.8 375.1,40.9 374.9,41.1 374.8,41.2 374.7,41.4 374.6,41.6 374.5,41.8 374.4,42.0 374.4,42.2 374.3,42.4 374.3,42.6Z"/><path d="M391.5,43.8 391.4,44.0 391.4,44.2 391.3,44.4 391.3,44.6 391.3,44.8 391.3,45.0 391.4,45.3 391.4,45.5 391.5,45.7 391.6,45.9 391.7,46.1 391.9,46.2 392.0,46.4 392.2,46.5 392.4,46.6 397.1,49.3 397.3,49.4 397.4,49.5 397.7,49.5 397.9,49.6 398.1,49.6 398.3,49.6 398.5,49.6 398.7,49.5 398.9,49.4 399.1,49.4 399.3,49.3 399.5,49.1 399.6,49.0 399.8,48.8 399.9,48.7 400.0,48.5 400.1,48.3 400.2,48.1 400.3,47.9 401.6,42.7 401.6,42.5 401.6,42.3 401.6,42.0 401.6,41.8 401.6,41.6 401.5,41.4 401.4,41.2 401.3,41.0 401.2,40.9 401.1,40.7 400.9,40.6 400.8,40.4 398.9,39.0 398.7,38.9 398.5,38.8 398.4,38.7 398.2,38.6 397.9,38.6 397.7,38.5 397.5,38.5 397.3,38.6 397.1,38.6 396.9,38.6 396.7,38.7 394.0,39.8 393.8,39.9 393.6,40.0 393.5,40.2 393.3,40.3 393.2,40.5 393.0,40.7 392.9,40.9Z"/><path d="M392.2,41.3 392.3,41.1 392.4,40.9 392.4,40.7 392.4,40.5 392.4,40.2 392.4,40.0 392.4,39.8 392.3,39.6 392.2,39.4 392.1,39.2 392.0,39.0 391.8,38.8 388.6,35.4 388.4,35.3 388.3,35.1 388.1,35.0 387.9,34.9 387.7,34.8 387.5,34.8 387.2,34.8 387.0,34.7 386.8,34.7 386.6,34.8 386.4,34.8 386.2,34.9 386.0,35.0 385.8,35.1 385.6,35.2 385.4,35.4 383.0,37.8 382.9,37.9 382.8,38.1 382.7,38.3 382.6,38.5 382.5,38.7 382.4,38.9 382.4,39.1 382.4,39.3 382.4,39.5 382.4,39.8 382.5,40.0 382.6,40.2 382.7,40.4 384.3,43.4 384.4,43.5 384.5,43.7 384.7,43.9 384.8,44.0 385.0,44.1 385.2,44.2 385.4,44.3 385.6,44.4 385.8,44.5 388.6,45.0 388.8,45.1 389.0,45.1 389.2,45.1 389.4,45.0 389.7,45.0 389.9,44.9 390.1,44.8 390.3,44.7 390.4,44.5 390.6,44.4 390.7,44.2 390.9,44.0 391.0,43.8Z"/><path d="M380.8,49.5 380.8,49.5 380.9,49.9 381.0,50.1 381.1,50.4 381.2,50.6 381.4,50.9 381.6,51.1 381.7,51.2 381.9,51.4 382.0,51.5 382.5,51.8 382.7,51.9 382.9,52.0 384.1,52.4 384.3,52.5 384.5,52.6 384.7,52.6 385.7,52.7 385.9,52.7 386.1,52.7 386.3,52.7 386.5,52.6 386.6,52.5 386.8,52.5 387.6,52.1 387.8,52.0 388.0,51.8 388.2,51.7 388.3,51.5 388.5,51.4 388.6,51.2 388.7,51.0 388.8,50.8 389.7,48.0 389.7,47.8 389.7,47.6 389.8,47.4 389.7,47.1 389.7,46.9 389.7,46.7 389.6,46.5 389.5,46.3 389.4,46.1 389.3,46.0 389.1,45.8 389.0,45.6 388.8,45.5 388.6,45.4 388.4,45.3 388.2,45.2 388.0,45.2 385.7,44.7 385.5,44.7 385.3,44.7 385.1,44.7 384.9,44.7 384.6,44.8 384.4,44.9 384.2,45.0 384.0,45.1 383.9,45.2 381.5,47.3 381.4,47.4 381.2,47.6 381.1,47.7 381.0,47.9 380.9,48.1 380.8,48.3 380.8,48.5 380.8,48.7 380.8,48.9 380.8,49.1 380.8,49.3Z"/><path d="M365.0,29.9 365.0,30.1 364.9,30.3 364.9,30.5 364.9,30.7 364.9,31.0 365.0,31.2 365.0,31.4 365.1,31.6 365.2,31.8 365.3,32.0 365.5,32.2 365.7,32.3 365.8,32.5 366.3,32.8 366.5,32.9 366.7,33.0 366.9,33.1 367.1,33.1 367.3,33.2 367.5,33.2 367.7,33.2 367.9,33.2 368.1,33.1 368.3,33.1 368.5,33.0 369.6,32.5 369.7,32.4 369.9,32.3 370.1,32.2 370.3,32.0 370.4,31.9 370.5,31.7 370.6,31.7 370.8,31.8 371.1,31.7 371.3,31.7 371.5,31.6 371.7,31.6 373.0,31.0 373.2,30.9 373.3,30.8 373.5,30.6 373.7,30.5 373.8,30.3 373.9,30.2 374.0,30.0 374.1,29.8 374.2,29.6 374.2,29.4 374.3,29.2 374.3,29.0 374.3,28.7 374.2,28.2 374.2,28.0 374.1,27.8 374.0,27.6 373.9,27.4 373.8,27.2 373.7,27.0 373.6,26.9 373.4,26.7 373.2,26.6 373.0,26.5 372.8,26.4 372.6,26.3 372.4,26.3 372.2,26.3 372.0,26.2 371.8,26.3 371.6,26.3 371.3,26.3 371.1,26.4 370.9,26.5 370.7,26.6 370.6,26.7 370.1,27.0 369.9,27.1 369.8,27.2 369.7,27.4 369.5,27.5 369.1,28.2 369.1,28.2 369.1,28.2 369.1,28.2 369.0,28.3 369.0,28.3 368.9,28.3 368.9,28.3 368.7,28.3 368.7,28.3 368.0,28.1 367.8,28.1 367.6,28.1 367.3,28.1 367.1,28.1 367.1,28.1 366.9,28.2 366.7,28.3 366.5,28.4 366.3,28.5 366.1,28.6 365.7,28.9 365.6,29.1 365.4,29.2 365.3,29.4 365.2,29.6 365.1,29.8Z"/><path d="M377.3,48.4 377.3,48.4 377.4,48.3 377.4,48.3 377.4,48.3 377.5,48.2 377.5,48.2 377.5,48.1 377.5,48.0 377.5,48.0 377.6,47.9 377.5,47.9 377.5,47.8 377.5,47.8 377.5,47.7 377.5,47.6 377.5,47.6 377.4,47.5 377.4,47.5 377.3,47.5 374.4,45.0 374.4,45.0 374.3,44.9 374.3,44.9 374.2,44.9 374.2,44.9 374.1,44.9 374.1,44.8 374.0,44.8 374.0,44.9 373.9,44.9 373.8,44.9 373.8,44.9 373.7,44.9 373.7,45.0 373.7,45.0 370.5,47.8 370.4,47.8 370.4,47.9 370.4,47.9 370.3,48.0 370.3,48.0 370.3,48.1 370.3,48.1 370.3,48.2 370.3,48.2 370.3,48.3 370.3,48.4 370.3,48.4 370.3,48.5 370.4,48.5 370.4,48.6 370.4,48.6 370.5,48.7 370.5,48.7 370.6,48.7 370.6,48.8 371.8,49.3 371.8,49.4 371.9,49.4 371.9,49.4 372.9,49.6 372.9,49.6 373.0,49.6 373.0,49.6 373.1,49.6 374.0,49.4 374.1,49.4 374.1,49.4 374.2,49.4 374.2,49.3 374.9,48.9 374.9,48.9 374.9,48.9 375.0,48.9 375.0,48.8 375.1,48.8 375.1,48.8 375.2,48.8 375.2,48.8 375.2,48.8 375.3,48.8 375.8,48.9 375.9,48.9 375.9,48.9 376.0,48.9 376.7,48.8 376.8,48.7 376.8,48.7 376.9,48.7 376.9,48.7Z"/><path d="M388.5,30.9 388.3,31.0 388.1,31.2 388.0,31.3 387.8,31.5 387.7,31.7 387.6,31.9 387.5,32.1 387.5,32.3 387.4,32.5 387.4,32.7 387.4,32.9 387.4,33.2 387.5,33.4 387.5,33.6 387.6,33.8 387.7,34.0 387.8,34.2 388.0,34.3 392.1,38.6 392.2,38.8 392.4,38.9 392.6,39.0 392.8,39.1 393.0,39.2 393.2,39.3 393.4,39.3 393.6,39.3 393.9,39.3 394.1,39.3 394.3,39.2 394.5,39.2 396.7,38.2 396.9,38.2 397.1,38.0 397.2,37.9 397.4,37.8 397.6,37.6 397.7,37.4 397.8,37.2 397.9,37.0 398.0,36.8 398.0,36.6 398.3,35.0 398.3,34.7 398.3,34.5 398.3,34.3 398.3,34.1 398.2,33.9 398.1,33.7 398.0,33.5 397.9,33.4 395.3,29.4 395.1,29.2 395.0,29.1 394.8,28.9 394.6,28.8 394.4,28.7 394.2,28.6 394.0,28.5 393.8,28.5 393.6,28.5 393.4,28.5 393.2,28.5 393.0,28.5 392.7,28.6 392.5,28.6 392.4,28.7Z"/><path d="M410.0,47.0 409.9,47.2 409.9,47.4 409.9,47.7 409.9,47.9 409.9,48.1 410.0,48.3 410.1,48.5 410.2,48.7 410.3,48.9 410.4,49.1 410.6,49.2 410.7,49.4 410.9,49.5 411.1,49.6 411.3,49.7 411.5,49.8 411.7,49.8 411.9,49.8 412.1,49.8 412.3,49.8 412.6,49.8 412.7,49.8 412.7,49.8 412.7,49.8 412.8,49.7 413.2,49.6 413.4,49.6 413.6,49.5 413.8,49.4 414.0,49.3 414.2,49.1 414.4,49.0 414.5,48.9 414.7,48.8 414.8,48.6 414.8,48.6 414.9,48.4 415.0,48.2 415.1,48.0 415.2,47.8 415.2,47.6 415.2,47.4 415.2,47.2 415.2,47.0 415.2,46.7 415.1,46.5 415.0,46.3 414.9,46.2 414.8,46.0 414.7,45.8 414.5,45.7 414.3,45.5 414.2,45.4 414.0,45.3 413.8,45.2 413.6,45.2 413.4,45.1 413.1,45.1 412.9,45.1 412.7,45.1 411.8,45.2 411.6,45.3 411.4,45.3 411.2,45.4 411.1,45.5 410.9,45.6 410.7,45.7 410.6,45.9 410.4,46.0 410.3,46.2 410.2,46.4 410.1,46.6 410.1,46.8Z"/><path d="M389.2,50.1 389.1,50.3 389.1,50.5 389.1,50.7 389.1,50.9 389.1,51.2 389.2,51.4 389.2,51.6 389.3,51.8 389.4,52.0 389.6,52.1 389.7,52.3 389.9,52.4 390.0,52.6 390.2,52.7 390.4,52.8 390.6,52.9 390.8,52.9 391.0,53.0 391.1,53.0 391.1,53.0 391.2,53.0 391.2,53.0 391.2,53.0 391.3,53.0 392.1,53.6 392.2,53.7 392.4,53.8 392.6,53.8 392.9,53.9 393.3,54.0 393.5,54.0 393.8,54.0 394.0,54.0 394.2,54.0 394.6,53.9 394.8,53.9 395.0,53.8 395.2,53.7 395.3,53.6 395.5,53.5 396.3,52.8 396.5,52.7 396.7,52.6 396.8,52.4 396.9,52.2 397.0,52.0 397.1,51.8 397.1,51.6 397.2,51.4 397.2,51.2 397.2,51.0 397.2,50.7 397.1,50.5 397.1,50.3 397.0,50.1 396.9,49.9 396.7,49.8 396.6,49.6 396.5,49.4 396.3,49.3 396.1,49.2 392.9,47.3 392.7,47.2 392.5,47.2 392.3,47.1 392.0,47.1 391.8,47.0 391.6,47.1 391.4,47.1 391.2,47.1 391.0,47.2 390.8,47.3 390.6,47.4 390.4,47.5 390.2,47.7 390.1,47.8 390.0,48.0 389.8,48.2 389.8,48.4 389.7,48.6Z"/><path d="M375.6,25.8 375.4,25.9 375.2,26.0 375.0,26.1 374.9,26.3 374.7,26.4 374.6,26.6 374.5,26.8 374.4,27.0 374.3,27.2 374.3,27.4 374.2,27.6 374.2,27.8 374.2,28.1 374.4,29.1 374.4,29.3 374.4,29.5 374.5,29.7 374.6,29.9 374.8,30.1 374.9,30.3 375.1,30.5 375.2,30.6 375.4,30.7 375.6,30.8 375.8,30.9 375.9,31.0 376.1,31.0 376.4,31.1 376.6,31.1 376.8,31.1 377.0,31.1 377.2,31.0 377.4,31.0 377.6,30.9 380.5,29.6 380.7,29.5 380.9,29.4 381.1,29.3 381.2,29.1 381.4,29.0 381.5,28.8 381.6,28.6 381.7,28.4 381.8,28.2 381.8,28.0 381.8,27.8 381.8,27.6 381.8,27.3 381.8,27.1 381.7,26.9 381.6,26.7 381.6,26.5 381.4,26.3 381.3,26.2 381.2,26.0 381.0,25.9 380.8,25.7 380.6,25.6 380.4,25.5 380.4,25.5 380.3,25.5 380.3,25.5 380.3,25.5 380.3,25.4 379.9,25.1 379.8,25.0 379.6,24.9 379.4,24.8 379.3,24.7 379.0,24.6 378.8,24.5 378.6,24.5 378.4,24.5 378.2,24.4 378.0,24.4 377.8,24.5 377.6,24.5 377.3,24.5 377.1,24.6 377.0,24.7 376.8,24.8 376.6,24.9 376.4,25.0 376.2,25.2 375.7,25.7 375.7,25.7 375.7,25.7 375.6,25.8 375.6,25.8Z"/><path d="M395.4,27.4 395.4,27.4 395.3,27.4 395.3,27.4 395.2,27.4 395.1,27.4 395.1,27.4 395.0,27.4 395.0,27.5 394.9,27.5 394.9,27.5 394.8,27.6 394.8,27.6 394.8,27.7 394.8,27.7 394.7,27.8 394.7,27.8 394.7,27.9 394.7,28.0 394.7,28.0 394.7,28.1 394.7,28.1 394.7,28.2 394.8,28.3 394.8,28.3 398.3,33.5 398.3,33.5 398.4,33.6 398.4,33.6 398.5,33.6 398.5,33.7 398.6,33.7 398.6,33.7 398.7,33.7 398.7,33.7 398.8,33.7 398.9,33.7 398.9,33.7 399.0,33.7 399.0,33.7 399.1,33.7 403.5,31.3 403.5,31.3 403.6,31.3 403.6,31.2 403.7,31.2 403.7,31.1 403.7,31.1 403.7,31.0 403.8,31.0 403.8,30.9 403.8,30.9 403.8,30.8 403.8,30.7 403.8,30.7 403.8,30.6 403.5,29.8 403.5,29.8 403.5,29.7 403.4,29.7 403.4,29.6 403.4,29.6 402.9,29.1 402.8,29.1 402.8,29.0 402.7,29.0 402.7,29.0 402.6,29.0 401.5,28.6 401.4,28.6 401.4,28.6 401.3,28.6 401.2,28.6 401.2,28.6 400.5,28.7 400.4,28.8 400.4,28.8 400.3,28.8 400.3,28.8 399.6,29.3 399.6,29.3 399.6,29.3 399.5,29.3 399.5,29.3 399.5,29.3 399.4,29.3 399.4,29.3 399.4,29.3 399.3,29.3 399.3,29.3 399.2,29.3 399.2,29.3 399.2,29.3 399.2,29.3 399.1,29.2 396.9,27.7 396.9,27.7 396.8,27.7 396.8,27.7 396.7,27.6 395.4,27.4Z"/><path d="M384.4,29.3 384.2,29.2 384.0,29.1 383.8,29.0 383.6,28.9 383.4,28.8 383.2,28.8 383.0,28.8 382.7,28.8 382.5,28.8 382.3,28.9 382.1,29.0 378.4,30.6 378.2,30.7 378.0,30.8 377.8,31.0 377.7,31.1 377.5,31.3 377.4,31.5 377.3,31.7 377.2,31.9 377.1,32.1 377.1,32.3 377.1,32.5 377.1,32.7 377.1,33.0 377.2,33.2 378.1,36.9 378.2,37.1 378.3,37.3 378.4,37.5 378.5,37.7 378.7,37.9 378.8,38.0 379.0,38.1 379.2,38.3 379.4,38.4 379.6,38.4 379.8,38.5 380.5,38.6 380.7,38.7 380.9,38.7 381.2,38.7 381.4,38.6 381.6,38.6 381.8,38.5 382.0,38.4 382.2,38.3 382.3,38.2 382.5,38.0 386.4,34.2 386.5,34.0 386.7,33.9 386.8,33.7 386.9,33.5 386.9,33.3 387.0,33.1 387.0,32.9 387.0,32.6 387.0,32.6 387.0,32.4 387.0,32.2 387.0,32.0 386.9,31.8 386.8,31.6 386.7,31.4 386.6,31.2 386.4,31.0 386.3,30.9Z"/><path d="M366.1,43.3 366.1,43.3 366.1,43.4 366.1,43.4 366.2,43.5 366.2,43.5 366.4,44.6 366.4,44.8 366.5,45.0 366.6,45.2 366.6,45.3 366.7,45.5 366.9,45.6 367.0,45.8 368.0,46.8 368.1,46.9 368.3,47.1 368.5,47.2 368.6,47.3 368.8,47.4 369.0,47.4 369.2,47.5 369.5,47.5 369.7,47.5 369.9,47.5 370.1,47.4 370.3,47.4 370.5,47.3 370.7,47.2 370.8,47.1 371.0,46.9 373.2,45.0 373.4,44.9 373.5,44.7 373.6,44.5 373.7,44.3 373.8,44.2 373.9,43.9 373.9,43.7 374.0,43.5 374.0,43.3 373.9,42.5 373.9,42.3 373.9,42.1 373.8,41.9 373.8,41.7 373.7,41.5 373.5,41.3 373.4,41.1 373.2,41.0 373.1,40.8 372.9,40.7 369.9,38.9 369.7,38.8 369.5,38.7 369.3,38.6 369.1,38.6 368.8,38.5 368.6,38.5 368.4,38.6 368.2,38.6 368.0,38.7 367.8,38.8 367.6,38.9 367.4,39.0 367.2,39.2 367.1,39.3 366.1,40.5 366.0,40.6 365.8,40.8 365.8,41.0 365.7,41.2 365.6,41.5 365.6,41.7 365.6,41.9 365.6,42.1 365.6,42.3 365.7,42.5 365.8,42.8 365.8,43.0 366.0,43.1Z"/></g>
<text x="66.50" y="10.30" font-size="13.2" text-anchor="start" font-weight="bold" >A</text>
<text x="-1.00" y="121.20" font-size="13.2" text-anchor="start" font-weight="bold" >B</text>
<text x="238.80" y="121.20" font-size="13.2" text-anchor="start" font-weight="bold" >C</text>
<text x="98.20" y="334.30" font-size="13.2" text-anchor="start" font-weight="bold" >D</text>
<text x="-1.00" y="529.80" font-size="13.2" text-anchor="start" font-weight="bold" >E</text>
<text x="263.20" y="529.80" font-size="13.2" text-anchor="start" font-weight="bold" >F</text>
<line x1="32.60" y1="141.13" x2="32.60" y2="268.95" stroke="#000" stroke-width="1.15" />
<line x1="32.05" y1="268.40" x2="222.15" y2="268.40" stroke="#000" stroke-width="1.15" />
<line x1="27.60" y1="268.40" x2="32.60" y2="268.40" stroke="#000" stroke-width="1.15" />
<text x="23.20" y="271.60" font-size="9.2" text-anchor="end" font-weight="normal" >0</text>
<line x1="27.60" y1="236.72" x2="32.60" y2="236.72" stroke="#000" stroke-width="1.15" />
<text x="23.20" y="239.92" font-size="9.2" text-anchor="end" font-weight="normal" >1</text>
<line x1="27.60" y1="205.04" x2="32.60" y2="205.04" stroke="#000" stroke-width="1.15" />
<text x="23.20" y="208.24" font-size="9.2" text-anchor="end" font-weight="normal" >2</text>
<line x1="27.60" y1="173.36" x2="32.60" y2="173.36" stroke="#000" stroke-width="1.15" />
<text x="23.20" y="176.56" font-size="9.2" text-anchor="end" font-weight="normal" >3</text>
<line x1="27.60" y1="141.68" x2="32.60" y2="141.68" stroke="#000" stroke-width="1.15" />
<text x="23.20" y="144.88" font-size="9.2" text-anchor="end" font-weight="normal" >4</text>
<line x1="32.60" y1="268.40" x2="32.60" y2="272.90" stroke="#000" stroke-width="1.15" />
<text x="32.60" y="285.60" font-size="9.2" text-anchor="middle" font-weight="normal" >0.01</text>
<line x1="70.40" y1="268.40" x2="70.40" y2="272.90" stroke="#000" stroke-width="1.15" />
<text x="70.40" y="285.60" font-size="9.2" text-anchor="middle" font-weight="normal" >0.1</text>
<line x1="108.20" y1="268.40" x2="108.20" y2="272.90" stroke="#000" stroke-width="1.15" />
<text x="108.20" y="285.60" font-size="9.2" text-anchor="middle" font-weight="normal" >1</text>
<line x1="146.00" y1="268.40" x2="146.00" y2="272.90" stroke="#000" stroke-width="1.15" />
<text x="146.00" y="285.60" font-size="9.2" text-anchor="middle" font-weight="normal" >10</text>
<line x1="183.80" y1="268.40" x2="183.80" y2="272.90" stroke="#000" stroke-width="1.15" />
<text x="183.80" y="285.60" font-size="9.2" text-anchor="middle" font-weight="normal" >100</text>
<line x1="221.60" y1="268.40" x2="221.60" y2="272.90" stroke="#000" stroke-width="1.15" />
<text x="221.60" y="285.60" font-size="9.2" text-anchor="middle" font-weight="normal" >1,000</text>
<text x="134.60" y="299.40" font-size="9.7" text-anchor="middle" font-weight="normal" >Concentration (nmol/L)</text>
<text x="10.60" y="205.00" font-size="10" text-anchor="middle" font-weight="normal" transform="rotate(-90 10.6 205)">OD</text>
<polyline points="57.50,264.75 75.50,261.00 93.50,251.75 111.75,225.00 129.50,191.25 147.50,165.75 165.50,161.25 183.75,157.50" fill="none" stroke="#000" stroke-width="0.9" stroke-linejoin="round" />
<line x1="111.75" y1="221.00" x2="111.75" y2="229.00" stroke="#000" stroke-width="0.8" />
<line x1="109.55" y1="221.00" x2="113.95" y2="221.00" stroke="#000" stroke-width="0.8" />
<line x1="109.55" y1="229.00" x2="113.95" y2="229.00" stroke="#000" stroke-width="0.8" />
<line x1="129.50" y1="188.00" x2="129.50" y2="194.50" stroke="#000" stroke-width="0.8" />
<line x1="127.30" y1="188.00" x2="131.70" y2="188.00" stroke="#000" stroke-width="0.8" />
<line x1="127.30" y1="194.50" x2="131.70" y2="194.50" stroke="#000" stroke-width="0.8" />
<circle cx="57.50" cy="264.75" r="2.65" fill="#000"/>
<circle cx="75.50" cy="261.00" r="2.65" fill="#000"/>
<circle cx="93.50" cy="251.75" r="2.65" fill="#000"/>
<circle cx="111.75" cy="225.00" r="2.65" fill="#000"/>
<circle cx="129.50" cy="191.25" r="2.65" fill="#000"/>
<circle cx="147.50" cy="165.75" r="2.65" fill="#000"/>
<circle cx="165.50" cy="161.25" r="2.65" fill="#000"/>
<circle cx="183.75" cy="157.50" r="2.65" fill="#000"/>
<line x1="276.90" y1="139.44" x2="276.90" y2="266.05" stroke="#000" stroke-width="1.15" />
<line x1="276.35" y1="265.50" x2="466.45" y2="265.50" stroke="#000" stroke-width="1.15" />
<line x1="271.90" y1="265.50" x2="276.90" y2="265.50" stroke="#000" stroke-width="1.15" />
<text x="268.60" y="268.80" font-size="9.2" text-anchor="end" font-weight="normal" >0.0</text>
<line x1="271.90" y1="223.66" x2="276.90" y2="223.66" stroke="#000" stroke-width="1.15" />
<text x="268.60" y="226.97" font-size="9.2" text-anchor="end" font-weight="normal" >1.5</text>
<line x1="271.90" y1="181.83" x2="276.90" y2="181.83" stroke="#000" stroke-width="1.15" />
<text x="268.60" y="185.13" font-size="9.2" text-anchor="end" font-weight="normal" >1.0</text>
<line x1="271.90" y1="140.00" x2="276.90" y2="140.00" stroke="#000" stroke-width="1.15" />
<text x="268.60" y="143.30" font-size="9.2" text-anchor="end" font-weight="normal" >1.5</text>
<line x1="276.90" y1="265.50" x2="276.90" y2="270.00" stroke="#000" stroke-width="1.15" />
<text x="267.60" y="285.50" font-size="9.2" text-anchor="start">10<tspan dy="-2.3" font-size="7.0">−13</tspan></text>
<line x1="314.70" y1="265.50" x2="314.70" y2="270.00" stroke="#000" stroke-width="1.15" />
<text x="305.40" y="285.50" font-size="9.2" text-anchor="start">10<tspan dy="-2.3" font-size="7.0">−12</tspan></text>
<line x1="352.50" y1="265.50" x2="352.50" y2="270.00" stroke="#000" stroke-width="1.15" />
<text x="343.20" y="285.50" font-size="9.2" text-anchor="start">10<tspan dy="-2.3" font-size="7.0">−11</tspan></text>
<line x1="390.30" y1="265.50" x2="390.30" y2="270.00" stroke="#000" stroke-width="1.15" />
<text x="381.00" y="285.50" font-size="9.2" text-anchor="start">10<tspan dy="-2.3" font-size="7.0">−10</tspan></text>
<line x1="428.10" y1="265.50" x2="428.10" y2="270.00" stroke="#000" stroke-width="1.15" />
<text x="418.80" y="285.50" font-size="9.2" text-anchor="start">10<tspan dy="-2.3" font-size="7.0">−9</tspan></text>
<line x1="465.90" y1="265.50" x2="465.90" y2="270.00" stroke="#000" stroke-width="1.15" />
<text x="456.60" y="285.50" font-size="9.2" text-anchor="start">10<tspan dy="-2.3" font-size="7.0">−8</tspan></text>
<text x="379.20" y="302.20" font-size="9.7" text-anchor="middle" font-weight="normal" >Concentration (mol/L)</text>
<text x="247.90" y="203.00" font-size="10" text-anchor="middle" font-weight="normal" transform="rotate(-90 247.9 203)">OD</text>
<polyline points="318.90,263.40 356.10,257.80 394.00,229.50 431.25,173.75" fill="none" stroke="#ff0000" stroke-width="1.35" stroke-linejoin="round" />
<polyline points="318.90,263.40 356.10,257.80 394.00,227.10 431.25,162.50" fill="none" stroke="#ff0000" stroke-width="1.35" stroke-linejoin="round" />
<polyline points="341.25,265.50 368.00,257.50 393.70,219.80 420.00,187.50 446.25,185.50" fill="none" stroke="#0000ff" stroke-width="1.35" stroke-linejoin="round" />
<polyline points="314.70,265.50 341.25,265.50 368.00,261.00 393.70,240.20 420.00,153.25 446.25,154.50" fill="none" stroke="#0000ff" stroke-width="1.35" stroke-linejoin="round" />
<rect x="316.40" y="260.90" width="5.0" height="5.0" fill="none" stroke="#ff0000" stroke-width="1.2"/>
<rect x="353.60" y="255.30" width="5.0" height="5.0" fill="none" stroke="#ff0000" stroke-width="1.2"/>
<rect x="391.50" y="227.00" width="5.0" height="5.0" fill="none" stroke="#ff0000" stroke-width="1.2"/>
<rect x="428.75" y="171.25" width="5.0" height="5.0" fill="none" stroke="#ff0000" stroke-width="1.2"/>
<rect x="316.00" y="260.50" width="5.8" height="5.8" fill="#ff0000"/>
<rect x="353.20" y="254.90" width="5.8" height="5.8" fill="#ff0000"/>
<rect x="391.10" y="224.20" width="5.8" height="5.8" fill="#ff0000"/>
<rect x="428.35" y="159.60" width="5.8" height="5.8" fill="#ff0000"/>
<circle cx="314.70" cy="265.50" r="2.75" fill="#0000ff"/>
<circle cx="368.00" cy="261.00" r="2.75" fill="#0000ff"/>
<circle cx="393.70" cy="240.20" r="2.75" fill="#0000ff"/>
<circle cx="420.00" cy="153.25" r="2.75" fill="#0000ff"/>
<circle cx="446.25" cy="154.50" r="2.75" fill="#0000ff"/>
<circle cx="341.25" cy="265.50" r="2.6500000000000004" fill="none" stroke="#0000ff" stroke-width="1.2"/>
<circle cx="368.00" cy="257.50" r="2.6500000000000004" fill="none" stroke="#0000ff" stroke-width="1.2"/>
<circle cx="393.70" cy="219.80" r="2.6500000000000004" fill="none" stroke="#0000ff" stroke-width="1.2"/>
<circle cx="420.00" cy="187.50" r="2.6500000000000004" fill="none" stroke="#0000ff" stroke-width="1.2"/>
<circle cx="446.25" cy="185.50" r="2.6500000000000004" fill="none" stroke="#0000ff" stroke-width="1.2"/>
<line x1="291.00" y1="149.10" x2="305.60" y2="149.10" stroke="#0000ff" stroke-width="1.35" />
<circle cx="298.25" cy="149.10" r="2.4" fill="none" stroke="#0000ff" stroke-width="1.2"/>
<text x="313.00" y="152.30" font-size="9.45" text-anchor="start" font-weight="normal" >IL2</text>
<line x1="291.00" y1="162.40" x2="305.60" y2="162.40" stroke="#0000ff" stroke-width="1.35" />
<circle cx="298.25" cy="162.40" r="2.35" fill="#0000ff"/>
<text x="313.00" y="165.60" font-size="9.45" text-anchor="start" font-weight="normal" >IL2(+Collagen)</text>
<line x1="291.00" y1="177.30" x2="305.60" y2="177.30" stroke="#ff0000" stroke-width="1.35" />
<rect x="295.85" y="174.90" width="4.8" height="4.8" fill="none" stroke="#ff0000" stroke-width="1.2"/>
<text x="313.00" y="180.50" font-size="9.45" text-anchor="start" font-weight="normal" >mCLN-617</text>
<line x1="291.00" y1="190.70" x2="305.60" y2="190.70" stroke="#ff0000" stroke-width="1.35" />
<rect x="295.85" y="188.30" width="4.8" height="4.8" fill="#ff0000"/>
<text x="313.00" y="193.90" font-size="9.45" text-anchor="start" font-weight="normal" >mCLN-617(+Collagen)</text>
<line x1="158.25" y1="330.85" x2="158.25" y2="461.25" stroke="#000" stroke-width="1.15" />
<line x1="157.70" y1="460.70" x2="352.55" y2="460.70" stroke="#000" stroke-width="1.15" />
<line x1="153.25" y1="460.70" x2="158.25" y2="460.70" stroke="#000" stroke-width="1.15" />
<text x="150.00" y="464.00" font-size="9.2" text-anchor="end" font-weight="normal" >0.0</text>
<line x1="153.25" y1="417.60" x2="158.25" y2="417.60" stroke="#000" stroke-width="1.15" />
<text x="150.00" y="420.90" font-size="9.2" text-anchor="end" font-weight="normal" >1.5</text>
<line x1="153.25" y1="374.50" x2="158.25" y2="374.50" stroke="#000" stroke-width="1.15" />
<text x="150.00" y="377.80" font-size="9.2" text-anchor="end" font-weight="normal" >1.0</text>
<line x1="153.25" y1="331.40" x2="158.25" y2="331.40" stroke="#000" stroke-width="1.15" />
<text x="150.00" y="334.70" font-size="9.2" text-anchor="end" font-weight="normal" >1.5</text>
<line x1="158.25" y1="460.70" x2="158.25" y2="465.20" stroke="#000" stroke-width="1.15" />
<text x="148.95" y="480.80" font-size="9.2" text-anchor="start">10<tspan dy="-2.3" font-size="7.0">−15</tspan></text>
<line x1="197.00" y1="460.70" x2="197.00" y2="465.20" stroke="#000" stroke-width="1.15" />
<text x="187.70" y="480.80" font-size="9.2" text-anchor="start">10<tspan dy="-2.3" font-size="7.0">−14</tspan></text>
<line x1="235.75" y1="460.70" x2="235.75" y2="465.20" stroke="#000" stroke-width="1.15" />
<text x="226.45" y="480.80" font-size="9.2" text-anchor="start">10<tspan dy="-2.3" font-size="7.0">−13</tspan></text>
<line x1="274.50" y1="460.70" x2="274.50" y2="465.20" stroke="#000" stroke-width="1.15" />
<text x="265.20" y="480.80" font-size="9.2" text-anchor="start">10<tspan dy="-2.3" font-size="7.0">−12</tspan></text>
<line x1="313.25" y1="460.70" x2="313.25" y2="465.20" stroke="#000" stroke-width="1.15" />
<text x="303.95" y="480.80" font-size="9.2" text-anchor="start">10<tspan dy="-2.3" font-size="7.0">−11</tspan></text>
<line x1="352.00" y1="460.70" x2="352.00" y2="465.20" stroke="#000" stroke-width="1.15" />
<text x="342.70" y="480.80" font-size="9.2" text-anchor="start">10<tspan dy="-2.3" font-size="7.0">−10</tspan></text>
<text x="262.60" y="495.00" font-size="9.7" text-anchor="middle" font-weight="normal" >Concentration (mol/L)</text>
<text x="126.20" y="396.35" font-size="10" text-anchor="middle" font-weight="normal" transform="rotate(-90 126.2 396.35)">OD</text>
<polyline points="196.90,451.10 235.60,437.80 274.50,394.25 313.75,363.00" fill="none" stroke="#ff0000" stroke-width="1.35" stroke-linejoin="round" />
<polyline points="196.90,461.20 236.20,447.90 274.50,412.50 313.75,386.25" fill="none" stroke="#ff0000" stroke-width="1.35" stroke-linejoin="round" />
<polyline points="196.90,456.50 220.20,450.80 243.30,437.50 266.25,416.25 290.00,389.25 313.75,377.50" fill="none" stroke="#0000ff" stroke-width="1.35" stroke-linejoin="round" />
<polyline points="196.90,460.20 220.20,457.10 243.30,442.70 266.25,417.00 290.00,397.50 313.75,390.00" fill="none" stroke="#0000ff" stroke-width="1.35" stroke-linejoin="round" />
<rect x="194.40" y="448.60" width="5.0" height="5.0" fill="none" stroke="#ff0000" stroke-width="1.2"/>
<rect x="233.10" y="435.30" width="5.0" height="5.0" fill="none" stroke="#ff0000" stroke-width="1.2"/>
<rect x="272.00" y="391.75" width="5.0" height="5.0" fill="none" stroke="#ff0000" stroke-width="1.2"/>
<rect x="311.25" y="360.50" width="5.0" height="5.0" fill="none" stroke="#ff0000" stroke-width="1.2"/>
<rect x="194.40" y="458.70" width="5.0" height="5.0" fill="#ff0000"/>
<rect x="233.70" y="445.40" width="5.0" height="5.0" fill="#ff0000"/>
<rect x="272.00" y="410.00" width="5.0" height="5.0" fill="#ff0000"/>
<rect x="311.25" y="383.75" width="5.0" height="5.0" fill="#ff0000"/>
<circle cx="196.90" cy="460.20" r="2.45" fill="#0000ff"/>
<circle cx="220.20" cy="457.10" r="2.45" fill="#0000ff"/>
<circle cx="243.30" cy="442.70" r="2.45" fill="#0000ff"/>
<circle cx="266.25" cy="417.00" r="2.45" fill="#0000ff"/>
<circle cx="290.00" cy="397.50" r="2.45" fill="#0000ff"/>
<circle cx="313.75" cy="390.00" r="2.45" fill="#0000ff"/>
<circle cx="196.90" cy="456.50" r="2.45" fill="none" stroke="#0000ff" stroke-width="1.2"/>
<circle cx="220.20" cy="450.80" r="2.45" fill="none" stroke="#0000ff" stroke-width="1.2"/>
<circle cx="243.30" cy="437.50" r="2.45" fill="none" stroke="#0000ff" stroke-width="1.2"/>
<circle cx="266.25" cy="416.25" r="2.45" fill="none" stroke="#0000ff" stroke-width="1.2"/>
<circle cx="290.00" cy="389.25" r="2.45" fill="none" stroke="#0000ff" stroke-width="1.2"/>
<circle cx="313.75" cy="377.50" r="2.45" fill="none" stroke="#0000ff" stroke-width="1.2"/>
<line x1="167.00" y1="337.50" x2="181.50" y2="337.50" stroke="#0000ff" stroke-width="1.35" />
<circle cx="174.25" cy="337.50" r="2.4" fill="none" stroke="#0000ff" stroke-width="1.2"/>
<text x="189.50" y="340.70" font-size="9.45" text-anchor="start" font-weight="normal" >IL2</text>
<line x1="167.00" y1="351.75" x2="181.50" y2="351.75" stroke="#0000ff" stroke-width="1.35" />
<circle cx="174.25" cy="351.75" r="2.35" fill="#0000ff"/>
<text x="189.50" y="354.95" font-size="9.45" text-anchor="start" font-weight="normal" >IL2(+Collagen)</text>
<line x1="167.00" y1="365.00" x2="181.50" y2="365.00" stroke="#ff0000" stroke-width="1.35" />
<rect x="171.85" y="362.60" width="4.8" height="4.8" fill="none" stroke="#ff0000" stroke-width="1.2"/>
<text x="189.50" y="368.20" font-size="9.45" text-anchor="start" font-weight="normal" >mCLN-617</text>
<line x1="167.00" y1="378.75" x2="181.50" y2="378.75" stroke="#ff0000" stroke-width="1.35" />
<rect x="171.85" y="376.35" width="4.8" height="4.8" fill="#ff0000"/>
<text x="189.50" y="381.95" font-size="9.45" text-anchor="start" font-weight="normal" >mCLN-617(+Collagen)</text>
<line x1="52.50" y1="542.95" x2="52.50" y2="603.40" stroke="#000" stroke-width="1.15" />
<line x1="48.60" y1="603.40" x2="56.20" y2="603.40" stroke="#000" stroke-width="1.15" />
<line x1="45.30" y1="543.50" x2="52.50" y2="543.50" stroke="#000" stroke-width="1.15" />
<text x="42.00" y="547.80" font-size="9.7" text-anchor="end" font-weight="normal" >8,000</text>
<line x1="45.30" y1="560.50" x2="52.50" y2="560.50" stroke="#000" stroke-width="1.15" />
<text x="42.00" y="564.80" font-size="9.7" text-anchor="end" font-weight="normal" >6,000</text>
<line x1="45.30" y1="577.50" x2="52.50" y2="577.50" stroke="#000" stroke-width="1.15" />
<text x="42.00" y="581.80" font-size="9.7" text-anchor="end" font-weight="normal" >4,000</text>
<line x1="45.30" y1="594.60" x2="52.50" y2="594.60" stroke="#000" stroke-width="1.15" />
<text x="42.00" y="598.90" font-size="9.7" text-anchor="end" font-weight="normal" >2,000</text>
<line x1="52.50" y1="614.80" x2="52.50" y2="674.70" stroke="#000" stroke-width="1.15" />
<line x1="48.60" y1="614.80" x2="56.20" y2="614.80" stroke="#000" stroke-width="1.15" />
<line x1="47.10" y1="674.70" x2="52.50" y2="674.70" stroke="#000" stroke-width="1.15" />
<text x="44.60" y="678.40" font-size="9.7" text-anchor="end" font-weight="normal" >0</text>
<line x1="47.10" y1="662.76" x2="52.50" y2="662.76" stroke="#000" stroke-width="1.15" />
<text x="44.60" y="666.46" font-size="9.7" text-anchor="end" font-weight="normal" >200</text>
<line x1="47.10" y1="650.82" x2="52.50" y2="650.82" stroke="#000" stroke-width="1.15" />
<text x="44.60" y="654.52" font-size="9.7" text-anchor="end" font-weight="normal" >400</text>
<line x1="47.10" y1="638.88" x2="52.50" y2="638.88" stroke="#000" stroke-width="1.15" />
<text x="44.60" y="642.58" font-size="9.7" text-anchor="end" font-weight="normal" >600</text>
<line x1="47.10" y1="626.94" x2="52.50" y2="626.94" stroke="#000" stroke-width="1.15" />
<text x="44.60" y="630.64" font-size="9.7" text-anchor="end" font-weight="normal" >800</text>
<line x1="47.10" y1="615.00" x2="52.50" y2="615.00" stroke="#000" stroke-width="1.15" />
<text x="44.60" y="618.70" font-size="9.7" text-anchor="end" font-weight="normal" >1,000</text>
<line x1="51.95" y1="674.70" x2="249.50" y2="674.70" stroke="#000" stroke-width="1.15" />
<line x1="52.50" y1="674.70" x2="52.50" y2="679.50" stroke="#000" stroke-width="1.15" />
<text x="52.50" y="693.00" font-size="9.7" text-anchor="middle" font-weight="normal" >0</text>
<line x1="118.10" y1="674.70" x2="118.10" y2="679.50" stroke="#000" stroke-width="1.15" />
<text x="118.10" y="693.00" font-size="9.7" text-anchor="middle" font-weight="normal" >50</text>
<line x1="183.70" y1="674.70" x2="183.70" y2="679.50" stroke="#000" stroke-width="1.15" />
<text x="183.70" y="693.00" font-size="9.7" text-anchor="middle" font-weight="normal" >100</text>
<line x1="249.30" y1="674.70" x2="249.30" y2="679.50" stroke="#000" stroke-width="1.15" />
<text x="249.30" y="693.00" font-size="9.7" text-anchor="middle" font-weight="normal" >150</text>
<text x="141.50" y="707.40" font-size="9.7" text-anchor="middle" font-weight="normal" >Time (hours)</text>
<text x="150.10" y="525.90" font-size="11" text-anchor="middle" font-weight="normal" >IL2</text>
<text x="11.60" y="605.50" font-size="9.6" text-anchor="middle" font-weight="normal" transform="rotate(-90 11.6 605.5)">Concentration (pmol/L)</text>
<line x1="317.30" y1="542.85" x2="317.30" y2="603.40" stroke="#000" stroke-width="1.15" />
<line x1="313.40" y1="603.40" x2="321.00" y2="603.40" stroke="#000" stroke-width="1.15" />
<line x1="310.10" y1="543.40" x2="317.30" y2="543.40" stroke="#000" stroke-width="1.15" />
<text x="305.50" y="547.70" font-size="9.7" text-anchor="end" font-weight="normal" >15,000</text>
<line x1="310.10" y1="564.60" x2="317.30" y2="564.60" stroke="#000" stroke-width="1.15" />
<text x="305.50" y="568.90" font-size="9.7" text-anchor="end" font-weight="normal" >10,000</text>
<line x1="310.10" y1="585.80" x2="317.30" y2="585.80" stroke="#000" stroke-width="1.15" />
<text x="305.50" y="590.10" font-size="9.7" text-anchor="end" font-weight="normal" >5,000</text>
<line x1="317.30" y1="614.80" x2="317.30" y2="674.70" stroke="#000" stroke-width="1.15" />
<line x1="313.40" y1="614.80" x2="321.00" y2="614.80" stroke="#000" stroke-width="1.15" />
<line x1="311.90" y1="674.70" x2="317.30" y2="674.70" stroke="#000" stroke-width="1.15" />
<text x="309.40" y="678.40" font-size="9.7" text-anchor="end" font-weight="normal" >0</text>
<line x1="311.90" y1="662.76" x2="317.30" y2="662.76" stroke="#000" stroke-width="1.15" />
<text x="309.40" y="666.46" font-size="9.7" text-anchor="end" font-weight="normal" >200</text>
<line x1="311.90" y1="650.82" x2="317.30" y2="650.82" stroke="#000" stroke-width="1.15" />
<text x="309.40" y="654.52" font-size="9.7" text-anchor="end" font-weight="normal" >400</text>
<line x1="311.90" y1="638.88" x2="317.30" y2="638.88" stroke="#000" stroke-width="1.15" />
<text x="309.40" y="642.58" font-size="9.7" text-anchor="end" font-weight="normal" >600</text>
<line x1="311.90" y1="626.94" x2="317.30" y2="626.94" stroke="#000" stroke-width="1.15" />
<text x="309.40" y="630.64" font-size="9.7" text-anchor="end" font-weight="normal" >800</text>
<line x1="311.90" y1="615.00" x2="317.30" y2="615.00" stroke="#000" stroke-width="1.15" />
<text x="309.40" y="618.70" font-size="9.7" text-anchor="end" font-weight="normal" >1,000</text>
<line x1="316.75" y1="674.70" x2="514.30" y2="674.70" stroke="#000" stroke-width="1.15" />
<line x1="317.30" y1="674.70" x2="317.30" y2="679.50" stroke="#000" stroke-width="1.15" />
<text x="317.30" y="693.00" font-size="9.7" text-anchor="middle" font-weight="normal" >0</text>
<line x1="382.90" y1="674.70" x2="382.90" y2="679.50" stroke="#000" stroke-width="1.15" />
<text x="382.90" y="693.00" font-size="9.7" text-anchor="middle" font-weight="normal" >50</text>
<line x1="448.50" y1="674.70" x2="448.50" y2="679.50" stroke="#000" stroke-width="1.15" />
<text x="448.50" y="693.00" font-size="9.7" text-anchor="middle" font-weight="normal" >100</text>
<line x1="514.10" y1="674.70" x2="514.10" y2="679.50" stroke="#000" stroke-width="1.15" />
<text x="514.10" y="693.00" font-size="9.7" text-anchor="middle" font-weight="normal" >150</text>
<text x="406.30" y="707.40" font-size="9.7" text-anchor="middle" font-weight="normal" >Time (hours)</text>
<text x="414.30" y="524.90" font-size="10.8" text-anchor="middle" font-weight="normal" >IL12</text>
<text x="271.40" y="601.40" font-size="9.6" text-anchor="middle" font-weight="normal" transform="rotate(-90 271.4 601.4)">Concentration (pmol/L)</text>
<defs><clipPath id="up"><rect x="0" y="500" width="520" height="103.4"/></clipPath><clipPath id="lo"><rect x="0" y="614.8" width="520" height="100"/></clipPath></defs>
<g clip-path="url(#up)">
<polyline points="53.00,549.25 55.00,555.75 63.00,577.00 83.75,654.40 146.40,672.70 208.85,671.40" fill="none" stroke="#1f1fff" stroke-width="0.95" stroke-linejoin="round" />
</g>
<g clip-path="url(#lo)">
<polyline points="53.00,549.25 55.00,555.75 63.00,577.00 83.75,654.40 146.40,672.70 208.85,671.40" fill="none" stroke="#1f1fff" stroke-width="0.95" stroke-linejoin="round" />
</g>
<line x1="55.00" y1="553.00" x2="55.00" y2="558.50" stroke="#1f1fff" stroke-width="0.95" />
<line x1="52.10" y1="553.00" x2="57.90" y2="553.00" stroke="#1f1fff" stroke-width="0.95" />
<line x1="52.10" y1="558.50" x2="57.90" y2="558.50" stroke="#1f1fff" stroke-width="0.95" />
<line x1="63.00" y1="559.50" x2="63.00" y2="594.50" stroke="#1f1fff" stroke-width="0.95" />
<line x1="60.10" y1="559.50" x2="65.90" y2="559.50" stroke="#1f1fff" stroke-width="0.95" />
<line x1="60.10" y1="594.50" x2="65.90" y2="594.50" stroke="#1f1fff" stroke-width="0.95" />
<line x1="83.75" y1="647.40" x2="83.75" y2="662.00" stroke="#1f1fff" stroke-width="0.95" />
<line x1="80.85" y1="647.40" x2="86.65" y2="647.40" stroke="#1f1fff" stroke-width="0.95" />
<line x1="80.85" y1="662.00" x2="86.65" y2="662.00" stroke="#1f1fff" stroke-width="0.95" />
<circle cx="53.00" cy="549.25" r="2.75" fill="#0000ff"/>
<circle cx="55.00" cy="555.75" r="2.75" fill="#0000ff"/>
<circle cx="63.00" cy="577.00" r="2.75" fill="#0000ff"/>
<circle cx="83.75" cy="654.40" r="2.75" fill="#0000ff"/>
<circle cx="146.40" cy="672.70" r="2.75" fill="#0000ff"/>
<circle cx="208.85" cy="671.40" r="2.75" fill="#0000ff"/>
<polyline points="52.50,650.00 55.00,642.50 63.00,666.25 83.75,674.50 146.40,674.50 208.85,674.50" fill="none" stroke="#ff2020" stroke-width="0.95" stroke-linejoin="round" />
<line x1="52.50" y1="645.00" x2="52.50" y2="657.00" stroke="#ff2020" stroke-width="0.95" />
<line x1="49.60" y1="645.00" x2="55.40" y2="645.00" stroke="#ff2020" stroke-width="0.95" />
<line x1="49.60" y1="657.00" x2="55.40" y2="657.00" stroke="#ff2020" stroke-width="0.95" />
<line x1="55.00" y1="628.25" x2="55.00" y2="657.00" stroke="#ff2020" stroke-width="0.95" />
<line x1="52.10" y1="628.25" x2="57.90" y2="628.25" stroke="#ff2020" stroke-width="0.95" />
<line x1="52.10" y1="657.00" x2="57.90" y2="657.00" stroke="#ff2020" stroke-width="0.95" />
<line x1="63.00" y1="663.00" x2="63.00" y2="669.50" stroke="#ff2020" stroke-width="0.95" />
<line x1="60.30" y1="663.00" x2="65.70" y2="663.00" stroke="#ff2020" stroke-width="0.95" />
<line x1="60.30" y1="669.50" x2="65.70" y2="669.50" stroke="#ff2020" stroke-width="0.95" />
<rect x="49.80" y="647.30" width="5.4" height="5.4" fill="#ff0000"/>
<rect x="52.30" y="639.80" width="5.4" height="5.4" fill="#ff0000"/>
<rect x="60.30" y="663.55" width="5.4" height="5.4" fill="#ff0000"/>
<rect x="81.05" y="671.80" width="5.4" height="5.4" fill="#ff0000"/>
<rect x="143.70" y="671.80" width="5.4" height="5.4" fill="#ff0000"/>
<rect x="206.15" y="671.80" width="5.4" height="5.4" fill="#ff0000"/>
<g clip-path="url(#up)">
<polyline points="317.50,549.50 319.50,592.50 327.50,600.00 348.25,645.50 411.80,670.80 474.80,669.50" fill="none" stroke="#1f1fff" stroke-width="0.95" stroke-linejoin="round" />
</g>
<g clip-path="url(#lo)">
<polyline points="317.50,549.50 319.50,592.50 327.50,600.00 348.25,645.50 411.80,670.80 474.80,669.50" fill="none" stroke="#1f1fff" stroke-width="0.95" stroke-linejoin="round" />
</g>
<line x1="317.50" y1="546.20" x2="317.50" y2="552.80" stroke="#1f1fff" stroke-width="0.95" />
<line x1="314.60" y1="546.20" x2="320.40" y2="546.20" stroke="#1f1fff" stroke-width="0.95" />
<line x1="314.60" y1="552.80" x2="320.40" y2="552.80" stroke="#1f1fff" stroke-width="0.95" />
<g clip-path="url(#up)">
<line x1="319.50" y1="581.75" x2="319.50" y2="610.00" stroke="#1f1fff" stroke-width="0.95" />
<line x1="316.60" y1="581.75" x2="322.40" y2="581.75" stroke="#1f1fff" stroke-width="0.95" />
<line x1="316.60" y1="610.00" x2="322.40" y2="610.00" stroke="#1f1fff" stroke-width="0.95" />
<line x1="327.50" y1="595.50" x2="327.50" y2="610.00" stroke="#1f1fff" stroke-width="0.95" />
<line x1="324.60" y1="595.50" x2="330.40" y2="595.50" stroke="#1f1fff" stroke-width="0.95" />
<line x1="324.60" y1="610.00" x2="330.40" y2="610.00" stroke="#1f1fff" stroke-width="0.95" />
</g>
<line x1="327.50" y1="629.25" x2="327.50" y2="610.00" stroke="#1f1fff" stroke-width="0.95" />
<line x1="324.60" y1="629.25" x2="330.40" y2="629.25" stroke="#1f1fff" stroke-width="0.95" />
<line x1="324.60" y1="610.00" x2="330.40" y2="610.00" stroke="#1f1fff" stroke-width="0.95" />
<rect x="322" y="604" width="10" height="10.3" fill="#fff"/>
<line x1="348.25" y1="630.75" x2="348.25" y2="660.00" stroke="#1f1fff" stroke-width="0.95" />
<line x1="345.35" y1="630.75" x2="351.15" y2="630.75" stroke="#1f1fff" stroke-width="0.95" />
<line x1="345.35" y1="660.00" x2="351.15" y2="660.00" stroke="#1f1fff" stroke-width="0.95" />
<line x1="474.80" y1="661.40" x2="474.80" y2="669.50" stroke="#1f1fff" stroke-width="0.95" />
<line x1="471.90" y1="661.40" x2="477.70" y2="661.40" stroke="#1f1fff" stroke-width="0.95" />
<line x1="471.90" y1="669.50" x2="477.70" y2="669.50" stroke="#1f1fff" stroke-width="0.95" />
<circle cx="317.50" cy="549.50" r="2.75" fill="#0000ff"/>
<circle cx="319.50" cy="592.50" r="2.75" fill="#0000ff"/>
<circle cx="327.50" cy="600.00" r="2.75" fill="#0000ff"/>
<circle cx="348.25" cy="645.50" r="2.75" fill="#0000ff"/>
<circle cx="411.80" cy="670.80" r="2.75" fill="#0000ff"/>
<circle cx="474.80" cy="669.50" r="2.75" fill="#0000ff"/>
<polyline points="317.50,670.75 319.50,650.00 327.50,673.25 348.25,674.50 411.80,674.50 474.80,674.50" fill="none" stroke="#ff2020" stroke-width="0.95" stroke-linejoin="round" />
<line x1="319.50" y1="623.25" x2="319.50" y2="662.00" stroke="#ff2020" stroke-width="0.95" />
<line x1="316.60" y1="623.25" x2="322.40" y2="623.25" stroke="#ff2020" stroke-width="0.95" />
<line x1="316.60" y1="662.00" x2="322.40" y2="662.00" stroke="#ff2020" stroke-width="0.95" />
<rect x="314.80" y="668.05" width="5.4" height="5.4" fill="#ff0000"/>
<rect x="316.80" y="647.30" width="5.4" height="5.4" fill="#ff0000"/>
<rect x="324.80" y="670.55" width="5.4" height="5.4" fill="#ff0000"/>
<rect x="345.55" y="671.80" width="5.4" height="5.4" fill="#ff0000"/>
<rect x="409.10" y="671.80" width="5.4" height="5.4" fill="#ff0000"/>
<rect x="472.10" y="671.80" width="5.4" height="5.4" fill="#ff0000"/>
<line x1="458.00" y1="542.30" x2="472.90" y2="542.30" stroke="#1f1fff" stroke-width="0.95" />
<circle cx="465.60" cy="542.30" r="2.75" fill="#0000ff"/>
<text x="481.00" y="546.20" font-size="10.4" text-anchor="start" font-weight="normal" >Tumor</text>
<line x1="458.00" y1="560.30" x2="472.90" y2="560.30" stroke="#ff2020" stroke-width="0.95" />
<rect x="462.90" y="557.60" width="5.4" height="5.4" fill="#ff0000"/>
<text x="481.00" y="564.20" font-size="10.4" text-anchor="start" font-weight="normal" >Serum</text>
<text x="138.40" y="80.50" font-size="9.5" text-anchor="middle" font-weight="normal" >Murine IL12</text>
<text x="228.50" y="72.50" font-size="9.5" text-anchor="middle" font-weight="normal" >Murine LAIR1</text>
<text x="312.20" y="85.10" font-size="9.5" text-anchor="middle" font-weight="normal" >Mouse Serum Albumin</text>
<text x="390.20" y="71.30" font-size="9.5" text-anchor="middle" font-weight="normal" >Murine IL2</text>
</svg>
</body></html>
